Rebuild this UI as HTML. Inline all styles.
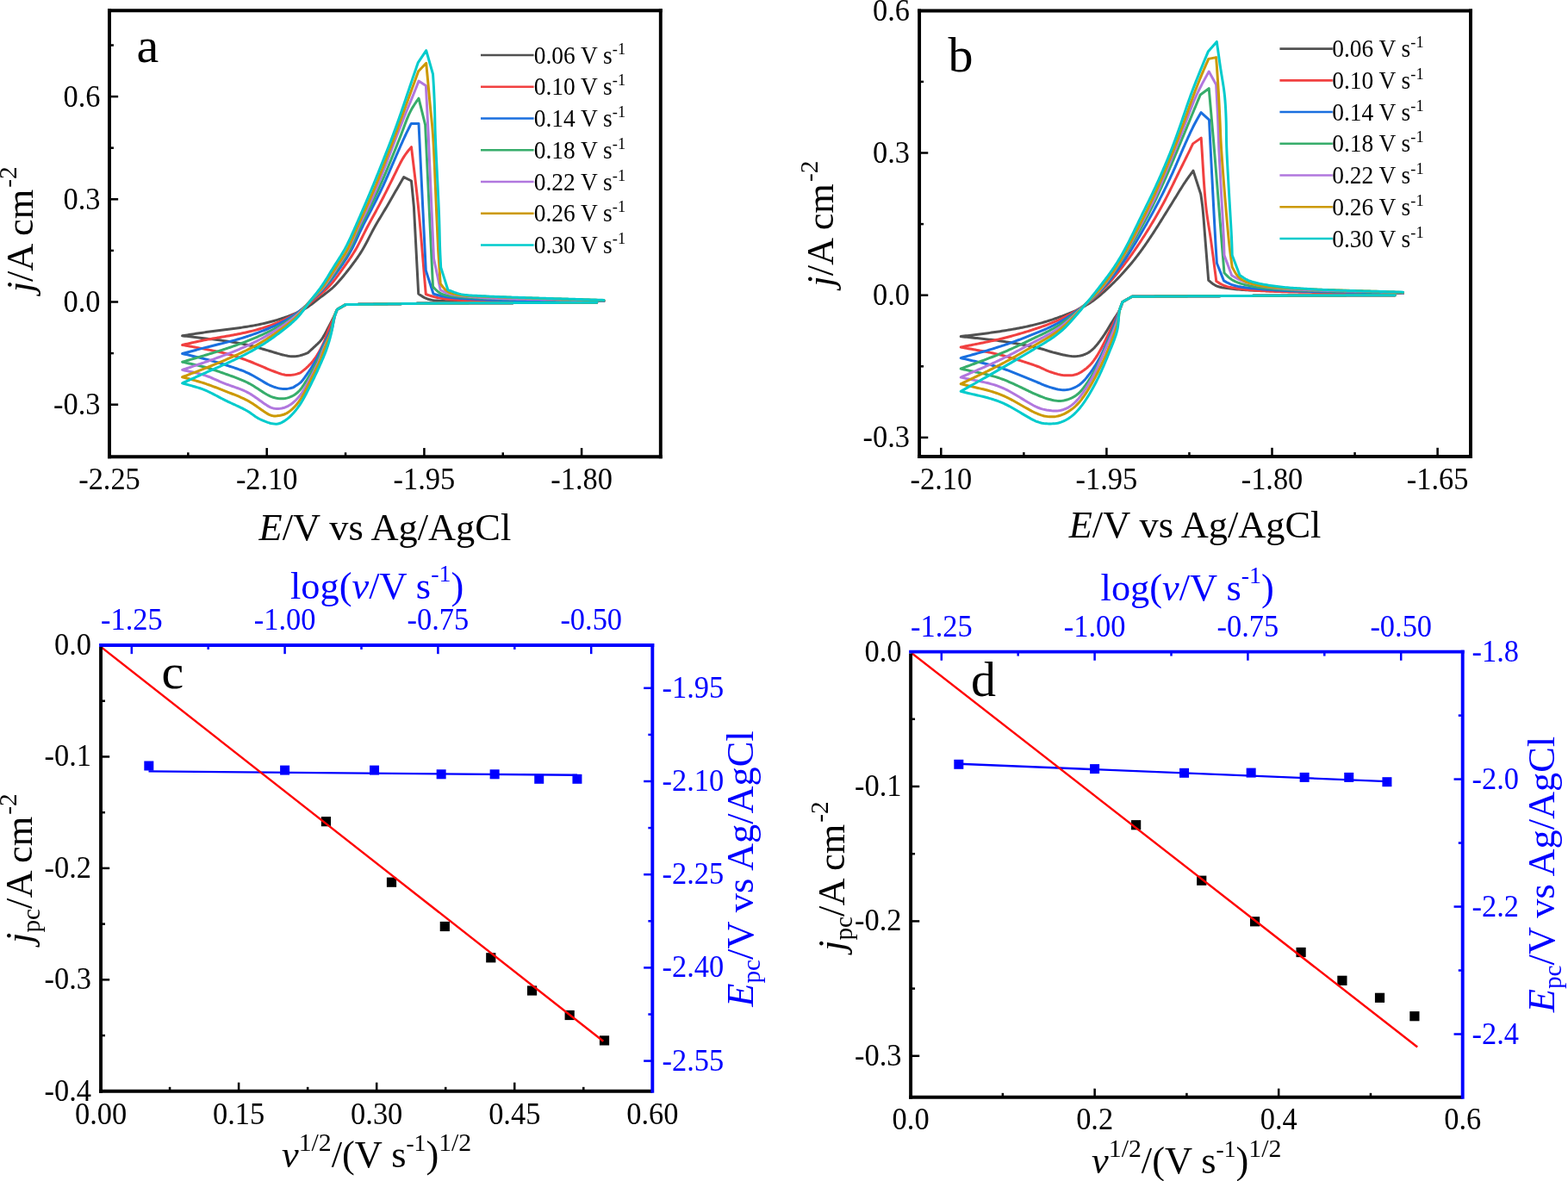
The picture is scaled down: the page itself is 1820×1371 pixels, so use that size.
<!DOCTYPE html>
<html><head><meta charset="utf-8"><title>CV figure</title><style>html,body{margin:0;padding:0;background:#fff;overflow:hidden;}svg{display:block;}</style></head><body>
<svg width="1820" height="1371" viewBox="0 0 1820 1371" font-family='"Liberation Serif", "Times New Roman", serif'>
<rect width="1820" height="1371" fill="#fff"/>
<path d="M692.7,351.2 L690.7,351.21 L688.7,351.22 L686.7,351.23 L684.7,351.23 L682.7,351.24 L680.7,351.25 L678.7,351.26 L676.7,351.27 L674.7,351.28 L672.7,351.28 L670.7,351.29 L668.7,351.3 L666.7,351.31 L664.7,351.32 L662.7,351.32 L660.7,351.33 L658.7,351.34 L656.7,351.35 L654.7,351.36 L652.7,351.36 L650.7,351.37 L648.7,351.38 L646.7,351.39 L644.7,351.4 L642.7,351.41 L640.7,351.41 L638.7,351.42 L636.7,351.43 L634.7,351.44 L632.7,351.45 L630.7,351.46 L628.7,351.46 L626.7,351.47 L624.7,351.48 L622.7,351.49 L620.7,351.5 L618.7,351.51 L616.7,351.52 L614.7,351.53 L612.7,351.54 L610.7,351.55 L608.7,351.56 L606.7,351.57 L604.7,351.58 L602.7,351.59 L600.7,351.6 L598.7,351.61 L596.7,351.62 L594.7,351.63 L592.7,351.64 L590.7,351.65 L588.7,351.66 L586.7,351.66 L584.7,351.67 L582.7,351.68 L580.7,351.69 L578.7,351.7 L576.7,351.71 L574.7,351.72 L572.7,351.73 L570.7,351.74 L568.7,351.75 L566.7,351.76 L564.7,351.77 L562.7,351.78 L560.7,351.79 L558.7,351.8 L556.7,351.81 L554.7,351.81 L552.7,351.83 L550.7,351.84 L548.7,351.85 L546.7,351.86 L544.7,351.87 L542.69,351.88 L540.69,351.89 L538.69,351.9 L536.69,351.91 L534.69,351.93 L532.69,351.94 L530.69,351.95 L528.69,351.96 L526.69,351.98 L524.69,351.99 L522.69,352.01 L520.69,352.02 L518.69,352.04 L516.69,352.05 L514.69,352.07 L512.69,352.08 L510.69,352.1 L508.69,352.12 L506.69,352.14 L504.69,352.16 L502.69,352.17 L500.69,352.19 L498.69,352.21 L496.69,352.24 L494.69,352.26 L492.69,352.28 L490.69,352.3 L488.69,352.33 L486.69,352.35 L484.69,352.37 L482.69,352.4 L480.69,352.42 L478.69,352.45 L476.69,352.48 L474.7,352.5 L472.7,352.53 L470.7,352.56 L468.7,352.58 L466.7,352.61 L464.7,352.64 L462.7,352.67 L460.7,352.7 L458.7,352.73 L456.7,352.76 L454.7,352.79 L452.7,352.82 L450.7,352.85 L448.7,352.88 L446.7,352.91 L444.7,352.94 L442.7,352.97 L440.7,353 L438.7,353.03 L436.7,353.06 L434.7,353.09 L432.7,353.13 L430.7,353.16 L428.7,353.19 L426.7,353.22 L424.7,353.25 L422.7,353.28 L420.7,353.31 L418.7,353.34 L416.7,353.37 L414.7,353.4 L412.7,353.43 L410.7,353.46 L408.7,353.49 L406.7,353.52 L404.7,353.55 L402.7,353.58 L401.2,353.6 L391.4,359.2 L390.58,361.03 L389.75,362.86 L388.91,364.67 L388.04,366.48 L387.17,368.28 L386.28,370.08 L385.39,371.88 L384.49,373.67 L383.59,375.46 L382.67,377.24 L381.74,379.02 L380.8,380.79 L379.86,382.56 L378.92,384.33 L377.98,386.1 L377.02,387.86 L376.04,389.61 L375.02,391.34 L373.94,393.02 L372.78,394.65 L371.52,396.2 L370.16,397.67 L368.73,399.07 L367.26,400.44 L365.79,401.8 L364.32,403.17 L362.85,404.53 L361.37,405.89 L359.89,407.24 L358.41,408.59 L357.3,409.6 L355.44,410.33 L353.57,411.04 L351.69,411.71 L349.79,412.32 L347.87,412.85 L345.93,413.27 L343.97,413.58 L342,413.76 L340.02,413.81 L338.04,413.72 L336.06,413.52 L334.09,413.21 L332.13,412.84 L330.18,412.41 L328.24,411.94 L326.3,411.45 L324.37,410.92 L322.45,410.37 L320.53,409.8 L318.62,409.22 L316.7,408.64 L314.79,408.06 L312.88,407.48 L310.96,406.91 L309.04,406.34 L307.12,405.77 L305.2,405.21 L303.28,404.65 L301.36,404.1 L299.44,403.55 L297.51,403.01 L295.58,402.49 L293.65,401.97 L291.71,401.47 L289.77,400.99 L287.82,400.53 L285.87,400.09 L283.92,399.67 L281.96,399.27 L280,398.88 L278.03,398.51 L276.06,398.15 L274.09,397.81 L272.12,397.48 L270.14,397.16 L268.17,396.84 L266.19,396.54 L264.21,396.24 L262.24,395.94 L260.26,395.65 L258.28,395.37 L256.29,395.1 L254.31,394.84 L252.33,394.59 L250.34,394.35 L248.35,394.11 L246.37,393.88 L244.38,393.65 L242.39,393.42 L240.41,393.19 L238.42,392.96 L236.43,392.73 L234.45,392.49 L232.46,392.26 L230.47,392.02 L228.49,391.79 L226.5,391.55 L224.51,391.32 L222.53,391.09 L220.54,390.85 L218.55,390.62 L216.57,390.38 L214.58,390.15 L212.59,389.92 L211.6,389.8 L213.58,389.49 L215.55,389.18 L217.53,388.87 L219.5,388.56 L221.48,388.25 L223.46,387.94 L225.43,387.63 L227.41,387.33 L229.39,387.03 L231.37,386.73 L233.35,386.44 L235.32,386.15 L237.3,385.86 L239.29,385.58 L241.27,385.31 L243.25,385.04 L245.23,384.78 L247.22,384.52 L249.2,384.27 L251.19,384.02 L253.17,383.78 L255.16,383.54 L257.14,383.29 L259.13,383.05 L261.11,382.81 L263.1,382.56 L265.08,382.31 L267.07,382.06 L269.05,381.8 L271.03,381.54 L273.02,381.27 L275,381 L276.98,380.72 L278.96,380.43 L280.94,380.14 L282.91,379.84 L284.89,379.53 L286.87,379.22 L288.84,378.89 L290.81,378.56 L292.78,378.21 L294.75,377.86 L296.71,377.48 L298.68,377.1 L300.64,376.7 L302.59,376.29 L304.54,375.86 L306.49,375.42 L308.44,374.96 L310.39,374.49 L312.32,374 L314.26,373.5 L316.19,372.99 L318.12,372.46 L320.04,371.91 L321.96,371.35 L323.87,370.76 L325.78,370.16 L327.68,369.53 L329.57,368.89 L331.45,368.22 L333.33,367.54 L335.2,366.83 L337.06,366.11 L338.92,365.38 L340.77,364.62 L342.62,363.86 L344.45,363.07 L346.28,362.26 L348.09,361.43 L349.88,360.56 L351.64,359.65 L353.38,358.7 L355.09,357.69 L356.76,356.64 L358.4,355.53 L360.02,354.38 L361.61,353.19 L363.19,351.97 L364.75,350.74 L366.32,349.5 L367.89,348.27 L369.46,347.05 L371.05,345.84 L372.65,344.64 L374.25,343.45 L375.86,342.26 L377.46,341.07 L379.05,339.87 L380.63,338.65 L382.19,337.41 L383.72,336.13 L385.22,334.83 L386.69,333.49 L388.13,332.11 L389.54,330.7 L390.93,329.27 L392.29,327.81 L393.62,326.33 L394.94,324.82 L396.24,323.3 L397.52,321.77 L398.79,320.23 L400.05,318.67 L401.3,317.11 L402.54,315.54 L403.77,313.97 L405,312.39 L406.22,310.81 L407.44,309.22 L408.64,307.62 L409.84,306.02 L411.03,304.42 L412.21,302.8 L413.38,301.18 L414.53,299.54 L415.66,297.9 L416.78,296.24 L417.87,294.57 L418.95,292.88 L420,291.19 L421.03,289.47 L422.04,287.75 L423.02,286.01 L423.99,284.26 L424.94,282.5 L425.87,280.73 L426.79,278.96 L427.7,277.18 L428.61,275.4 L429.52,273.62 L430.44,271.84 L431.36,270.07 L432.3,268.3 L433.24,266.54 L434.2,264.78 L435.17,263.04 L436.15,261.3 L437.15,259.56 L438.16,257.84 L439.18,256.11 L440.2,254.39 L441.23,252.68 L442.26,250.97 L443.3,249.25 L444.33,247.54 L445.36,245.83 L446.39,244.11 L447.41,242.39 L448.44,240.67 L449.45,238.95 L450.46,237.23 L451.47,235.5 L452.47,233.77 L453.47,232.03 L454.47,230.3 L455.46,228.56 L456.46,226.83 L457.45,225.09 L458.44,223.35 L459.43,221.62 L460.43,219.88 L461.42,218.15 L462.42,216.41 L463.42,214.68 L464.42,212.95 L465.43,211.22 L466.43,209.49 L467.44,207.76 L468.45,206.03 L468.7,205.6 L477.5,210 L480.4,240 L485.7,341 L487.33,342.16 L488.97,343.3 L490.64,344.38 L492.36,345.37 L494.14,346.23 L495.98,346.96 L497.87,347.54 L499.81,348 L501.77,348.36 L503.75,348.65 L505.73,348.88 L507.73,349.08 L509.72,349.24 L511.72,349.38 L513.72,349.49 L515.72,349.58 L517.72,349.65 L519.72,349.7 L521.72,349.73 L523.73,349.75 L525.73,349.76 L527.73,349.77 L529.74,349.76 L531.74,349.76 L533.74,349.75 L535.75,349.73 L537.75,349.71 L539.75,349.7 L541.75,349.68 L543.76,349.66 L545.76,349.65 L547.76,349.63 L549.77,349.62 L551.77,349.61 L553.77,349.6 L555.78,349.6 L557.78,349.6 L559.78,349.6 L561.79,349.61 L563.79,349.61 L565.79,349.62 L567.79,349.62 L569.8,349.63 L571.8,349.63 L573.8,349.64 L575.81,349.64 L577.81,349.64 L579.81,349.65 L581.82,349.65 L583.82,349.65 L585.82,349.65 L587.83,349.66 L589.83,349.66 L591.83,349.66 L593.83,349.66 L595.84,349.66 L597.84,349.66 L599.84,349.66 L601.85,349.66 L603.85,349.66 L605.85,349.66 L607.86,349.66 L609.86,349.66 L611.86,349.66 L613.87,349.66 L615.87,349.66 L617.87,349.66 L619.87,349.66 L621.88,349.65 L623.88,349.65 L625.88,349.65 L627.89,349.65 L629.89,349.65 L631.89,349.65 L633.9,349.65 L635.9,349.64 L637.9,349.64 L639.91,349.64 L641.91,349.64 L643.91,349.64 L645.91,349.64 L647.92,349.63 L649.92,349.63 L651.92,349.63 L653.93,349.63 L655.93,349.63 L657.93,349.62 L659.94,349.62 L661.94,349.62 L663.94,349.62 L665.95,349.62 L667.95,349.62 L669.95,349.61 L671.96,349.61 L673.96,349.61 L675.96,349.61 L677.96,349.61 L679.97,349.61 L681.97,349.61 L683.97,349.61 L685.98,349.6 L687.98,349.6 L689.98,349.6 L691.99,349.6 L693.99,349.6 L695.99,349.6 L698,349.6 L700,349.6 L701,349.6" fill="none" stroke="#515151" stroke-width="3" stroke-linejoin="round" stroke-linecap="round"/>
<path d="M692.7,351.2 L690.7,351.21 L688.7,351.22 L686.7,351.23 L684.7,351.23 L682.7,351.24 L680.7,351.25 L678.7,351.26 L676.7,351.27 L674.7,351.28 L672.7,351.28 L670.7,351.29 L668.7,351.3 L666.7,351.31 L664.7,351.32 L662.7,351.32 L660.7,351.33 L658.7,351.34 L656.7,351.35 L654.7,351.36 L652.7,351.36 L650.7,351.37 L648.7,351.38 L646.7,351.39 L644.7,351.4 L642.7,351.41 L640.7,351.41 L638.7,351.42 L636.7,351.43 L634.7,351.44 L632.7,351.45 L630.7,351.46 L628.7,351.46 L626.7,351.47 L624.7,351.48 L622.7,351.49 L620.7,351.5 L618.7,351.51 L616.7,351.52 L614.7,351.53 L612.7,351.54 L610.7,351.55 L608.7,351.56 L606.7,351.57 L604.7,351.58 L602.7,351.59 L600.7,351.6 L598.7,351.61 L596.7,351.62 L594.7,351.63 L592.7,351.64 L590.7,351.65 L588.7,351.66 L586.7,351.66 L584.7,351.67 L582.7,351.68 L580.7,351.69 L578.7,351.7 L576.7,351.71 L574.7,351.72 L572.7,351.73 L570.7,351.74 L568.7,351.75 L566.7,351.76 L564.7,351.77 L562.7,351.78 L560.7,351.79 L558.7,351.8 L556.7,351.81 L554.7,351.81 L552.7,351.83 L550.7,351.84 L548.7,351.85 L546.7,351.86 L544.7,351.87 L542.69,351.88 L540.69,351.89 L538.69,351.9 L536.69,351.91 L534.69,351.93 L532.69,351.94 L530.69,351.95 L528.69,351.96 L526.69,351.98 L524.69,351.99 L522.69,352.01 L520.69,352.02 L518.69,352.04 L516.69,352.05 L514.69,352.07 L512.69,352.08 L510.69,352.1 L508.69,352.12 L506.69,352.14 L504.69,352.16 L502.69,352.17 L500.69,352.19 L498.69,352.21 L496.69,352.24 L494.69,352.26 L492.69,352.28 L490.69,352.3 L488.69,352.33 L486.69,352.35 L484.69,352.37 L482.69,352.4 L480.69,352.42 L478.69,352.45 L476.69,352.48 L474.7,352.5 L472.7,352.53 L470.7,352.56 L468.7,352.58 L466.7,352.61 L464.7,352.64 L462.7,352.67 L460.7,352.7 L458.7,352.73 L456.7,352.76 L454.7,352.79 L452.7,352.82 L450.7,352.85 L448.7,352.88 L446.7,352.91 L444.7,352.94 L442.7,352.97 L440.7,353 L438.7,353.03 L436.7,353.06 L434.7,353.09 L432.7,353.13 L430.7,353.16 L428.7,353.19 L426.7,353.22 L424.7,353.25 L422.7,353.28 L420.7,353.31 L418.7,353.34 L416.7,353.37 L414.7,353.4 L412.7,353.43 L410.7,353.46 L408.7,353.49 L406.7,353.52 L404.7,353.55 L402.7,353.58 L401.2,353.6 L391.4,359.2 L390.61,361.04 L389.82,362.88 L389.03,364.73 L388.25,366.57 L387.46,368.41 L386.67,370.26 L385.89,372.1 L385.11,373.94 L384.33,375.79 L383.55,377.64 L382.78,379.49 L382.01,381.34 L381.26,383.19 L380.52,385.06 L379.8,386.93 L379.11,388.81 L378.43,390.7 L377.75,392.58 L377.05,394.46 L376.31,396.32 L375.53,398.16 L374.7,399.99 L373.83,401.79 L372.93,403.58 L372,405.36 L371.05,407.12 L370.07,408.87 L369.06,410.6 L368.01,412.31 L366.92,413.99 L365.79,415.64 L364.61,417.26 L363.39,418.84 L362.12,420.39 L360.8,421.9 L359.44,423.38 L358.05,424.81 L356.61,426.21 L355.12,427.55 L353.59,428.83 L352.03,430.09 L350.46,431.34 L348.89,432.59 L348.5,432.9 L346.59,433.51 L344.68,434.08 L342.75,434.6 L340.8,435.03 L338.84,435.35 L336.87,435.53 L334.88,435.56 L332.9,435.46 L330.93,435.21 L328.98,434.83 L327.05,434.34 L325.13,433.76 L323.24,433.12 L321.36,432.44 L319.48,431.73 L317.61,431.01 L315.74,430.28 L313.88,429.54 L312.02,428.79 L310.17,428.03 L308.31,427.26 L306.47,426.48 L304.62,425.69 L302.78,424.9 L300.94,424.11 L299.1,423.32 L297.25,422.54 L295.4,421.76 L293.55,421 L291.69,420.25 L289.83,419.51 L287.95,418.8 L286.08,418.1 L284.19,417.41 L282.3,416.74 L280.41,416.08 L278.51,415.43 L276.61,414.79 L274.71,414.17 L272.8,413.56 L270.89,412.95 L268.97,412.37 L267.05,411.79 L265.12,411.24 L263.19,410.7 L261.26,410.17 L259.32,409.67 L257.37,409.19 L255.42,408.74 L253.46,408.3 L251.5,407.88 L249.54,407.48 L247.57,407.1 L245.6,406.72 L243.63,406.35 L241.66,405.98 L239.69,405.61 L237.72,405.23 L235.75,404.86 L233.78,404.49 L231.81,404.12 L229.84,403.75 L227.87,403.38 L225.9,403.02 L223.93,402.65 L221.95,402.29 L219.98,401.93 L218.01,401.57 L216.04,401.21 L214.07,400.85 L212.09,400.49 L211.6,400.4 L213.55,399.97 L215.51,399.53 L217.46,399.1 L219.42,398.67 L221.37,398.24 L223.33,397.81 L225.28,397.38 L227.24,396.95 L229.2,396.53 L231.15,396.11 L233.11,395.7 L235.07,395.3 L237.04,394.9 L239,394.52 L240.96,394.14 L242.93,393.76 L244.9,393.4 L246.87,393.05 L248.84,392.7 L250.81,392.36 L252.79,392.02 L254.76,391.68 L256.73,391.35 L258.71,391.02 L260.68,390.68 L262.65,390.34 L264.63,390 L266.6,389.65 L268.57,389.3 L270.54,388.94 L272.5,388.57 L274.47,388.19 L276.43,387.8 L278.39,387.41 L280.35,387 L282.31,386.59 L284.27,386.16 L286.22,385.73 L288.17,385.28 L290.12,384.82 L292.06,384.35 L294,383.86 L295.94,383.36 L297.87,382.84 L299.8,382.3 L301.72,381.74 L303.64,381.17 L305.55,380.58 L307.46,379.98 L309.36,379.35 L311.25,378.71 L313.14,378.06 L315.03,377.38 L316.9,376.69 L318.77,375.98 L320.63,375.24 L322.48,374.49 L324.32,373.71 L326.15,372.91 L327.97,372.08 L329.78,371.23 L331.58,370.35 L333.36,369.45 L335.13,368.52 L336.89,367.57 L338.64,366.61 L340.38,365.62 L342.11,364.61 L343.82,363.58 L345.52,362.53 L347.2,361.45 L348.86,360.34 L350.49,359.21 L352.11,358.04 L353.69,356.83 L355.26,355.6 L356.8,354.33 L358.33,353.05 L359.85,351.76 L361.37,350.46 L362.88,349.15 L364.41,347.86 L365.94,346.58 L367.48,345.3 L369.02,344.03 L370.57,342.76 L372.11,341.5 L373.64,340.22 L375.16,338.92 L376.65,337.6 L378.12,336.25 L379.56,334.87 L380.96,333.46 L382.33,332.01 L383.67,330.54 L384.98,329.03 L386.26,327.5 L387.52,325.95 L388.75,324.38 L389.97,322.79 L391.18,321.19 L392.37,319.59 L393.55,317.98 L394.73,316.36 L395.91,314.74 L397.07,313.11 L398.24,311.48 L399.41,309.86 L400.57,308.23 L401.73,306.59 L402.88,304.96 L404.03,303.32 L405.16,301.67 L406.29,300.02 L407.4,298.36 L408.5,296.68 L409.58,295 L410.64,293.31 L411.68,291.6 L412.7,289.88 L413.7,288.15 L414.68,286.4 L415.63,284.64 L416.57,282.88 L417.49,281.1 L418.4,279.32 L419.3,277.53 L420.2,275.74 L421.09,273.95 L421.98,272.16 L422.88,270.37 L423.78,268.59 L424.69,266.8 L425.61,265.02 L426.53,263.25 L427.47,261.48 L428.41,259.72 L429.36,257.95 L430.32,256.2 L431.28,254.44 L432.24,252.68 L433.2,250.93 L434.17,249.17 L435.13,247.42 L436.09,245.66 L437.04,243.9 L437.99,242.14 L438.94,240.38 L439.88,238.61 L440.82,236.84 L441.75,235.07 L442.67,233.29 L443.59,231.52 L444.51,229.74 L445.43,227.96 L446.34,226.17 L447.25,224.39 L448.15,222.6 L449.05,220.82 L449.95,219.03 L450.85,217.24 L451.74,215.45 L452.64,213.66 L453.52,211.86 L454.41,210.07 L455.29,208.27 L456.17,206.47 L457.05,204.67 L457.93,202.87 L458.81,201.08 L459.68,199.28 L460.56,197.48 L461.45,195.68 L462.33,193.89 L463.23,192.1 L464.14,190.32 L465.06,188.55 L466.01,186.79 L466.99,185.06 L468,183.34 L469.05,181.65 L470.14,180 L471.28,178.37 L472.46,176.77 L473.69,175.2 L474.94,173.66 L476.21,172.12 L477.5,170.6 L477.73,172.59 L477.96,174.58 L478.2,176.57 L478.43,178.56 L478.67,180.55 L478.91,182.54 L479.14,184.53 L479.38,186.52 L479.62,188.51 L479.86,190.5 L480.1,192.49 L480.34,194.48 L480.58,196.47 L480.82,198.46 L481.06,200.45 L481.3,202.44 L481.53,204.43 L481.77,206.42 L482.01,208.41 L482.24,210.4 L482.47,212.39 L482.7,214.38 L482.93,216.37 L483.16,218.36 L483.39,220.35 L483.61,222.34 L483.83,224.34 L484.05,226.33 L484.27,228.32 L484.49,230.31 L484.7,232.3 L484.91,234.3 L485.12,236.29 L485.32,238.28 L485.52,240.28 L485.72,242.27 L485.92,244.27 L486.11,246.26 L486.31,248.26 L486.5,250.25 L486.69,252.25 L486.87,254.24 L487.06,256.24 L487.24,258.23 L487.42,260.23 L487.6,262.22 L487.78,264.22 L487.96,266.22 L488.13,268.21 L488.31,270.21 L488.48,272.2 L488.65,274.2 L488.83,276.2 L489,278.19 L489.17,280.19 L489.34,282.19 L489.51,284.19 L489.67,286.18 L489.84,288.18 L490.01,290.18 L490.17,292.17 L490.34,294.17 L490.51,296.17 L490.67,298.16 L490.84,300.16 L491,302.16 L491.17,304.16 L491.33,306.15 L491.5,308.15 L491.66,310.15 L491.83,312.14 L491.99,314.14 L492.16,316.14 L492.32,318.14 L492.49,320.13 L492.65,322.13 L492.82,324.13 L492.99,326.12 L493.15,328.12 L493.32,330.12 L493.49,332.12 L493.66,334.11 L493.83,336.11 L494,338.11 L494.17,340.1 L494.3,341.6 L496.2,342.24 L498.1,342.88 L500.01,343.48 L501.93,344.05 L503.86,344.57 L505.81,345.04 L507.76,345.47 L509.73,345.85 L511.7,346.19 L513.68,346.5 L515.67,346.77 L517.66,347.02 L519.65,347.25 L521.64,347.45 L523.64,347.64 L525.63,347.8 L527.63,347.95 L529.63,348.09 L531.63,348.21 L533.64,348.32 L535.64,348.42 L537.64,348.52 L539.64,348.61 L541.65,348.69 L543.65,348.76 L545.65,348.83 L547.66,348.9 L549.66,348.96 L551.66,349.02 L553.67,349.08 L555.67,349.13 L557.67,349.19 L559.68,349.23 L561.68,349.28 L563.69,349.32 L565.69,349.36 L567.69,349.39 L569.7,349.42 L571.7,349.45 L573.71,349.47 L575.71,349.49 L577.72,349.51 L579.72,349.53 L581.73,349.55 L583.73,349.56 L585.74,349.57 L587.74,349.58 L589.74,349.59 L591.75,349.6 L593.75,349.61 L595.76,349.61 L597.76,349.61 L599.77,349.62 L601.77,349.62 L603.78,349.62 L605.78,349.62 L607.79,349.62 L609.79,349.62 L611.8,349.62 L613.8,349.62 L615.8,349.61 L617.81,349.61 L619.81,349.61 L621.82,349.6 L623.82,349.6 L625.83,349.59 L627.83,349.59 L629.84,349.58 L631.84,349.57 L633.85,349.57 L635.85,349.56 L637.86,349.55 L639.86,349.55 L641.86,349.54 L643.87,349.53 L645.87,349.52 L647.88,349.52 L649.88,349.51 L651.89,349.5 L653.89,349.49 L655.9,349.49 L657.9,349.48 L659.91,349.47 L661.91,349.47 L663.91,349.46 L665.92,349.45 L667.92,349.45 L669.93,349.44 L671.93,349.43 L673.94,349.43 L675.94,349.42 L677.95,349.42 L679.95,349.41 L681.96,349.41 L683.96,349.41 L685.97,349.4 L687.97,349.4 L689.97,349.4 L691.98,349.4 L693.98,349.4 L695.99,349.4 L697.99,349.4 L700,349.4 L701,349.4" fill="none" stroke="#F14040" stroke-width="3" stroke-linejoin="round" stroke-linecap="round"/>
<path d="M692.7,351.2 L690.7,351.21 L688.7,351.22 L686.7,351.23 L684.7,351.23 L682.7,351.24 L680.7,351.25 L678.7,351.26 L676.7,351.27 L674.7,351.28 L672.7,351.28 L670.7,351.29 L668.7,351.3 L666.7,351.31 L664.7,351.32 L662.7,351.32 L660.7,351.33 L658.7,351.34 L656.7,351.35 L654.7,351.36 L652.7,351.36 L650.7,351.37 L648.7,351.38 L646.7,351.39 L644.7,351.4 L642.7,351.41 L640.7,351.41 L638.7,351.42 L636.7,351.43 L634.7,351.44 L632.7,351.45 L630.7,351.46 L628.7,351.46 L626.7,351.47 L624.7,351.48 L622.7,351.49 L620.7,351.5 L618.7,351.51 L616.7,351.52 L614.7,351.53 L612.7,351.54 L610.7,351.55 L608.7,351.56 L606.7,351.57 L604.7,351.58 L602.7,351.59 L600.7,351.6 L598.7,351.61 L596.7,351.62 L594.7,351.63 L592.7,351.64 L590.7,351.65 L588.7,351.66 L586.7,351.66 L584.7,351.67 L582.7,351.68 L580.7,351.69 L578.7,351.7 L576.7,351.71 L574.7,351.72 L572.7,351.73 L570.7,351.74 L568.7,351.75 L566.7,351.76 L564.7,351.77 L562.7,351.78 L560.7,351.79 L558.7,351.8 L556.7,351.81 L554.7,351.81 L552.7,351.83 L550.7,351.84 L548.7,351.85 L546.7,351.86 L544.7,351.87 L542.69,351.88 L540.69,351.89 L538.69,351.9 L536.69,351.91 L534.69,351.93 L532.69,351.94 L530.69,351.95 L528.69,351.96 L526.69,351.98 L524.69,351.99 L522.69,352.01 L520.69,352.02 L518.69,352.04 L516.69,352.05 L514.69,352.07 L512.69,352.08 L510.69,352.1 L508.69,352.12 L506.69,352.14 L504.69,352.16 L502.69,352.17 L500.69,352.19 L498.69,352.21 L496.69,352.24 L494.69,352.26 L492.69,352.28 L490.69,352.3 L488.69,352.33 L486.69,352.35 L484.69,352.37 L482.69,352.4 L480.69,352.42 L478.69,352.45 L476.69,352.48 L474.7,352.5 L472.7,352.53 L470.7,352.56 L468.7,352.58 L466.7,352.61 L464.7,352.64 L462.7,352.67 L460.7,352.7 L458.7,352.73 L456.7,352.76 L454.7,352.79 L452.7,352.82 L450.7,352.85 L448.7,352.88 L446.7,352.91 L444.7,352.94 L442.7,352.97 L440.7,353 L438.7,353.03 L436.7,353.06 L434.7,353.09 L432.7,353.13 L430.7,353.16 L428.7,353.19 L426.7,353.22 L424.7,353.25 L422.7,353.28 L420.7,353.31 L418.7,353.34 L416.7,353.37 L414.7,353.4 L412.7,353.43 L410.7,353.46 L408.7,353.49 L406.7,353.52 L404.7,353.55 L402.7,353.58 L401.2,353.6 L391.4,359.2 L390.61,361.04 L389.84,362.89 L389.13,364.77 L388.49,366.66 L387.91,368.58 L387.37,370.51 L386.84,372.45 L386.31,374.38 L385.77,376.31 L385.21,378.24 L384.62,380.15 L383.99,382.06 L383.3,383.94 L382.56,385.8 L381.77,387.64 L380.94,389.47 L380.08,391.28 L379.2,393.08 L378.29,394.87 L377.38,396.65 L376.46,398.43 L375.54,400.21 L374.62,401.99 L373.72,403.78 L372.83,405.58 L371.96,407.39 L371.11,409.2 L370.26,411.02 L369.4,412.83 L368.52,414.64 L367.62,416.42 L366.68,418.2 L365.7,419.95 L364.69,421.68 L363.65,423.39 L362.58,425.08 L361.5,426.77 L360.4,428.45 L359.29,430.12 L358.17,431.78 L357.04,433.44 L355.9,435.08 L354.74,436.73 L353.58,438.36 L352.4,439.98 L351.19,441.57 L349.87,443.06 L348.4,444.42 L346.81,445.62 L345.15,446.74 L343.46,447.82 L341.77,448.89 L340.5,449.7 L338.57,450.22 L336.64,450.71 L334.7,451.12 L332.74,451.4 L330.77,451.54 L328.8,451.51 L326.83,451.33 L324.87,451.02 L322.92,450.61 L320.99,450.12 L319.08,449.55 L317.2,448.89 L315.34,448.16 L313.52,447.35 L311.72,446.48 L309.96,445.55 L308.21,444.58 L306.47,443.59 L304.75,442.57 L303.03,441.55 L301.31,440.52 L299.59,439.5 L297.87,438.48 L296.14,437.47 L294.4,436.49 L292.65,435.53 L290.88,434.59 L289.09,433.69 L287.29,432.83 L285.47,432.01 L283.63,431.22 L281.78,430.47 L279.91,429.74 L278.04,429.04 L276.16,428.37 L274.27,427.71 L272.37,427.07 L270.47,426.44 L268.57,425.82 L266.67,425.21 L264.76,424.6 L262.85,424 L260.94,423.4 L259.03,422.8 L257.12,422.21 L255.21,421.63 L253.29,421.05 L251.38,420.48 L249.45,419.92 L247.53,419.37 L245.6,418.83 L243.68,418.3 L241.74,417.77 L239.81,417.26 L237.88,416.75 L235.94,416.25 L234,415.76 L232.06,415.27 L230.11,414.8 L228.17,414.34 L226.22,413.88 L224.27,413.42 L222.32,412.97 L220.37,412.52 L218.42,412.08 L216.47,411.63 L214.52,411.18 L212.57,410.73 L211.6,410.5 L213.53,409.99 L215.47,409.48 L217.4,408.97 L219.34,408.46 L221.27,407.95 L223.21,407.44 L225.14,406.93 L227.08,406.43 L229.01,405.92 L230.95,405.42 L232.88,404.91 L234.82,404.41 L236.76,403.91 L238.69,403.42 L240.63,402.93 L242.57,402.44 L244.51,401.96 L246.46,401.48 L248.4,401 L250.34,400.52 L252.28,400.05 L254.23,399.58 L256.17,399.1 L258.11,398.63 L260.05,398.15 L261.99,397.66 L263.93,397.17 L265.87,396.67 L267.81,396.16 L269.74,395.65 L271.67,395.12 L273.59,394.58 L275.52,394.04 L277.44,393.48 L279.35,392.9 L281.27,392.32 L283.17,391.73 L285.08,391.12 L286.98,390.51 L288.88,389.88 L290.78,389.24 L292.67,388.59 L294.56,387.93 L296.44,387.26 L298.32,386.57 L300.19,385.88 L302.07,385.18 L303.93,384.46 L305.8,383.74 L307.66,383 L309.51,382.26 L311.36,381.5 L313.21,380.73 L315.05,379.95 L316.88,379.15 L318.7,378.33 L320.52,377.5 L322.33,376.64 L324.12,375.77 L325.91,374.87 L327.68,373.94 L329.43,373 L331.18,372.02 L332.91,371.03 L334.63,370.01 L336.33,368.96 L338.01,367.89 L339.69,366.8 L341.34,365.69 L342.99,364.55 L344.61,363.39 L346.21,362.2 L347.79,360.98 L349.35,359.73 L350.88,358.46 L352.39,357.16 L353.88,355.83 L355.36,354.49 L356.82,353.13 L358.27,351.76 L359.72,350.38 L361.17,349.01 L362.63,347.64 L364.09,346.28 L365.55,344.92 L367.02,343.56 L368.49,342.21 L369.95,340.85 L371.41,339.48 L372.84,338.09 L374.26,336.69 L375.65,335.26 L377.02,333.81 L378.36,332.33 L379.67,330.83 L380.96,329.31 L382.23,327.76 L383.48,326.21 L384.71,324.63 L385.93,323.04 L387.13,321.45 L388.32,319.84 L389.5,318.23 L390.67,316.61 L391.84,314.98 L392.99,313.35 L394.14,311.71 L395.29,310.07 L396.42,308.43 L397.55,306.78 L398.67,305.12 L399.78,303.46 L400.88,301.78 L401.96,300.1 L403.02,298.41 L404.07,296.71 L405.09,294.99 L406.1,293.27 L407.08,291.53 L408.04,289.78 L408.97,288.01 L409.89,286.23 L410.78,284.45 L411.65,282.65 L412.5,280.84 L413.35,279.03 L414.18,277.21 L415.01,275.39 L415.84,273.57 L416.67,271.75 L417.51,269.94 L418.36,268.13 L419.22,266.32 L420.09,264.52 L420.97,262.73 L421.86,260.94 L422.76,259.15 L423.68,257.37 L424.6,255.6 L425.52,253.83 L426.45,252.05 L427.38,250.28 L428.31,248.51 L429.24,246.74 L430.17,244.97 L431.1,243.2 L432.02,241.42 L432.93,239.64 L433.85,237.86 L434.75,236.08 L435.66,234.3 L436.56,232.51 L437.45,230.72 L438.34,228.93 L439.23,227.14 L440.11,225.34 L440.98,223.54 L441.85,221.74 L442.71,219.93 L443.56,218.13 L444.41,216.31 L445.25,214.5 L446.08,212.68 L446.9,210.86 L447.72,209.03 L448.53,207.2 L449.33,205.37 L450.13,203.54 L450.93,201.7 L451.72,199.87 L452.51,198.03 L453.3,196.19 L454.09,194.35 L454.88,192.51 L455.67,190.68 L456.46,188.84 L457.25,187 L458.04,185.17 L458.84,183.33 L459.64,181.5 L460.43,179.66 L461.23,177.83 L462.03,175.99 L462.84,174.16 L463.64,172.33 L464.45,170.5 L465.25,168.67 L466.07,166.84 L466.88,165.02 L467.71,163.19 L468.54,161.37 L469.37,159.56 L470.22,157.75 L471.08,155.94 L471.94,154.14 L472.82,152.34 L473.7,150.54 L474.59,148.75 L475.49,146.97 L476.39,145.18 L477.3,143.4 L486,143.4 L494.3,314 L503,341 L504.91,341.61 L506.82,342.2 L508.74,342.76 L510.67,343.28 L512.61,343.74 L514.57,344.14 L516.53,344.49 L518.51,344.79 L520.49,345.06 L522.48,345.3 L524.47,345.52 L526.46,345.71 L528.45,345.9 L530.45,346.07 L532.44,346.23 L534.44,346.38 L536.43,346.52 L538.43,346.65 L540.43,346.78 L542.42,346.9 L544.42,347.01 L546.42,347.12 L548.42,347.23 L550.42,347.33 L552.42,347.43 L554.42,347.53 L556.42,347.62 L558.41,347.71 L560.41,347.79 L562.41,347.87 L564.41,347.95 L566.41,348.02 L568.41,348.08 L570.42,348.14 L572.42,348.2 L574.42,348.25 L576.42,348.3 L578.42,348.34 L580.42,348.38 L582.42,348.42 L584.42,348.46 L586.42,348.49 L588.42,348.52 L590.42,348.55 L592.43,348.58 L594.43,348.61 L596.43,348.63 L598.43,348.66 L600.43,348.68 L602.43,348.7 L604.43,348.72 L606.44,348.73 L608.44,348.75 L610.44,348.76 L612.44,348.78 L614.44,348.79 L616.44,348.8 L618.44,348.82 L620.44,348.83 L622.45,348.84 L624.45,348.85 L626.45,348.86 L628.45,348.86 L630.45,348.87 L632.45,348.88 L634.45,348.89 L636.46,348.89 L638.46,348.9 L640.46,348.91 L642.46,348.91 L644.46,348.92 L646.46,348.92 L648.46,348.93 L650.47,348.94 L652.47,348.94 L654.47,348.95 L656.47,348.95 L658.47,348.96 L660.47,348.97 L662.47,348.97 L664.48,348.98 L666.48,348.99 L668.48,348.99 L670.48,349 L672.48,349.01 L674.48,349.02 L676.48,349.03 L678.48,349.04 L680.49,349.05 L682.49,349.06 L684.49,349.07 L686.49,349.08 L688.49,349.09 L690.49,349.11 L692.49,349.12 L694.5,349.14 L696.5,349.16 L698.5,349.18 L700.5,349.2 L701,349.2" fill="none" stroke="#1A6FDF" stroke-width="3" stroke-linejoin="round" stroke-linecap="round"/>
<path d="M692.7,351.2 L690.7,351.21 L688.7,351.22 L686.7,351.23 L684.7,351.23 L682.7,351.24 L680.7,351.25 L678.7,351.26 L676.7,351.27 L674.7,351.28 L672.7,351.28 L670.7,351.29 L668.7,351.3 L666.7,351.31 L664.7,351.32 L662.7,351.32 L660.7,351.33 L658.7,351.34 L656.7,351.35 L654.7,351.36 L652.7,351.36 L650.7,351.37 L648.7,351.38 L646.7,351.39 L644.7,351.4 L642.7,351.41 L640.7,351.41 L638.7,351.42 L636.7,351.43 L634.7,351.44 L632.7,351.45 L630.7,351.46 L628.7,351.46 L626.7,351.47 L624.7,351.48 L622.7,351.49 L620.7,351.5 L618.7,351.51 L616.7,351.52 L614.7,351.53 L612.7,351.54 L610.7,351.55 L608.7,351.56 L606.7,351.57 L604.7,351.58 L602.7,351.59 L600.7,351.6 L598.7,351.61 L596.7,351.62 L594.7,351.63 L592.7,351.64 L590.7,351.65 L588.7,351.66 L586.7,351.66 L584.7,351.67 L582.7,351.68 L580.7,351.69 L578.7,351.7 L576.7,351.71 L574.7,351.72 L572.7,351.73 L570.7,351.74 L568.7,351.75 L566.7,351.76 L564.7,351.77 L562.7,351.78 L560.7,351.79 L558.7,351.8 L556.7,351.81 L554.7,351.81 L552.7,351.83 L550.7,351.84 L548.7,351.85 L546.7,351.86 L544.7,351.87 L542.69,351.88 L540.69,351.89 L538.69,351.9 L536.69,351.91 L534.69,351.93 L532.69,351.94 L530.69,351.95 L528.69,351.96 L526.69,351.98 L524.69,351.99 L522.69,352.01 L520.69,352.02 L518.69,352.04 L516.69,352.05 L514.69,352.07 L512.69,352.08 L510.69,352.1 L508.69,352.12 L506.69,352.14 L504.69,352.16 L502.69,352.17 L500.69,352.19 L498.69,352.21 L496.69,352.24 L494.69,352.26 L492.69,352.28 L490.69,352.3 L488.69,352.33 L486.69,352.35 L484.69,352.37 L482.69,352.4 L480.69,352.42 L478.69,352.45 L476.69,352.48 L474.7,352.5 L472.7,352.53 L470.7,352.56 L468.7,352.58 L466.7,352.61 L464.7,352.64 L462.7,352.67 L460.7,352.7 L458.7,352.73 L456.7,352.76 L454.7,352.79 L452.7,352.82 L450.7,352.85 L448.7,352.88 L446.7,352.91 L444.7,352.94 L442.7,352.97 L440.7,353 L438.7,353.03 L436.7,353.06 L434.7,353.09 L432.7,353.13 L430.7,353.16 L428.7,353.19 L426.7,353.22 L424.7,353.25 L422.7,353.28 L420.7,353.31 L418.7,353.34 L416.7,353.37 L414.7,353.4 L412.7,353.43 L410.7,353.46 L408.7,353.49 L406.7,353.52 L404.7,353.55 L402.7,353.58 L401.2,353.6 L391.4,359.2 L390.63,361.04 L389.88,362.9 L389.2,364.78 L388.62,366.69 L388.13,368.63 L387.69,370.58 L387.27,372.54 L386.86,374.49 L386.43,376.45 L385.98,378.4 L385.48,380.33 L384.93,382.25 L384.31,384.15 L383.61,386.03 L382.85,387.88 L382.05,389.71 L381.2,391.52 L380.32,393.32 L379.43,395.11 L378.52,396.89 L377.62,398.68 L376.71,400.46 L375.82,402.25 L374.96,404.06 L374.12,405.87 L373.31,407.7 L372.52,409.54 L371.74,411.39 L370.96,413.23 L370.17,415.06 L369.35,416.89 L368.51,418.7 L367.63,420.5 L366.73,422.29 L365.81,424.07 L364.88,425.83 L363.93,427.6 L362.97,429.35 L362,431.1 L361.01,432.84 L360.02,434.58 L359.01,436.3 L357.99,438.02 L356.96,439.74 L355.92,441.45 L354.87,443.15 L353.82,444.86 L352.75,446.55 L351.65,448.22 L350.5,449.85 L349.3,451.45 L348.01,452.97 L346.63,454.42 L345.17,455.78 L343.62,457.04 L341.99,458.19 L340.29,459.24 L338.52,460.15 L336.69,460.94 L334.8,461.59 L332.87,462.1 L330.91,462.47 L328.93,462.69 L326.94,462.76 L324.94,462.69 L322.95,462.51 L320.98,462.22 L319.03,461.8 L317.1,461.27 L315.22,460.61 L313.38,459.84 L311.58,458.96 L309.83,458 L308.1,456.99 L306.4,455.94 L304.71,454.87 L303.03,453.78 L301.36,452.68 L299.68,451.59 L298.01,450.49 L296.33,449.41 L294.63,448.34 L292.93,447.3 L291.21,446.28 L289.46,445.31 L287.69,444.38 L285.9,443.49 L284.08,442.65 L282.25,441.84 L280.41,441.05 L278.56,440.29 L276.7,439.55 L274.84,438.83 L272.97,438.13 L271.09,437.44 L269.21,436.76 L267.32,436.09 L265.44,435.42 L263.55,434.75 L261.66,434.09 L259.78,433.42 L257.89,432.75 L256,432.09 L254.12,431.43 L252.22,430.77 L250.33,430.13 L248.43,429.5 L246.53,428.87 L244.62,428.27 L242.71,427.67 L240.8,427.1 L238.88,426.54 L236.95,426 L235.02,425.48 L233.08,424.98 L231.14,424.51 L229.19,424.05 L227.24,423.6 L225.29,423.17 L223.33,422.75 L221.37,422.33 L219.42,421.91 L217.46,421.49 L215.51,421.06 L213.55,420.64 L211.6,420.2 L213.52,419.64 L215.44,419.09 L217.36,418.53 L219.28,417.97 L221.2,417.41 L223.12,416.85 L225.04,416.29 L226.96,415.73 L228.88,415.17 L230.8,414.6 L232.72,414.03 L234.63,413.46 L236.55,412.88 L238.46,412.3 L240.38,411.72 L242.29,411.13 L244.2,410.54 L246.11,409.95 L248.02,409.36 L249.93,408.76 L251.84,408.16 L253.75,407.56 L255.65,406.95 L257.56,406.34 L259.46,405.73 L261.36,405.11 L263.26,404.48 L265.16,403.85 L267.05,403.21 L268.94,402.56 L270.83,401.91 L272.72,401.24 L274.6,400.57 L276.49,399.89 L278.36,399.2 L280.24,398.51 L282.11,397.8 L283.98,397.08 L285.84,396.36 L287.7,395.62 L289.55,394.88 L291.41,394.12 L293.25,393.36 L295.1,392.59 L296.94,391.8 L298.77,391.01 L300.6,390.2 L302.43,389.39 L304.25,388.57 L306.07,387.74 L307.89,386.89 L309.7,386.04 L311.5,385.18 L313.3,384.31 L315.09,383.42 L316.88,382.52 L318.65,381.61 L320.42,380.68 L322.18,379.73 L323.93,378.76 L325.67,377.77 L327.39,376.77 L329.1,375.74 L330.8,374.68 L332.48,373.61 L334.15,372.51 L335.8,371.39 L337.44,370.25 L339.06,369.08 L340.66,367.89 L342.25,366.67 L343.8,365.43 L345.34,364.16 L346.85,362.85 L348.33,361.52 L349.78,360.16 L351.21,358.76 L352.61,357.35 L353.99,355.91 L355.37,354.47 L356.73,353.01 L358.1,351.56 L359.48,350.11 L360.87,348.68 L362.27,347.26 L363.69,345.86 L365.13,344.47 L366.57,343.1 L368.02,341.73 L369.46,340.35 L370.9,338.97 L372.31,337.56 L373.7,336.14 L375.06,334.68 L376.39,333.2 L377.69,331.69 L378.96,330.15 L380.19,328.59 L381.4,327 L382.59,325.4 L383.76,323.78 L384.91,322.14 L386.05,320.5 L387.18,318.85 L388.3,317.2 L389.42,315.54 L390.53,313.88 L391.64,312.21 L392.75,310.55 L393.86,308.88 L394.96,307.22 L396.06,305.55 L397.16,303.87 L398.24,302.19 L399.32,300.51 L400.38,298.82 L401.43,297.11 L402.46,295.4 L403.46,293.67 L404.44,291.94 L405.4,290.18 L406.34,288.42 L407.25,286.64 L408.13,284.85 L409,283.05 L409.85,281.24 L410.68,279.43 L411.51,277.61 L412.33,275.78 L413.14,273.96 L413.96,272.13 L414.79,270.31 L415.62,268.49 L416.46,266.68 L417.32,264.87 L418.18,263.07 L419.06,261.27 L419.95,259.48 L420.84,257.69 L421.75,255.91 L422.65,254.13 L423.57,252.35 L424.48,250.57 L425.39,248.79 L426.3,247.01 L427.21,245.22 L428.11,243.44 L429,241.65 L429.89,239.86 L430.77,238.06 L431.65,236.26 L432.51,234.46 L433.38,232.66 L434.23,230.85 L435.08,229.04 L435.92,227.23 L436.76,225.41 L437.6,223.59 L438.42,221.77 L439.25,219.95 L440.07,218.12 L440.88,216.3 L441.69,214.47 L442.49,212.64 L443.29,210.8 L444.08,208.97 L444.87,207.13 L445.66,205.29 L446.44,203.45 L447.21,201.6 L447.99,199.76 L448.76,197.91 L449.53,196.07 L450.29,194.22 L451.06,192.37 L451.82,190.52 L452.58,188.67 L453.34,186.82 L454.1,184.97 L454.85,183.12 L455.61,181.27 L456.36,179.41 L457.11,177.56 L457.86,175.7 L458.6,173.85 L459.35,171.99 L460.09,170.13 L460.83,168.28 L461.57,166.42 L462.3,164.56 L463.04,162.7 L463.77,160.84 L464.5,158.97 L465.22,157.11 L465.94,155.24 L466.65,153.37 L467.36,151.5 L468.06,149.63 L468.76,147.76 L469.46,145.88 L470.16,144.01 L470.86,142.14 L471.58,140.27 L472.31,138.42 L473.07,136.57 L473.85,134.73 L474.66,132.91 L475.5,131.11 L476.39,129.33 L477.32,127.57 L478.29,125.83 L479.31,124.12 L480.36,122.43 L481.44,120.76 L482.56,119.1 L483.69,117.46 L484.84,115.83 L486,114.2 L493.6,144.8 L502.5,332.9 L503.88,334.35 L505.28,335.77 L506.71,337.15 L508.21,338.44 L509.79,339.6 L511.48,340.59 L513.26,341.41 L515.12,342.04 L517.04,342.54 L518.99,342.91 L520.96,343.21 L522.95,343.46 L524.94,343.68 L526.93,343.89 L528.92,344.1 L530.91,344.31 L532.9,344.52 L534.89,344.72 L536.89,344.9 L538.88,345.07 L540.88,345.23 L542.87,345.37 L544.87,345.5 L546.87,345.62 L548.87,345.74 L550.87,345.85 L552.87,345.95 L554.87,346.05 L556.87,346.14 L558.87,346.23 L560.87,346.31 L562.87,346.39 L564.87,346.47 L566.87,346.54 L568.87,346.61 L570.87,346.67 L572.88,346.73 L574.88,346.79 L576.88,346.85 L578.88,346.9 L580.88,346.95 L582.88,347 L584.89,347.05 L586.89,347.09 L588.89,347.14 L590.89,347.18 L592.89,347.23 L594.89,347.27 L596.9,347.31 L598.9,347.35 L600.9,347.38 L602.9,347.42 L604.9,347.46 L606.91,347.49 L608.91,347.53 L610.91,347.56 L612.91,347.6 L614.91,347.63 L616.92,347.67 L618.92,347.7 L620.92,347.73 L622.92,347.76 L624.92,347.79 L626.93,347.83 L628.93,347.86 L630.93,347.89 L632.93,347.92 L634.93,347.95 L636.94,347.98 L638.94,348.01 L640.94,348.04 L642.94,348.07 L644.94,348.1 L646.95,348.13 L648.95,348.16 L650.95,348.19 L652.95,348.22 L654.95,348.24 L656.96,348.27 L658.96,348.3 L660.96,348.33 L662.96,348.36 L664.96,348.39 L666.97,348.42 L668.97,348.46 L670.97,348.49 L672.97,348.52 L674.97,348.55 L676.98,348.58 L678.98,348.61 L680.98,348.65 L682.98,348.68 L684.98,348.71 L686.99,348.75 L688.99,348.78 L690.99,348.82 L692.99,348.85 L694.99,348.89 L697,348.92 L699,348.96 L701,349" fill="none" stroke="#37AD6B" stroke-width="3" stroke-linejoin="round" stroke-linecap="round"/>
<path d="M692.7,351.2 L690.7,351.21 L688.7,351.22 L686.7,351.23 L684.7,351.23 L682.7,351.24 L680.7,351.25 L678.7,351.26 L676.7,351.27 L674.7,351.28 L672.7,351.28 L670.7,351.29 L668.7,351.3 L666.7,351.31 L664.7,351.32 L662.7,351.32 L660.7,351.33 L658.7,351.34 L656.7,351.35 L654.7,351.36 L652.7,351.36 L650.7,351.37 L648.7,351.38 L646.7,351.39 L644.7,351.4 L642.7,351.41 L640.7,351.41 L638.7,351.42 L636.7,351.43 L634.7,351.44 L632.7,351.45 L630.7,351.46 L628.7,351.46 L626.7,351.47 L624.7,351.48 L622.7,351.49 L620.7,351.5 L618.7,351.51 L616.7,351.52 L614.7,351.53 L612.7,351.54 L610.7,351.55 L608.7,351.56 L606.7,351.57 L604.7,351.58 L602.7,351.59 L600.7,351.6 L598.7,351.61 L596.7,351.62 L594.7,351.63 L592.7,351.64 L590.7,351.65 L588.7,351.66 L586.7,351.66 L584.7,351.67 L582.7,351.68 L580.7,351.69 L578.7,351.7 L576.7,351.71 L574.7,351.72 L572.7,351.73 L570.7,351.74 L568.7,351.75 L566.7,351.76 L564.7,351.77 L562.7,351.78 L560.7,351.79 L558.7,351.8 L556.7,351.81 L554.7,351.81 L552.7,351.83 L550.7,351.84 L548.7,351.85 L546.7,351.86 L544.7,351.87 L542.69,351.88 L540.69,351.89 L538.69,351.9 L536.69,351.91 L534.69,351.93 L532.69,351.94 L530.69,351.95 L528.69,351.96 L526.69,351.98 L524.69,351.99 L522.69,352.01 L520.69,352.02 L518.69,352.04 L516.69,352.05 L514.69,352.07 L512.69,352.08 L510.69,352.1 L508.69,352.12 L506.69,352.14 L504.69,352.16 L502.69,352.17 L500.69,352.19 L498.69,352.21 L496.69,352.24 L494.69,352.26 L492.69,352.28 L490.69,352.3 L488.69,352.33 L486.69,352.35 L484.69,352.37 L482.69,352.4 L480.69,352.42 L478.69,352.45 L476.69,352.48 L474.7,352.5 L472.7,352.53 L470.7,352.56 L468.7,352.58 L466.7,352.61 L464.7,352.64 L462.7,352.67 L460.7,352.7 L458.7,352.73 L456.7,352.76 L454.7,352.79 L452.7,352.82 L450.7,352.85 L448.7,352.88 L446.7,352.91 L444.7,352.94 L442.7,352.97 L440.7,353 L438.7,353.03 L436.7,353.06 L434.7,353.09 L432.7,353.13 L430.7,353.16 L428.7,353.19 L426.7,353.22 L424.7,353.25 L422.7,353.28 L420.7,353.31 L418.7,353.34 L416.7,353.37 L414.7,353.4 L412.7,353.43 L410.7,353.46 L408.7,353.49 L406.7,353.52 L404.7,353.55 L402.7,353.58 L401.2,353.6 L391.4,359.2 L390.64,361.05 L389.91,362.91 L389.25,364.8 L388.69,366.71 L388.21,368.66 L387.79,370.61 L387.41,372.57 L387.03,374.54 L386.64,376.5 L386.24,378.46 L385.81,380.41 L385.33,382.36 L384.8,384.28 L384.19,386.19 L383.51,388.06 L382.75,389.92 L381.95,391.75 L381.1,393.56 L380.23,395.36 L379.34,397.15 L378.45,398.94 L377.57,400.74 L376.72,402.55 L375.9,404.37 L375.12,406.22 L374.39,408.08 L373.69,409.95 L373,411.83 L372.31,413.71 L371.6,415.58 L370.87,417.44 L370.09,419.28 L369.28,421.11 L368.43,422.92 L367.56,424.72 L366.66,426.51 L365.76,428.29 L364.83,430.07 L363.9,431.84 L362.96,433.6 L362.02,435.37 L361.06,437.12 L360.11,438.88 L359.16,440.64 L358.21,442.4 L357.27,444.17 L356.32,445.93 L355.37,447.69 L354.41,449.44 L353.42,451.19 L352.41,452.91 L351.36,454.61 L350.26,456.28 L349.1,457.91 L347.89,459.5 L346.63,461.05 L345.31,462.55 L343.93,464 L342.5,465.4 L341,466.72 L339.45,467.98 L337.84,469.17 L336.18,470.28 L334.47,471.3 L332.69,472.2 L330.84,472.96 L328.94,473.56 L327,474 L325.03,474.28 L323.04,474.42 L321.04,474.44 L319.06,474.29 L317.1,473.94 L315.2,473.36 L313.37,472.58 L311.61,471.65 L309.9,470.62 L308.22,469.52 L306.57,468.4 L304.93,467.25 L303.3,466.09 L301.68,464.92 L300.05,463.75 L298.43,462.59 L296.79,461.43 L295.14,460.3 L293.48,459.18 L291.8,458.1 L290.1,457.06 L288.36,456.07 L286.59,455.13 L284.8,454.25 L282.98,453.43 L281.14,452.64 L279.28,451.89 L277.42,451.17 L275.54,450.47 L273.66,449.8 L271.77,449.13 L269.88,448.48 L267.99,447.82 L266.1,447.16 L264.22,446.48 L262.34,445.79 L260.48,445.07 L258.62,444.33 L256.78,443.56 L254.94,442.77 L253.11,441.96 L251.28,441.15 L249.45,440.34 L247.62,439.54 L245.78,438.75 L243.93,437.98 L242.07,437.24 L240.2,436.53 L238.32,435.86 L236.42,435.24 L234.5,434.66 L232.58,434.12 L230.64,433.62 L228.7,433.14 L226.75,432.69 L224.8,432.25 L222.84,431.83 L220.89,431.42 L218.93,431.01 L216.97,430.59 L215.02,430.17 L213.06,429.73 L211.6,429.4 L213.5,428.76 L215.4,428.13 L217.29,427.49 L219.19,426.86 L221.09,426.22 L222.98,425.58 L224.88,424.94 L226.78,424.3 L228.67,423.66 L230.57,423.01 L232.46,422.37 L234.35,421.71 L236.24,421.06 L238.13,420.4 L240.02,419.73 L241.91,419.07 L243.79,418.39 L245.68,417.72 L247.56,417.04 L249.44,416.36 L251.32,415.68 L253.2,414.99 L255.08,414.3 L256.96,413.61 L258.83,412.91 L260.7,412.2 L262.57,411.49 L264.44,410.77 L266.31,410.05 L268.17,409.31 L270.03,408.57 L271.88,407.82 L273.74,407.06 L275.58,406.3 L277.43,405.52 L279.27,404.73 L281.1,403.94 L282.94,403.13 L284.76,402.32 L286.58,401.49 L288.4,400.66 L290.21,399.81 L292.02,398.95 L293.82,398.08 L295.61,397.19 L297.4,396.29 L299.18,395.38 L300.96,394.46 L302.73,393.52 L304.49,392.57 L306.24,391.61 L307.99,390.64 L309.73,389.65 L311.46,388.65 L313.19,387.64 L314.91,386.62 L316.62,385.59 L318.33,384.54 L320.03,383.49 L321.72,382.42 L323.41,381.34 L325.08,380.25 L326.75,379.15 L328.41,378.03 L330.06,376.9 L331.7,375.75 L333.33,374.59 L334.95,373.42 L336.55,372.22 L338.14,371.01 L339.71,369.78 L341.27,368.53 L342.8,367.25 L344.31,365.95 L345.8,364.62 L347.26,363.26 L348.69,361.87 L350.09,360.45 L351.47,359.01 L352.83,357.54 L354.17,356.07 L355.5,354.58 L356.83,353.09 L358.17,351.6 L359.51,350.12 L360.87,348.66 L362.24,347.2 L363.62,345.77 L365.02,344.34 L366.43,342.92 L367.83,341.5 L369.23,340.07 L370.61,338.64 L371.97,337.18 L373.31,335.7 L374.61,334.19 L375.89,332.66 L377.13,331.1 L378.34,329.52 L379.53,327.91 L380.69,326.29 L381.83,324.65 L382.96,322.99 L384.07,321.33 L385.17,319.66 L386.27,317.99 L387.36,316.31 L388.45,314.63 L389.54,312.96 L390.63,311.28 L391.73,309.6 L392.83,307.93 L393.92,306.26 L395.02,304.58 L396.11,302.91 L397.2,301.23 L398.27,299.54 L399.33,297.84 L400.37,296.14 L401.39,294.42 L402.39,292.69 L403.36,290.94 L404.31,289.18 L405.23,287.41 L406.12,285.62 L406.99,283.82 L407.84,282.02 L408.67,280.2 L409.49,278.37 L410.3,276.54 L411.1,274.71 L411.91,272.88 L412.71,271.05 L413.53,269.22 L414.35,267.4 L415.18,265.58 L416.03,263.76 L416.88,261.96 L417.75,260.15 L418.62,258.35 L419.5,256.56 L420.39,254.76 L421.28,252.97 L422.17,251.18 L423.06,249.39 L423.95,247.59 L424.82,245.79 L425.7,243.99 L426.56,242.19 L427.42,240.38 L428.26,238.57 L429.1,236.75 L429.93,234.93 L430.75,233.1 L431.56,231.27 L432.37,229.44 L433.16,227.61 L433.95,225.77 L434.74,223.93 L435.52,222.08 L436.29,220.24 L437.06,218.39 L437.82,216.54 L438.58,214.69 L439.34,212.83 L440.09,210.98 L440.83,209.12 L441.57,207.26 L442.31,205.4 L443.04,203.54 L443.77,201.68 L444.49,199.81 L445.22,197.94 L445.94,196.08 L446.66,194.21 L447.38,192.34 L448.1,190.47 L448.81,188.61 L449.53,186.74 L450.24,184.87 L450.96,183 L451.67,181.13 L452.38,179.26 L453.09,177.39 L453.8,175.51 L454.51,173.64 L455.22,171.77 L455.93,169.9 L456.64,168.03 L457.35,166.16 L458.06,164.29 L458.77,162.42 L459.49,160.55 L460.2,158.68 L460.92,156.81 L461.64,154.94 L462.37,153.08 L463.09,151.21 L463.82,149.35 L464.55,147.48 L465.28,145.62 L466.01,143.76 L466.75,141.9 L467.48,140.04 L468.22,138.18 L468.96,136.32 L469.71,134.46 L470.45,132.6 L471.2,130.75 L471.96,128.89 L472.71,127.04 L473.47,125.19 L474.24,123.34 L475,121.49 L475.77,119.64 L476.54,117.8 L477.3,115.95 L478.07,114.1 L478.82,112.24 L479.58,110.39 L480.33,108.53 L481.07,106.68 L481.81,104.82 L482.54,102.96 L483.27,101.09 L484,99.23 L484.73,97.36 L485.46,95.5 L486,94.1 L494.4,99.6 L496.9,150 L503.5,300.2 L511.2,336.5 L512.94,337.48 L514.7,338.41 L516.5,339.27 L518.33,340.03 L520.21,340.68 L522.13,341.22 L524.07,341.68 L526.03,342.07 L528,342.42 L529.97,342.72 L531.96,343 L533.94,343.25 L535.93,343.48 L537.92,343.7 L539.91,343.9 L541.91,344.09 L543.9,344.27 L545.9,344.45 L547.89,344.61 L549.89,344.77 L551.88,344.93 L553.88,345.09 L555.88,345.23 L557.88,345.38 L559.87,345.52 L561.87,345.65 L563.87,345.77 L565.87,345.89 L567.87,346 L569.87,346.1 L571.87,346.2 L573.87,346.29 L575.87,346.38 L577.87,346.46 L579.87,346.53 L581.87,346.61 L583.87,346.68 L585.88,346.74 L587.88,346.8 L589.88,346.86 L591.88,346.92 L593.88,346.98 L595.88,347.03 L597.89,347.08 L599.89,347.13 L601.89,347.17 L603.89,347.22 L605.89,347.26 L607.9,347.3 L609.9,347.34 L611.9,347.38 L613.9,347.41 L615.9,347.45 L617.91,347.49 L619.91,347.52 L621.91,347.55 L623.91,347.58 L625.92,347.62 L627.92,347.65 L629.92,347.68 L631.92,347.71 L633.92,347.73 L635.93,347.76 L637.93,347.79 L639.93,347.82 L641.93,347.85 L643.94,347.87 L645.94,347.9 L647.94,347.93 L649.94,347.95 L651.95,347.98 L653.95,348.01 L655.95,348.03 L657.95,348.06 L659.95,348.09 L661.96,348.12 L663.96,348.14 L665.96,348.17 L667.96,348.2 L669.97,348.23 L671.97,348.26 L673.97,348.29 L675.97,348.32 L677.98,348.35 L679.98,348.39 L681.98,348.42 L683.98,348.46 L685.98,348.49 L687.99,348.53 L689.99,348.57 L691.99,348.61 L693.99,348.65 L695.99,348.69 L698,348.73 L700,348.78 L701,348.8" fill="none" stroke="#B177DE" stroke-width="3" stroke-linejoin="round" stroke-linecap="round"/>
<path d="M692.7,351.2 L690.7,351.21 L688.7,351.22 L686.7,351.23 L684.7,351.23 L682.7,351.24 L680.7,351.25 L678.7,351.26 L676.7,351.27 L674.7,351.28 L672.7,351.28 L670.7,351.29 L668.7,351.3 L666.7,351.31 L664.7,351.32 L662.7,351.32 L660.7,351.33 L658.7,351.34 L656.7,351.35 L654.7,351.36 L652.7,351.36 L650.7,351.37 L648.7,351.38 L646.7,351.39 L644.7,351.4 L642.7,351.41 L640.7,351.41 L638.7,351.42 L636.7,351.43 L634.7,351.44 L632.7,351.45 L630.7,351.46 L628.7,351.46 L626.7,351.47 L624.7,351.48 L622.7,351.49 L620.7,351.5 L618.7,351.51 L616.7,351.52 L614.7,351.53 L612.7,351.54 L610.7,351.55 L608.7,351.56 L606.7,351.57 L604.7,351.58 L602.7,351.59 L600.7,351.6 L598.7,351.61 L596.7,351.62 L594.7,351.63 L592.7,351.64 L590.7,351.65 L588.7,351.66 L586.7,351.66 L584.7,351.67 L582.7,351.68 L580.7,351.69 L578.7,351.7 L576.7,351.71 L574.7,351.72 L572.7,351.73 L570.7,351.74 L568.7,351.75 L566.7,351.76 L564.7,351.77 L562.7,351.78 L560.7,351.79 L558.7,351.8 L556.7,351.81 L554.7,351.81 L552.7,351.83 L550.7,351.84 L548.7,351.85 L546.7,351.86 L544.7,351.87 L542.69,351.88 L540.69,351.89 L538.69,351.9 L536.69,351.91 L534.69,351.93 L532.69,351.94 L530.69,351.95 L528.69,351.96 L526.69,351.98 L524.69,351.99 L522.69,352.01 L520.69,352.02 L518.69,352.04 L516.69,352.05 L514.69,352.07 L512.69,352.08 L510.69,352.1 L508.69,352.12 L506.69,352.14 L504.69,352.16 L502.69,352.17 L500.69,352.19 L498.69,352.21 L496.69,352.24 L494.69,352.26 L492.69,352.28 L490.69,352.3 L488.69,352.33 L486.69,352.35 L484.69,352.37 L482.69,352.4 L480.69,352.42 L478.69,352.45 L476.69,352.48 L474.7,352.5 L472.7,352.53 L470.7,352.56 L468.7,352.58 L466.7,352.61 L464.7,352.64 L462.7,352.67 L460.7,352.7 L458.7,352.73 L456.7,352.76 L454.7,352.79 L452.7,352.82 L450.7,352.85 L448.7,352.88 L446.7,352.91 L444.7,352.94 L442.7,352.97 L440.7,353 L438.7,353.03 L436.7,353.06 L434.7,353.09 L432.7,353.13 L430.7,353.16 L428.7,353.19 L426.7,353.22 L424.7,353.25 L422.7,353.28 L420.7,353.31 L418.7,353.34 L416.7,353.37 L414.7,353.4 L412.7,353.43 L410.7,353.46 L408.7,353.49 L406.7,353.52 L404.7,353.55 L402.7,353.58 L401.2,353.6 L391.4,359.2 L390.57,361.02 L389.76,362.85 L389.02,364.7 L388.38,366.59 L387.84,368.52 L387.37,370.46 L386.96,372.42 L386.56,374.38 L386.17,376.34 L385.79,378.3 L385.39,380.26 L384.97,382.22 L384.51,384.17 L384.01,386.1 L383.46,388.02 L382.84,389.92 L382.16,391.8 L381.44,393.67 L380.69,395.52 L379.92,397.37 L379.13,399.21 L378.35,401.05 L377.57,402.89 L376.82,404.74 L376.09,406.61 L375.38,408.48 L374.68,410.35 L373.98,412.22 L373.28,414.1 L372.55,415.96 L371.8,417.82 L371.03,419.66 L370.23,421.49 L369.4,423.31 L368.56,425.13 L367.7,426.93 L366.83,428.73 L365.95,430.53 L365.06,432.32 L364.16,434.11 L363.27,435.9 L362.37,437.68 L361.47,439.47 L360.58,441.26 L359.69,443.05 L358.81,444.85 L357.93,446.65 L357.05,448.44 L356.17,450.24 L355.27,452.03 L354.37,453.81 L353.44,455.58 L352.5,457.35 L351.52,459.09 L350.51,460.82 L349.45,462.51 L348.35,464.18 L347.2,465.82 L346.01,467.42 L344.77,468.99 L343.47,470.52 L342.13,471.99 L340.73,473.42 L339.29,474.81 L337.79,476.13 L336.24,477.39 L334.62,478.56 L332.93,479.6 L331.15,480.5 L329.3,481.23 L327.39,481.81 L325.44,482.27 L323.48,482.61 L321.49,482.85 L319.51,482.97 L317.53,482.88 L315.58,482.52 L313.7,481.89 L311.9,481.06 L310.15,480.1 L308.44,479.05 L306.77,477.96 L305.11,476.84 L303.47,475.69 L301.84,474.54 L300.21,473.38 L298.57,472.23 L296.94,471.08 L295.29,469.94 L293.63,468.83 L291.95,467.74 L290.26,466.68 L288.53,465.67 L286.77,464.71 L284.99,463.8 L283.19,462.93 L281.38,462.09 L279.56,461.27 L277.72,460.48 L275.87,459.71 L274.02,458.95 L272.16,458.21 L270.3,457.48 L268.44,456.76 L266.57,456.04 L264.7,455.32 L262.84,454.6 L260.97,453.88 L259.11,453.15 L257.25,452.41 L255.39,451.68 L253.53,450.95 L251.66,450.22 L249.8,449.5 L247.93,448.79 L246.06,448.09 L244.18,447.4 L242.3,446.72 L240.41,446.06 L238.52,445.41 L236.62,444.79 L234.71,444.18 L232.8,443.59 L230.88,443.02 L228.96,442.47 L227.03,441.92 L225.11,441.39 L223.18,440.86 L221.25,440.34 L219.32,439.82 L217.39,439.29 L215.46,438.77 L213.53,438.24 L211.6,437.7 L213.47,437 L215.34,436.29 L217.22,435.59 L219.09,434.88 L220.96,434.18 L222.83,433.47 L224.7,432.77 L226.57,432.06 L228.44,431.34 L230.31,430.63 L232.18,429.91 L234.04,429.19 L235.9,428.46 L237.77,427.72 L239.62,426.98 L241.48,426.24 L243.34,425.49 L245.19,424.74 L247.04,423.98 L248.89,423.22 L250.74,422.45 L252.58,421.68 L254.43,420.91 L256.27,420.13 L258.11,419.35 L259.95,418.56 L261.79,417.77 L263.62,416.97 L265.45,416.17 L267.28,415.36 L269.11,414.55 L270.94,413.73 L272.76,412.91 L274.58,412.08 L276.4,411.25 L278.21,410.41 L280.03,409.56 L281.83,408.71 L283.64,407.85 L285.44,406.98 L287.24,406.1 L289.03,405.21 L290.81,404.31 L292.59,403.4 L294.36,402.47 L296.13,401.53 L297.88,400.57 L299.63,399.6 L301.36,398.61 L303.09,397.6 L304.81,396.58 L306.52,395.54 L308.22,394.49 L309.91,393.42 L311.59,392.34 L313.26,391.24 L314.93,390.14 L316.59,389.02 L318.24,387.9 L319.89,386.76 L321.53,385.62 L323.16,384.47 L324.79,383.31 L326.41,382.14 L328.03,380.96 L329.64,379.78 L331.24,378.58 L332.84,377.37 L334.42,376.15 L335.99,374.92 L337.55,373.67 L339.08,372.39 L340.6,371.09 L342.09,369.77 L343.54,368.41 L344.97,367.03 L346.37,365.61 L347.73,364.16 L349.07,362.68 L350.38,361.18 L351.67,359.66 L352.94,358.12 L354.21,356.57 L355.47,355.03 L356.74,353.48 L358.01,351.94 L359.3,350.42 L360.61,348.9 L361.93,347.4 L363.26,345.92 L364.6,344.44 L365.96,342.97 L367.31,341.5 L368.65,340.02 L369.98,338.54 L371.29,337.03 L372.58,335.51 L373.84,333.97 L375.08,332.4 L376.28,330.81 L377.46,329.2 L378.62,327.58 L379.75,325.93 L380.87,324.28 L381.98,322.61 L383.08,320.94 L384.17,319.27 L385.26,317.59 L386.35,315.91 L387.44,314.23 L388.53,312.56 L389.63,310.89 L390.74,309.22 L391.85,307.56 L392.96,305.9 L394.07,304.24 L395.18,302.57 L396.29,300.91 L397.38,299.24 L398.46,297.55 L399.52,295.86 L400.55,294.15 L401.56,292.43 L402.54,290.69 L403.48,288.93 L404.4,287.16 L405.28,285.37 L406.14,283.57 L406.97,281.75 L407.78,279.93 L408.57,278.09 L409.35,276.25 L410.13,274.41 L410.9,272.57 L411.68,270.72 L412.45,268.88 L413.24,267.04 L414.03,265.2 L414.83,263.37 L415.64,261.54 L416.46,259.72 L417.28,257.9 L418.11,256.08 L418.94,254.26 L419.78,252.44 L420.62,250.62 L421.45,248.81 L422.28,246.99 L423.12,245.17 L423.94,243.35 L424.77,241.52 L425.58,239.7 L426.4,237.87 L427.21,236.04 L428.01,234.21 L428.81,232.38 L429.61,230.54 L430.4,228.71 L431.19,226.87 L431.97,225.03 L432.75,223.19 L433.53,221.34 L434.3,219.5 L435.07,217.65 L435.83,215.8 L436.59,213.95 L437.34,212.1 L438.09,210.24 L438.84,208.39 L439.58,206.53 L440.32,204.67 L441.06,202.81 L441.79,200.95 L442.52,199.09 L443.25,197.22 L443.98,195.36 L444.7,193.5 L445.43,191.63 L446.15,189.77 L446.87,187.9 L447.6,186.04 L448.32,184.17 L449.05,182.31 L449.77,180.44 L450.49,178.58 L451.21,176.71 L451.93,174.85 L452.66,172.98 L453.37,171.11 L454.09,169.25 L454.81,167.38 L455.52,165.51 L456.23,163.64 L456.94,161.77 L457.64,159.9 L458.34,158.02 L459.04,156.15 L459.73,154.27 L460.42,152.39 L461.1,150.51 L461.78,148.63 L462.46,146.75 L463.14,144.87 L463.81,142.99 L464.48,141.1 L465.15,139.22 L465.82,137.33 L466.49,135.45 L467.16,133.56 L467.83,131.68 L468.5,129.79 L469.18,127.91 L469.85,126.03 L470.53,124.15 L471.21,122.27 L471.89,120.38 L472.58,118.51 L473.26,116.63 L473.95,114.75 L474.64,112.87 L475.33,110.99 L476.02,109.11 L476.71,107.24 L477.4,105.36 L478.09,103.48 L478.77,101.6 L479.46,99.72 L480.15,97.84 L480.83,95.97 L481.52,94.09 L482.2,92.21 L482.88,90.33 L483.56,88.44 L484.24,86.56 L484.92,84.68 L485.6,82.8 L494.7,73.3 L494.89,75.29 L495.07,77.29 L495.26,79.28 L495.45,81.27 L495.63,83.27 L495.82,85.26 L496.01,87.25 L496.2,89.25 L496.38,91.24 L496.57,93.23 L496.75,95.23 L496.94,97.22 L497.13,99.21 L497.31,101.21 L497.49,103.2 L497.68,105.19 L497.86,107.19 L498.04,109.18 L498.22,111.17 L498.41,113.17 L498.59,115.16 L498.77,117.15 L498.96,119.15 L499.14,121.14 L499.33,123.13 L499.52,125.13 L499.72,127.12 L499.92,129.11 L500.13,131.1 L500.34,133.09 L500.55,135.08 L500.76,137.07 L500.97,139.06 L501.17,141.06 L501.37,143.05 L501.56,145.04 L501.74,147.03 L501.91,149.03 L502.08,151.02 L502.24,153.02 L502.39,155.02 L502.53,157.01 L502.66,159.01 L502.79,161.01 L502.91,163.01 L503.03,165 L503.14,167 L503.25,169 L503.36,171 L503.46,173 L503.56,175 L503.66,177 L503.76,179 L503.86,181 L503.95,183 L504.04,185 L504.14,187 L504.23,189 L504.32,191 L504.41,193 L504.49,195 L504.58,197 L504.67,199 L504.75,201 L504.84,203 L504.92,205 L505.01,207 L505.09,209 L505.17,211 L505.25,213 L505.34,215 L505.42,217 L505.5,219 L505.58,221 L505.66,223 L505.75,225 L505.83,227 L505.91,229 L505.99,231 L506.07,233 L506.16,235 L506.24,237 L506.32,239 L506.41,241 L506.49,243 L506.58,245 L506.67,247 L506.76,249 L506.85,251 L506.94,253 L507.03,255 L507.12,257 L507.21,259 L507.3,261 L507.39,263 L507.48,265 L507.57,267 L507.66,269 L507.75,271 L507.84,273 L507.93,275 L508.02,277 L508.11,279 L508.2,281 L508.29,283 L508.38,285 L508.47,287 L508.56,289 L508.6,290 L511.2,329.3 L512.38,330.92 L513.58,332.52 L514.82,334.08 L516.13,335.55 L517.56,336.89 L519.12,338.07 L520.79,339.07 L522.58,339.89 L524.44,340.55 L526.36,341.09 L528.3,341.53 L530.27,341.91 L532.24,342.25 L534.22,342.55 L536.21,342.81 L538.2,343.04 L540.19,343.24 L542.19,343.39 L544.19,343.52 L546.19,343.62 L548.2,343.71 L550.2,343.79 L552.2,343.87 L554.21,343.95 L556.21,344.03 L558.21,344.11 L560.22,344.2 L562.22,344.28 L564.22,344.37 L566.23,344.45 L568.23,344.53 L570.23,344.61 L572.24,344.68 L574.24,344.76 L576.24,344.83 L578.25,344.9 L580.25,344.97 L582.26,345.04 L584.26,345.11 L586.26,345.17 L588.27,345.24 L590.27,345.3 L592.27,345.37 L594.28,345.43 L596.28,345.5 L598.29,345.56 L600.29,345.62 L602.29,345.68 L604.3,345.75 L606.3,345.81 L608.31,345.87 L610.31,345.93 L612.32,345.99 L614.32,346.05 L616.32,346.11 L618.33,346.17 L620.33,346.23 L622.34,346.29 L624.34,346.35 L626.34,346.4 L628.35,346.46 L630.35,346.52 L632.36,346.58 L634.36,346.64 L636.37,346.7 L638.37,346.75 L640.37,346.81 L642.38,346.87 L644.38,346.93 L646.39,346.98 L648.39,347.04 L650.4,347.1 L652.4,347.16 L654.4,347.22 L656.41,347.27 L658.41,347.33 L660.42,347.39 L662.42,347.45 L664.42,347.51 L666.43,347.56 L668.43,347.62 L670.44,347.68 L672.44,347.74 L674.45,347.8 L676.45,347.86 L678.45,347.92 L680.46,347.98 L682.46,348.03 L684.47,348.09 L686.47,348.15 L688.47,348.22 L690.48,348.28 L692.48,348.34 L694.49,348.4 L696.49,348.46 L698.49,348.52 L700.5,348.58 L701,348.6" fill="none" stroke="#CC9900" stroke-width="3" stroke-linejoin="round" stroke-linecap="round"/>
<path d="M692.7,351.2 L690.7,351.21 L688.7,351.22 L686.7,351.23 L684.7,351.23 L682.7,351.24 L680.7,351.25 L678.7,351.26 L676.7,351.27 L674.7,351.28 L672.7,351.28 L670.7,351.29 L668.7,351.3 L666.7,351.31 L664.7,351.32 L662.7,351.32 L660.7,351.33 L658.7,351.34 L656.7,351.35 L654.7,351.36 L652.7,351.36 L650.7,351.37 L648.7,351.38 L646.7,351.39 L644.7,351.4 L642.7,351.41 L640.7,351.41 L638.7,351.42 L636.7,351.43 L634.7,351.44 L632.7,351.45 L630.7,351.46 L628.7,351.46 L626.7,351.47 L624.7,351.48 L622.7,351.49 L620.7,351.5 L618.7,351.51 L616.7,351.52 L614.7,351.53 L612.7,351.54 L610.7,351.55 L608.7,351.56 L606.7,351.57 L604.7,351.58 L602.7,351.59 L600.7,351.6 L598.7,351.61 L596.7,351.62 L594.7,351.63 L592.7,351.64 L590.7,351.65 L588.7,351.66 L586.7,351.66 L584.7,351.67 L582.7,351.68 L580.7,351.69 L578.7,351.7 L576.7,351.71 L574.7,351.72 L572.7,351.73 L570.7,351.74 L568.7,351.75 L566.7,351.76 L564.7,351.77 L562.7,351.78 L560.7,351.79 L558.7,351.8 L556.7,351.81 L554.7,351.81 L552.7,351.83 L550.7,351.84 L548.7,351.85 L546.7,351.86 L544.7,351.87 L542.69,351.88 L540.69,351.89 L538.69,351.9 L536.69,351.91 L534.69,351.93 L532.69,351.94 L530.69,351.95 L528.69,351.96 L526.69,351.98 L524.69,351.99 L522.69,352.01 L520.69,352.02 L518.69,352.04 L516.69,352.05 L514.69,352.07 L512.69,352.08 L510.69,352.1 L508.69,352.12 L506.69,352.14 L504.69,352.16 L502.69,352.17 L500.69,352.19 L498.69,352.21 L496.69,352.24 L494.69,352.26 L492.69,352.28 L490.69,352.3 L488.69,352.33 L486.69,352.35 L484.69,352.37 L482.69,352.4 L480.69,352.42 L478.69,352.45 L476.69,352.48 L474.7,352.5 L472.7,352.53 L470.7,352.56 L468.7,352.58 L466.7,352.61 L464.7,352.64 L462.7,352.67 L460.7,352.7 L458.7,352.73 L456.7,352.76 L454.7,352.79 L452.7,352.82 L450.7,352.85 L448.7,352.88 L446.7,352.91 L444.7,352.94 L442.7,352.97 L440.7,353 L438.7,353.03 L436.7,353.06 L434.7,353.09 L432.7,353.13 L430.7,353.16 L428.7,353.19 L426.7,353.22 L424.7,353.25 L422.7,353.28 L420.7,353.31 L418.7,353.34 L416.7,353.37 L414.7,353.4 L412.7,353.43 L410.7,353.46 L408.7,353.49 L406.7,353.52 L404.7,353.55 L402.7,353.58 L401.2,353.6 L391.4,359.2 L390.61,361.04 L389.84,362.89 L389.13,364.76 L388.52,366.66 L388,368.59 L387.56,370.54 L387.17,372.51 L386.81,374.48 L386.47,376.45 L386.13,378.42 L385.79,380.4 L385.43,382.36 L385.04,384.33 L384.63,386.29 L384.17,388.24 L383.69,390.18 L383.18,392.12 L382.64,394.05 L382.09,395.97 L381.52,397.89 L380.92,399.8 L380.31,401.71 L379.67,403.6 L379.01,405.49 L378.32,407.37 L377.61,409.24 L376.87,411.11 L376.11,412.96 L375.34,414.8 L374.55,416.65 L373.76,418.48 L372.96,420.32 L372.16,422.16 L371.35,423.99 L370.54,425.82 L369.72,427.64 L368.89,429.47 L368.05,431.29 L367.2,433.1 L366.35,434.91 L365.49,436.72 L364.62,438.52 L363.74,440.32 L362.86,442.12 L361.98,443.92 L361.09,445.71 L360.21,447.51 L359.32,449.3 L358.42,451.09 L357.52,452.88 L356.62,454.67 L355.7,456.45 L354.77,458.22 L353.83,459.99 L352.87,461.75 L351.9,463.5 L350.9,465.23 L349.87,466.95 L348.8,468.64 L347.71,470.32 L346.57,471.97 L345.4,473.59 L344.19,475.18 L342.94,476.74 L341.65,478.27 L340.32,479.77 L338.95,481.23 L337.55,482.66 L336.1,484.05 L334.61,485.37 L333.05,486.62 L331.43,487.8 L329.76,488.9 L328.03,489.9 L326.24,490.78 L324.38,491.49 L322.45,491.95 L320.48,492.15 L318.5,492.09 L316.52,491.84 L314.56,491.44 L312.62,490.94 L310.71,490.35 L308.82,489.69 L306.96,488.97 L305.11,488.2 L303.28,487.38 L301.48,486.52 L299.7,485.59 L297.98,484.58 L296.3,483.49 L294.67,482.33 L293.06,481.15 L291.44,479.96 L289.8,478.82 L288.13,477.73 L286.41,476.7 L284.66,475.73 L282.88,474.81 L281.09,473.91 L279.29,473.04 L277.48,472.18 L275.66,471.34 L273.84,470.5 L272.02,469.67 L270.2,468.84 L268.38,468 L266.56,467.16 L264.75,466.31 L262.95,465.45 L261.15,464.57 L259.36,463.66 L257.58,462.75 L255.81,461.81 L254.04,460.87 L252.27,459.93 L250.51,458.99 L248.73,458.06 L246.96,457.14 L245.17,456.23 L243.37,455.35 L241.56,454.49 L239.74,453.67 L237.9,452.89 L236.04,452.15 L234.16,451.45 L232.27,450.79 L230.37,450.17 L228.46,449.57 L226.54,449 L224.61,448.45 L222.68,447.91 L220.75,447.38 L218.82,446.85 L216.89,446.32 L214.97,445.78 L213.04,445.22 L211.6,444.8 L213.43,443.98 L215.25,443.17 L217.08,442.35 L218.9,441.53 L220.73,440.72 L222.56,439.9 L224.38,439.08 L226.21,438.27 L228.04,437.45 L229.86,436.63 L231.69,435.81 L233.51,435 L235.34,434.18 L237.17,433.37 L239,432.55 L240.82,431.74 L242.65,430.93 L244.48,430.12 L246.31,429.31 L248.14,428.5 L249.97,427.69 L251.8,426.88 L253.63,426.07 L255.46,425.26 L257.29,424.45 L259.11,423.63 L260.94,422.82 L262.76,421.99 L264.58,421.17 L266.4,420.33 L268.22,419.49 L270.03,418.64 L271.84,417.79 L273.64,416.93 L275.44,416.06 L277.24,415.18 L279.03,414.29 L280.82,413.4 L282.61,412.5 L284.39,411.59 L286.17,410.67 L287.94,409.74 L289.7,408.8 L291.46,407.85 L293.21,406.88 L294.96,405.9 L296.69,404.91 L298.42,403.9 L300.14,402.88 L301.85,401.84 L303.55,400.79 L305.24,399.73 L306.92,398.65 L308.6,397.55 L310.26,396.45 L311.92,395.33 L313.57,394.2 L315.22,393.06 L316.85,391.91 L318.48,390.75 L320.1,389.58 L321.71,388.4 L323.32,387.21 L324.92,386.01 L326.51,384.79 L328.1,383.57 L329.67,382.34 L331.24,381.1 L332.79,379.84 L334.34,378.57 L335.87,377.29 L337.39,375.99 L338.89,374.67 L340.37,373.33 L341.82,371.97 L343.25,370.58 L344.64,369.16 L346.01,367.71 L347.34,366.22 L348.63,364.71 L349.89,363.16 L351.11,361.6 L352.32,360 L353.5,358.4 L354.67,356.78 L355.84,355.16 L357.01,353.54 L358.19,351.93 L359.38,350.33 L360.59,348.74 L361.81,347.16 L363.05,345.59 L364.3,344.03 L365.56,342.48 L366.81,340.92 L368.05,339.36 L369.28,337.79 L370.49,336.2 L371.68,334.6 L372.84,332.97 L373.98,331.33 L375.09,329.68 L376.18,328 L377.26,326.32 L378.31,324.62 L379.36,322.92 L380.4,321.21 L381.43,319.5 L382.47,317.78 L383.5,316.07 L384.54,314.37 L385.59,312.66 L386.65,310.96 L387.71,309.27 L388.78,307.58 L389.86,305.9 L390.95,304.22 L392.03,302.54 L393.11,300.86 L394.19,299.17 L395.26,297.48 L396.31,295.78 L397.35,294.07 L398.37,292.35 L399.36,290.62 L400.34,288.88 L401.28,287.12 L402.21,285.35 L403.12,283.57 L404.01,281.78 L404.88,279.98 L405.73,278.17 L406.58,276.36 L407.41,274.54 L408.24,272.72 L409.06,270.9 L409.88,269.07 L410.7,267.25 L411.51,265.42 L412.32,263.59 L413.13,261.76 L413.94,259.93 L414.75,258.1 L415.55,256.27 L416.35,254.44 L417.15,252.6 L417.95,250.77 L418.75,248.93 L419.54,247.1 L420.33,245.26 L421.13,243.42 L421.92,241.58 L422.71,239.75 L423.5,237.91 L424.28,236.07 L425.07,234.23 L425.86,232.39 L426.64,230.55 L427.43,228.71 L428.21,226.87 L428.99,225.02 L429.76,223.18 L430.54,221.34 L431.31,219.49 L432.08,217.64 L432.84,215.79 L433.6,213.95 L434.36,212.09 L435.12,210.24 L435.87,208.39 L436.62,206.53 L437.37,204.68 L438.12,202.82 L438.86,200.97 L439.6,199.11 L440.34,197.25 L441.08,195.39 L441.82,193.53 L442.56,191.67 L443.3,189.81 L444.03,187.95 L444.77,186.09 L445.51,184.23 L446.24,182.37 L446.98,180.51 L447.71,178.65 L448.45,176.79 L449.18,174.93 L449.91,173.07 L450.65,171.2 L451.37,169.34 L452.1,167.48 L452.82,165.61 L453.54,163.75 L454.26,161.88 L454.97,160.01 L455.68,158.14 L456.38,156.26 L457.08,154.39 L457.77,152.51 L458.46,150.64 L459.15,148.76 L459.83,146.87 L460.5,144.99 L461.17,143.11 L461.84,141.22 L462.51,139.34 L463.17,137.45 L463.83,135.56 L464.49,133.67 L465.15,131.78 L465.8,129.89 L466.45,128 L467.1,126.11 L467.75,124.21 L468.4,122.32 L469.04,120.43 L469.69,118.53 L470.33,116.64 L470.97,114.74 L471.61,112.85 L472.25,110.95 L472.88,109.05 L473.52,107.16 L474.16,105.26 L474.79,103.36 L475.43,101.47 L476.07,99.57 L476.71,97.68 L477.35,95.78 L477.99,93.89 L478.64,91.99 L479.29,90.1 L479.93,88.21 L480.58,86.32 L481.23,84.42 L481.88,82.53 L482.53,80.64 L483.18,78.75 L483.83,76.86 L484.49,74.96 L485.14,73.07 L485.3,72.6 L494.7,58.7 L502.5,86 L502.63,88 L502.77,89.99 L502.9,91.99 L503.03,93.99 L503.15,95.98 L503.27,97.98 L503.39,99.98 L503.5,101.98 L503.6,103.97 L503.7,105.97 L503.8,107.97 L503.89,109.97 L503.98,111.97 L504.07,113.97 L504.15,115.97 L504.23,117.97 L504.31,119.97 L504.39,121.97 L504.45,123.97 L504.52,125.96 L504.58,127.97 L504.63,129.97 L504.67,131.97 L504.72,133.97 L504.75,135.97 L504.79,137.97 L504.83,139.97 L504.87,141.97 L504.91,143.97 L504.95,145.97 L505,147.97 L505.05,149.97 L505.11,151.97 L505.17,153.97 L505.24,155.97 L505.32,157.97 L505.39,159.97 L505.47,161.97 L505.56,163.97 L505.64,165.97 L505.73,167.97 L505.82,169.96 L505.91,171.96 L506,173.96 L506.1,175.96 L506.19,177.96 L506.28,179.96 L506.38,181.96 L506.48,183.96 L506.57,185.95 L506.67,187.95 L506.77,189.95 L506.87,191.95 L506.97,193.95 L507.07,195.95 L507.17,197.94 L507.27,199.94 L507.36,201.94 L507.46,203.94 L507.56,205.94 L507.66,207.94 L507.76,209.94 L507.86,211.93 L507.96,213.93 L508.06,215.93 L508.16,217.93 L508.25,219.93 L508.35,221.93 L508.45,223.93 L508.54,225.92 L508.64,227.92 L508.73,229.92 L508.83,231.92 L508.92,233.92 L509.01,235.92 L509.1,237.92 L509.19,239.92 L509.27,241.91 L509.35,243.91 L509.44,245.91 L509.51,247.91 L509.59,249.91 L509.66,251.91 L509.73,253.91 L509.79,255.91 L509.86,257.91 L509.91,259.91 L509.97,261.91 L510.02,263.91 L510.07,265.91 L510.12,267.91 L510.17,269.91 L510.21,271.91 L510.26,273.91 L510.31,275.91 L510.35,277.91 L510.4,279.91 L510.45,281.92 L510.51,283.92 L510.57,285.92 L510.64,287.92 L510.71,289.91 L510.79,291.91 L510.87,293.91 L510.96,295.91 L511.06,297.91 L511.16,299.91 L511.26,301.91 L511.36,303.91 L511.47,305.9 L511.57,307.9 L511.67,309.9 L511.7,310.4 L519.9,336.5 L521.76,337.23 L523.63,337.96 L525.5,338.68 L527.37,339.38 L529.26,340.03 L531.16,340.63 L533.09,341.16 L535.03,341.61 L536.99,341.98 L538.97,342.29 L540.95,342.53 L542.94,342.73 L544.94,342.89 L546.93,343.02 L548.93,343.13 L550.93,343.24 L552.93,343.34 L554.93,343.44 L556.93,343.55 L558.93,343.65 L560.93,343.76 L562.93,343.86 L564.93,343.96 L566.93,344.06 L568.93,344.15 L570.93,344.24 L572.93,344.32 L574.93,344.41 L576.93,344.49 L578.93,344.57 L580.93,344.64 L582.93,344.72 L584.93,344.79 L586.93,344.87 L588.93,344.94 L590.93,345.01 L592.93,345.08 L594.94,345.15 L596.94,345.21 L598.94,345.28 L600.94,345.35 L602.94,345.41 L604.94,345.48 L606.94,345.54 L608.94,345.61 L610.94,345.67 L612.95,345.73 L614.95,345.79 L616.95,345.85 L618.95,345.92 L620.95,345.98 L622.95,346.04 L624.95,346.1 L626.95,346.16 L628.96,346.22 L630.96,346.28 L632.96,346.34 L634.96,346.4 L636.96,346.45 L638.96,346.51 L640.96,346.57 L642.96,346.63 L644.97,346.69 L646.97,346.75 L648.97,346.81 L650.97,346.87 L652.97,346.93 L654.97,346.98 L656.97,347.04 L658.97,347.1 L660.98,347.16 L662.98,347.22 L664.98,347.28 L666.98,347.34 L668.98,347.4 L670.98,347.46 L672.98,347.52 L674.98,347.58 L676.99,347.64 L678.99,347.7 L680.99,347.76 L682.99,347.82 L684.99,347.89 L686.99,347.95 L688.99,348.01 L690.99,348.07 L693,348.14 L695,348.2 L697,348.27 L699,348.33 L701,348.4" fill="none" stroke="#00CBCC" stroke-width="3" stroke-linejoin="round" stroke-linecap="round"/>
<line x1="127" y1="10.35" x2="127" y2="532.15" stroke="#000" stroke-width="3.9"/>
<line x1="766.8" y1="10.35" x2="766.8" y2="532.15" stroke="#000" stroke-width="3.9"/>
<line x1="125.05" y1="12.3" x2="768.75" y2="12.3" stroke="#000" stroke-width="3.9"/>
<line x1="125.05" y1="530.2" x2="768.75" y2="530.2" stroke="#000" stroke-width="3.9"/>
<line x1="218.35" y1="530.2" x2="218.35" y2="525.25" stroke="#000" stroke-width="2.5"/>
<line x1="309.7" y1="530.2" x2="309.7" y2="520.05" stroke="#000" stroke-width="2.5"/>
<line x1="401.05" y1="530.2" x2="401.05" y2="525.25" stroke="#000" stroke-width="2.5"/>
<line x1="492.4" y1="530.2" x2="492.4" y2="520.05" stroke="#000" stroke-width="2.5"/>
<line x1="583.75" y1="530.2" x2="583.75" y2="525.25" stroke="#000" stroke-width="2.5"/>
<line x1="675.1" y1="530.2" x2="675.1" y2="520.05" stroke="#000" stroke-width="2.5"/>
<text transform="translate(127,568) scale(1,1.04)" font-size="34.4" text-anchor="middle" fill="#000">-2.25</text>
<text transform="translate(309.7,568) scale(1,1.04)" font-size="34.4" text-anchor="middle" fill="#000">-2.10</text>
<text transform="translate(492.4,568) scale(1,1.04)" font-size="34.4" text-anchor="middle" fill="#000">-1.95</text>
<text transform="translate(675.1,568) scale(1,1.04)" font-size="34.4" text-anchor="middle" fill="#000">-1.80</text>
<line x1="127" y1="469.7" x2="137.15" y2="469.7" stroke="#000" stroke-width="2.5"/>
<line x1="127" y1="410.1" x2="131.95" y2="410.1" stroke="#000" stroke-width="2.5"/>
<line x1="127" y1="350.5" x2="137.15" y2="350.5" stroke="#000" stroke-width="2.5"/>
<line x1="127" y1="290.9" x2="131.95" y2="290.9" stroke="#000" stroke-width="2.5"/>
<line x1="127" y1="231.3" x2="137.15" y2="231.3" stroke="#000" stroke-width="2.5"/>
<line x1="127" y1="171.7" x2="131.95" y2="171.7" stroke="#000" stroke-width="2.5"/>
<line x1="127" y1="112.1" x2="137.15" y2="112.1" stroke="#000" stroke-width="2.5"/>
<line x1="127" y1="52.5" x2="131.95" y2="52.5" stroke="#000" stroke-width="2.5"/>
<text transform="translate(116.5,123.6) scale(1,1.04)" font-size="34.4" text-anchor="end" fill="#000">0.6</text>
<text transform="translate(116.5,242.8) scale(1,1.04)" font-size="34.4" text-anchor="end" fill="#000">0.3</text>
<text transform="translate(116.5,362) scale(1,1.04)" font-size="34.4" text-anchor="end" fill="#000">0.0</text>
<text transform="translate(116.5,481.2) scale(1,1.04)" font-size="34.4" text-anchor="end" fill="#000">-0.3</text>
<text transform="translate(446.9,627.1) scale(1,1.0)" font-size="44.4" text-anchor="middle" fill="#000"><tspan font-style="italic">E</tspan>/V vs Ag/AgCl</text>
<text transform="translate(37.5,266.3) rotate(-90)" font-size="44.4" text-anchor="middle" fill="#000"><tspan font-style="italic">j</tspan>/A cm<tspan dx="2" dy="-18.65" font-size="29.3">-2</tspan></text>
<text transform="translate(158.5,72.2) scale(1,1.0)" font-size="58" text-anchor="start" fill="#000">a</text>
<line x1="558" y1="64" x2="619.6" y2="64" stroke="#515151" stroke-width="2.6"/>
<text transform="translate(619.7,73.7) scale(1,1.04)" font-size="27.4" text-anchor="start" fill="#000">0.06 V s<tspan dy="-10.69" font-size="18.36">-1</tspan></text>
<line x1="558" y1="100.75" x2="619.6" y2="100.75" stroke="#F14040" stroke-width="2.6"/>
<text transform="translate(619.7,110.45) scale(1,1.04)" font-size="27.4" text-anchor="start" fill="#000">0.10 V s<tspan dy="-10.69" font-size="18.36">-1</tspan></text>
<line x1="558" y1="137.5" x2="619.6" y2="137.5" stroke="#1A6FDF" stroke-width="2.6"/>
<text transform="translate(619.7,147.2) scale(1,1.04)" font-size="27.4" text-anchor="start" fill="#000">0.14 V s<tspan dy="-10.69" font-size="18.36">-1</tspan></text>
<line x1="558" y1="174.25" x2="619.6" y2="174.25" stroke="#37AD6B" stroke-width="2.6"/>
<text transform="translate(619.7,183.95) scale(1,1.04)" font-size="27.4" text-anchor="start" fill="#000">0.18 V s<tspan dy="-10.69" font-size="18.36">-1</tspan></text>
<line x1="558" y1="211" x2="619.6" y2="211" stroke="#B177DE" stroke-width="2.6"/>
<text transform="translate(619.7,220.7) scale(1,1.04)" font-size="27.4" text-anchor="start" fill="#000">0.22 V s<tspan dy="-10.69" font-size="18.36">-1</tspan></text>
<line x1="558" y1="247.75" x2="619.6" y2="247.75" stroke="#CC9900" stroke-width="2.6"/>
<text transform="translate(619.7,257.45) scale(1,1.04)" font-size="27.4" text-anchor="start" fill="#000">0.26 V s<tspan dy="-10.69" font-size="18.36">-1</tspan></text>
<line x1="558" y1="284.5" x2="619.6" y2="284.5" stroke="#00CBCC" stroke-width="2.6"/>
<text transform="translate(619.7,294.2) scale(1,1.04)" font-size="27.4" text-anchor="start" fill="#000">0.30 V s<tspan dy="-10.69" font-size="18.36">-1</tspan></text>
<path d="M1619.3,342.7 L1617.3,342.71 L1615.3,342.71 L1613.29,342.72 L1611.29,342.73 L1609.29,342.73 L1607.29,342.74 L1605.29,342.75 L1603.28,342.75 L1601.28,342.76 L1599.28,342.76 L1597.28,342.77 L1595.28,342.78 L1593.27,342.78 L1591.27,342.79 L1589.27,342.79 L1587.27,342.8 L1585.27,342.81 L1583.26,342.81 L1581.26,342.82 L1579.26,342.82 L1577.26,342.83 L1575.26,342.83 L1573.25,342.84 L1571.25,342.85 L1569.25,342.85 L1567.25,342.86 L1565.25,342.86 L1563.24,342.87 L1561.24,342.88 L1559.24,342.88 L1557.24,342.89 L1555.24,342.89 L1553.23,342.9 L1551.23,342.91 L1549.23,342.91 L1547.23,342.92 L1545.23,342.93 L1543.22,342.93 L1541.22,342.94 L1539.22,342.95 L1537.22,342.95 L1535.22,342.96 L1533.21,342.97 L1531.21,342.97 L1529.21,342.98 L1527.21,342.99 L1525.21,342.99 L1523.2,343 L1521.2,343.01 L1519.2,343.02 L1517.2,343.03 L1515.2,343.03 L1513.19,343.04 L1511.19,343.05 L1509.19,343.06 L1507.19,343.07 L1505.19,343.08 L1503.18,343.09 L1501.18,343.09 L1499.18,343.1 L1497.18,343.11 L1495.18,343.12 L1493.17,343.13 L1491.17,343.14 L1489.17,343.16 L1487.17,343.17 L1485.17,343.18 L1483.17,343.19 L1481.16,343.2 L1479.16,343.21 L1477.16,343.22 L1475.16,343.24 L1473.16,343.25 L1471.15,343.26 L1469.15,343.27 L1467.15,343.29 L1465.15,343.3 L1463.15,343.31 L1461.14,343.32 L1459.14,343.34 L1457.14,343.35 L1455.14,343.36 L1453.14,343.38 L1451.13,343.39 L1449.13,343.41 L1447.13,343.42 L1445.13,343.43 L1443.13,343.45 L1441.12,343.46 L1439.12,343.47 L1437.12,343.49 L1435.12,343.5 L1433.12,343.51 L1431.11,343.53 L1429.11,343.54 L1427.11,343.55 L1425.11,343.57 L1423.11,343.58 L1421.1,343.59 L1419.1,343.61 L1417.1,343.62 L1415.1,343.63 L1413.1,343.64 L1411.09,343.66 L1409.09,343.67 L1407.09,343.68 L1405.09,343.7 L1403.09,343.71 L1401.08,343.72 L1399.08,343.74 L1397.08,343.75 L1395.08,343.76 L1393.08,343.78 L1391.08,343.79 L1389.07,343.8 L1387.07,343.81 L1385.07,343.83 L1383.07,343.84 L1381.07,343.85 L1379.06,343.87 L1377.06,343.88 L1375.06,343.89 L1373.06,343.91 L1371.06,343.92 L1369.05,343.93 L1367.05,343.95 L1365.05,343.96 L1363.05,343.97 L1361.05,343.99 L1359.04,344 L1357.04,344.01 L1355.04,344.03 L1353.04,344.04 L1351.04,344.05 L1349.03,344.07 L1347.03,344.08 L1345.03,344.09 L1343.03,344.11 L1341.03,344.12 L1339.02,344.13 L1337.02,344.15 L1335.02,344.16 L1333.02,344.17 L1331.02,344.19 L1329.01,344.2 L1327.01,344.21 L1325.01,344.23 L1323.01,344.24 L1321.01,344.25 L1319,344.27 L1317,344.28 L1315,344.29 L1314,344.3 L1303,350.5 L1302.35,352.39 L1301.71,354.29 L1301.05,356.17 L1300.32,358.03 L1299.5,359.85 L1298.58,361.63 L1297.58,363.35 L1296.51,365.05 L1295.41,366.72 L1294.3,368.38 L1293.2,370.05 L1292.12,371.73 L1291.05,373.43 L1290.01,375.13 L1288.98,376.84 L1287.95,378.56 L1286.92,380.28 L1285.89,381.99 L1284.85,383.7 L1283.8,385.4 L1282.74,387.1 L1281.65,388.78 L1280.54,390.44 L1279.4,392.08 L1278.23,393.71 L1277.05,395.32 L1275.85,396.92 L1274.63,398.51 L1273.39,400.07 L1272.1,401.6 L1270.77,403.09 L1269.37,404.52 L1267.91,405.89 L1266.39,407.17 L1264.79,408.37 L1263.12,409.46 L1261.37,410.42 L1259.56,411.25 L1257.69,411.96 L1255.78,412.55 L1253.85,413.03 L1251.88,413.38 L1249.9,413.61 L1247.91,413.73 L1245.91,413.71 L1243.92,413.59 L1241.93,413.37 L1239.95,413.08 L1237.98,412.73 L1236.02,412.34 L1234.07,411.92 L1232.12,411.47 L1230.17,411.01 L1228.23,410.53 L1226.29,410.06 L1224.34,409.58 L1222.41,409.08 L1220.48,408.55 L1218.56,407.98 L1216.65,407.38 L1214.75,406.76 L1212.85,406.15 L1210.94,405.55 L1209.02,404.98 L1207.09,404.45 L1205.16,403.96 L1203.21,403.49 L1201.26,403.05 L1199.31,402.62 L1197.35,402.21 L1195.39,401.8 L1193.43,401.41 L1191.47,401.02 L1189.5,400.64 L1187.54,400.27 L1185.57,399.91 L1183.6,399.55 L1181.63,399.2 L1179.66,398.85 L1177.69,398.51 L1175.72,398.17 L1173.75,397.84 L1171.77,397.52 L1169.8,397.2 L1167.82,396.88 L1165.85,396.57 L1163.87,396.27 L1161.89,395.97 L1159.92,395.68 L1157.94,395.39 L1155.95,395.12 L1153.97,394.86 L1151.99,394.6 L1150,394.36 L1148.02,394.12 L1146.03,393.89 L1144.04,393.66 L1142.05,393.44 L1140.06,393.23 L1138.08,393.02 L1136.09,392.81 L1134.1,392.6 L1132.11,392.39 L1130.12,392.19 L1128.13,391.98 L1126.14,391.78 L1124.15,391.57 L1122.16,391.36 L1120.17,391.15 L1118.18,390.93 L1116.19,390.71 L1115.2,390.6 L1117.19,390.35 L1119.17,390.11 L1121.16,389.86 L1123.15,389.62 L1125.13,389.37 L1127.12,389.13 L1129.11,388.89 L1131.1,388.64 L1133.08,388.4 L1135.07,388.16 L1137.06,387.91 L1139.04,387.66 L1141.03,387.41 L1143.02,387.16 L1145,386.9 L1146.98,386.64 L1148.97,386.37 L1150.95,386.1 L1152.93,385.82 L1154.92,385.53 L1156.9,385.24 L1158.88,384.95 L1160.86,384.65 L1162.83,384.34 L1164.81,384.02 L1166.79,383.71 L1168.76,383.38 L1170.74,383.05 L1172.71,382.72 L1174.68,382.38 L1176.65,382.03 L1178.62,381.68 L1180.59,381.32 L1182.56,380.95 L1184.53,380.57 L1186.49,380.18 L1188.45,379.78 L1190.41,379.37 L1192.37,378.95 L1194.32,378.52 L1196.27,378.08 L1198.22,377.62 L1200.17,377.15 L1202.11,376.66 L1204.05,376.16 L1205.98,375.65 L1207.91,375.13 L1209.84,374.59 L1211.76,374.03 L1213.68,373.47 L1215.6,372.88 L1217.51,372.29 L1219.41,371.68 L1221.31,371.06 L1223.21,370.42 L1225.11,369.77 L1227,369.11 L1228.88,368.44 L1230.76,367.76 L1232.64,367.07 L1234.51,366.37 L1236.38,365.65 L1238.25,364.93 L1240.11,364.19 L1241.97,363.44 L1243.82,362.68 L1245.66,361.9 L1247.49,361.1 L1249.32,360.28 L1251.13,359.44 L1252.93,358.58 L1254.72,357.68 L1256.49,356.76 L1258.24,355.8 L1259.98,354.82 L1261.7,353.8 L1263.39,352.75 L1265.07,351.67 L1266.72,350.55 L1268.36,349.4 L1269.97,348.23 L1271.57,347.02 L1273.14,345.8 L1274.7,344.54 L1276.24,343.27 L1277.77,341.98 L1279.28,340.67 L1280.78,339.35 L1282.27,338.02 L1283.75,336.67 L1285.23,335.31 L1286.69,333.94 L1288.14,332.57 L1289.58,331.18 L1291.01,329.78 L1292.44,328.38 L1293.85,326.96 L1295.26,325.54 L1296.66,324.1 L1298.04,322.66 L1299.42,321.21 L1300.79,319.75 L1302.15,318.28 L1303.51,316.81 L1304.85,315.33 L1306.18,313.83 L1307.51,312.33 L1308.82,310.83 L1310.13,309.31 L1311.43,307.78 L1312.71,306.25 L1313.98,304.71 L1315.25,303.15 L1316.5,301.59 L1317.74,300.02 L1318.97,298.44 L1320.18,296.85 L1321.39,295.26 L1322.58,293.65 L1323.77,292.04 L1324.95,290.42 L1326.11,288.79 L1327.27,287.16 L1328.43,285.53 L1329.57,283.88 L1330.71,282.24 L1331.85,280.59 L1332.98,278.94 L1334.1,277.28 L1335.21,275.62 L1336.33,273.95 L1337.43,272.28 L1338.53,270.61 L1339.62,268.93 L1340.7,267.25 L1341.78,265.56 L1342.85,263.87 L1343.92,262.18 L1344.99,260.48 L1346.05,258.79 L1347.11,257.09 L1348.16,255.39 L1349.22,253.69 L1350.28,251.99 L1351.33,250.29 L1352.39,248.59 L1353.45,246.89 L1354.51,245.19 L1355.57,243.49 L1356.62,241.79 L1357.68,240.09 L1358.74,238.39 L1359.79,236.69 L1360.85,234.98 L1361.9,233.28 L1362.95,231.58 L1364,229.87 L1365.05,228.17 L1366.1,226.46 L1367.14,224.75 L1368.19,223.05 L1369.24,221.34 L1370.29,219.64 L1371.35,217.94 L1372.41,216.25 L1373.49,214.56 L1374.58,212.89 L1375.69,211.22 L1376.81,209.56 L1377.95,207.92 L1379.1,206.28 L1380.26,204.65 L1381.44,203.03 L1382.62,201.42 L1383.81,199.81 L1385,198.2 L1393.8,225.5 L1394.09,227.49 L1394.38,229.47 L1394.66,231.46 L1394.94,233.44 L1395.21,235.43 L1395.46,237.42 L1395.7,239.41 L1395.92,241.41 L1396.13,243.4 L1396.32,245.4 L1396.51,247.4 L1396.69,249.4 L1396.86,251.39 L1397.03,253.39 L1397.19,255.39 L1397.35,257.39 L1397.5,259.39 L1397.66,261.39 L1397.81,263.4 L1397.97,265.4 L1398.12,267.4 L1398.27,269.4 L1398.43,271.4 L1398.58,273.4 L1398.74,275.4 L1398.9,277.4 L1399.05,279.4 L1399.21,281.4 L1399.37,283.4 L1399.53,285.4 L1399.69,287.4 L1399.85,289.4 L1400.01,291.4 L1400.17,293.4 L1400.33,295.4 L1400.49,297.4 L1400.65,299.4 L1400.81,301.4 L1400.96,303.4 L1401.12,305.4 L1401.28,307.4 L1401.44,309.4 L1401.59,311.4 L1401.75,313.4 L1401.91,315.4 L1402.07,317.4 L1402.23,319.4 L1402.38,321.4 L1402.54,323.4 L1402.7,325.4 L1404.23,326.69 L1405.78,327.95 L1407.35,329.16 L1408.98,330.28 L1410.68,331.27 L1412.46,332.1 L1414.32,332.76 L1416.22,333.27 L1418.17,333.68 L1420.14,334.02 L1422.11,334.32 L1424.1,334.6 L1426.08,334.86 L1428.07,335.1 L1430.06,335.33 L1432.05,335.54 L1434.04,335.74 L1436.03,335.92 L1438.02,336.1 L1440.02,336.26 L1442.01,336.41 L1444.01,336.55 L1446.01,336.68 L1448,336.8 L1450,336.91 L1452,337.01 L1454,337.11 L1456,337.2 L1458,337.27 L1460,337.35 L1462,337.42 L1464,337.48 L1466,337.54 L1468,337.6 L1470,337.65 L1472,337.7 L1474.01,337.75 L1476.01,337.79 L1478.01,337.84 L1480.01,337.88 L1482.01,337.92 L1484.01,337.96 L1486.01,338 L1488.01,338.03 L1490.01,338.07 L1492.02,338.1 L1494.02,338.14 L1496.02,338.17 L1498.02,338.2 L1500.02,338.24 L1502.02,338.27 L1504.02,338.31 L1506.02,338.34 L1508.03,338.38 L1510.03,338.41 L1512.03,338.45 L1514.03,338.48 L1516.03,338.52 L1518.03,338.56 L1520.03,338.6 L1522.03,338.64 L1524.03,338.68 L1526.04,338.72 L1528.04,338.76 L1530.04,338.8 L1532.04,338.83 L1534.04,338.87 L1536.04,338.91 L1538.04,338.94 L1540.04,338.98 L1542.04,339.01 L1544.05,339.04 L1546.05,339.08 L1548.05,339.11 L1550.05,339.14 L1552.05,339.17 L1554.05,339.21 L1556.05,339.24 L1558.05,339.27 L1560.06,339.3 L1562.06,339.33 L1564.06,339.36 L1566.06,339.39 L1568.06,339.42 L1570.06,339.45 L1572.06,339.48 L1574.06,339.51 L1576.07,339.54 L1578.07,339.56 L1580.07,339.59 L1582.07,339.62 L1584.07,339.65 L1586.07,339.68 L1588.07,339.71 L1590.08,339.74 L1592.08,339.76 L1594.08,339.79 L1596.08,339.82 L1598.08,339.85 L1600.08,339.88 L1602.08,339.91 L1604.08,339.94 L1606.09,339.96 L1608.09,339.99 L1610.09,340.02 L1612.09,340.05 L1614.09,340.08 L1616.09,340.11 L1618.09,340.14 L1620.09,340.17 L1622.1,340.2 L1624.1,340.23 L1626.1,340.26 L1628.1,340.29 L1628.6,340.3" fill="none" stroke="#515151" stroke-width="3" stroke-linejoin="round" stroke-linecap="round"/>
<path d="M1619.3,342.7 L1617.3,342.71 L1615.3,342.71 L1613.29,342.72 L1611.29,342.73 L1609.29,342.73 L1607.29,342.74 L1605.29,342.75 L1603.28,342.75 L1601.28,342.76 L1599.28,342.76 L1597.28,342.77 L1595.28,342.78 L1593.27,342.78 L1591.27,342.79 L1589.27,342.79 L1587.27,342.8 L1585.27,342.81 L1583.26,342.81 L1581.26,342.82 L1579.26,342.82 L1577.26,342.83 L1575.26,342.83 L1573.25,342.84 L1571.25,342.85 L1569.25,342.85 L1567.25,342.86 L1565.25,342.86 L1563.24,342.87 L1561.24,342.88 L1559.24,342.88 L1557.24,342.89 L1555.24,342.89 L1553.23,342.9 L1551.23,342.91 L1549.23,342.91 L1547.23,342.92 L1545.23,342.93 L1543.22,342.93 L1541.22,342.94 L1539.22,342.95 L1537.22,342.95 L1535.22,342.96 L1533.21,342.97 L1531.21,342.97 L1529.21,342.98 L1527.21,342.99 L1525.21,342.99 L1523.2,343 L1521.2,343.01 L1519.2,343.02 L1517.2,343.03 L1515.2,343.03 L1513.19,343.04 L1511.19,343.05 L1509.19,343.06 L1507.19,343.07 L1505.19,343.08 L1503.18,343.09 L1501.18,343.09 L1499.18,343.1 L1497.18,343.11 L1495.18,343.12 L1493.17,343.13 L1491.17,343.14 L1489.17,343.16 L1487.17,343.17 L1485.17,343.18 L1483.17,343.19 L1481.16,343.2 L1479.16,343.21 L1477.16,343.22 L1475.16,343.24 L1473.16,343.25 L1471.15,343.26 L1469.15,343.27 L1467.15,343.29 L1465.15,343.3 L1463.15,343.31 L1461.14,343.32 L1459.14,343.34 L1457.14,343.35 L1455.14,343.36 L1453.14,343.38 L1451.13,343.39 L1449.13,343.41 L1447.13,343.42 L1445.13,343.43 L1443.13,343.45 L1441.12,343.46 L1439.12,343.47 L1437.12,343.49 L1435.12,343.5 L1433.12,343.51 L1431.11,343.53 L1429.11,343.54 L1427.11,343.55 L1425.11,343.57 L1423.11,343.58 L1421.1,343.59 L1419.1,343.61 L1417.1,343.62 L1415.1,343.63 L1413.1,343.64 L1411.09,343.66 L1409.09,343.67 L1407.09,343.68 L1405.09,343.7 L1403.09,343.71 L1401.08,343.72 L1399.08,343.74 L1397.08,343.75 L1395.08,343.76 L1393.08,343.78 L1391.08,343.79 L1389.07,343.8 L1387.07,343.81 L1385.07,343.83 L1383.07,343.84 L1381.07,343.85 L1379.06,343.87 L1377.06,343.88 L1375.06,343.89 L1373.06,343.91 L1371.06,343.92 L1369.05,343.93 L1367.05,343.95 L1365.05,343.96 L1363.05,343.97 L1361.05,343.99 L1359.04,344 L1357.04,344.01 L1355.04,344.03 L1353.04,344.04 L1351.04,344.05 L1349.03,344.07 L1347.03,344.08 L1345.03,344.09 L1343.03,344.11 L1341.03,344.12 L1339.02,344.13 L1337.02,344.15 L1335.02,344.16 L1333.02,344.17 L1331.02,344.19 L1329.01,344.2 L1327.01,344.21 L1325.01,344.23 L1323.01,344.24 L1321.01,344.25 L1319,344.27 L1317,344.28 L1315,344.29 L1314,344.3 L1303,350.5 L1302.32,352.38 L1301.65,354.27 L1300.96,356.15 L1300.26,358.02 L1299.53,359.88 L1298.76,361.73 L1297.96,363.57 L1297.14,365.39 L1296.3,367.21 L1295.46,369.02 L1294.61,370.84 L1293.76,372.65 L1292.91,374.46 L1292.05,376.27 L1291.19,378.08 L1290.32,379.88 L1289.45,381.68 L1288.58,383.49 L1287.71,385.29 L1286.83,387.09 L1285.95,388.88 L1285.08,390.68 L1284.21,392.49 L1283.35,394.29 L1282.49,396.1 L1281.62,397.91 L1280.74,399.7 L1279.85,401.5 L1278.93,403.27 L1277.98,405.04 L1277.01,406.78 L1276.01,408.52 L1274.99,410.24 L1273.95,411.95 L1272.89,413.65 L1271.8,415.33 L1270.68,416.98 L1269.51,418.61 L1268.29,420.19 L1267.01,421.73 L1265.66,423.21 L1264.26,424.63 L1262.8,426 L1261.28,427.31 L1259.72,428.56 L1258.12,429.75 L1256.47,430.89 L1254.79,431.96 L1253.05,432.95 L1251.25,433.81 L1249.39,434.51 L1247.47,435.04 L1245.5,435.4 L1243.52,435.64 L1241.53,435.77 L1239.53,435.81 L1237.53,435.77 L1235.53,435.65 L1233.54,435.46 L1231.56,435.17 L1229.6,434.8 L1227.65,434.34 L1225.72,433.82 L1223.8,433.25 L1221.89,432.64 L1220,432 L1218.11,431.33 L1216.24,430.62 L1214.4,429.84 L1212.58,429 L1210.78,428.14 L1208.97,427.29 L1207.13,426.49 L1205.28,425.73 L1203.41,425.02 L1201.53,424.34 L1199.64,423.67 L1197.75,423.01 L1195.86,422.37 L1193.96,421.73 L1192.06,421.1 L1190.16,420.48 L1188.25,419.86 L1186.35,419.26 L1184.44,418.66 L1182.53,418.06 L1180.61,417.47 L1178.7,416.89 L1176.78,416.32 L1174.86,415.76 L1172.94,415.2 L1171.01,414.65 L1169.08,414.11 L1167.15,413.58 L1165.22,413.05 L1163.29,412.54 L1161.35,412.05 L1159.41,411.56 L1157.46,411.1 L1155.51,410.64 L1153.56,410.21 L1151.6,409.78 L1149.64,409.37 L1147.68,408.97 L1145.72,408.58 L1143.75,408.2 L1141.79,407.83 L1139.82,407.47 L1137.85,407.11 L1135.88,406.75 L1133.91,406.4 L1131.94,406.05 L1129.97,405.7 L1128,405.35 L1126.02,405 L1124.05,404.65 L1122.09,404.29 L1120.12,403.93 L1118.15,403.56 L1116.18,403.19 L1115.2,403 L1117.16,402.61 L1119.13,402.22 L1121.09,401.83 L1123.05,401.44 L1125.01,401.05 L1126.98,400.67 L1128.94,400.28 L1130.9,399.89 L1132.87,399.51 L1134.83,399.12 L1136.79,398.73 L1138.76,398.34 L1140.72,397.94 L1142.68,397.54 L1144.64,397.14 L1146.6,396.73 L1148.55,396.31 L1150.51,395.89 L1152.46,395.46 L1154.42,395.02 L1156.37,394.58 L1158.32,394.12 L1160.26,393.66 L1162.21,393.18 L1164.15,392.7 L1166.09,392.21 L1168.03,391.72 L1169.96,391.21 L1171.9,390.7 L1173.83,390.18 L1175.76,389.65 L1177.69,389.12 L1179.61,388.58 L1181.54,388.03 L1183.46,387.47 L1185.38,386.91 L1187.3,386.34 L1189.21,385.76 L1191.13,385.17 L1193.04,384.58 L1194.95,383.98 L1196.85,383.37 L1198.76,382.75 L1200.66,382.13 L1202.56,381.5 L1204.45,380.87 L1206.35,380.22 L1208.24,379.57 L1210.13,378.91 L1212.01,378.24 L1213.89,377.55 L1215.77,376.85 L1217.63,376.14 L1219.5,375.41 L1221.35,374.67 L1223.2,373.9 L1225.04,373.12 L1226.87,372.32 L1228.69,371.49 L1230.51,370.65 L1232.31,369.79 L1234.1,368.91 L1235.89,368.01 L1237.67,367.09 L1239.43,366.16 L1241.19,365.2 L1242.94,364.23 L1244.68,363.25 L1246.41,362.25 L1248.13,361.23 L1249.84,360.19 L1251.54,359.13 L1253.23,358.06 L1254.9,356.97 L1256.56,355.86 L1258.21,354.72 L1259.84,353.57 L1261.46,352.4 L1263.06,351.2 L1264.64,349.98 L1266.21,348.74 L1267.76,347.48 L1269.29,346.2 L1270.8,344.89 L1272.3,343.57 L1273.78,342.23 L1275.24,340.86 L1276.69,339.49 L1278.12,338.09 L1279.54,336.68 L1280.94,335.26 L1282.33,333.82 L1283.71,332.37 L1285.07,330.91 L1286.43,329.43 L1287.76,327.95 L1289.09,326.45 L1290.41,324.94 L1291.71,323.43 L1293.01,321.9 L1294.3,320.37 L1295.57,318.83 L1296.84,317.28 L1298.1,315.73 L1299.36,314.17 L1300.6,312.61 L1301.84,311.04 L1303.08,309.46 L1304.3,307.88 L1305.52,306.29 L1306.73,304.7 L1307.93,303.1 L1309.13,301.5 L1310.32,299.89 L1311.49,298.27 L1312.67,296.65 L1313.83,295.02 L1314.98,293.38 L1316.13,291.75 L1317.27,290.1 L1318.4,288.45 L1319.53,286.8 L1320.65,285.14 L1321.77,283.48 L1322.88,281.82 L1323.98,280.15 L1325.08,278.47 L1326.17,276.8 L1327.26,275.12 L1328.34,273.44 L1329.42,271.75 L1330.49,270.06 L1331.55,268.36 L1332.61,266.67 L1333.66,264.96 L1334.71,263.26 L1335.75,261.55 L1336.78,259.83 L1337.8,258.11 L1338.82,256.39 L1339.84,254.67 L1340.85,252.94 L1341.85,251.21 L1342.84,249.47 L1343.83,247.73 L1344.82,245.99 L1345.8,244.25 L1346.77,242.5 L1347.74,240.74 L1348.7,238.99 L1349.65,237.23 L1350.6,235.47 L1351.54,233.7 L1352.47,231.93 L1353.4,230.16 L1354.32,228.38 L1355.23,226.6 L1356.14,224.82 L1357.04,223.03 L1357.94,221.24 L1358.83,219.45 L1359.72,217.66 L1360.6,215.86 L1361.48,214.06 L1362.35,212.26 L1363.23,210.47 L1364.1,208.67 L1364.98,206.87 L1365.85,205.07 L1366.73,203.27 L1367.61,201.47 L1368.49,199.67 L1369.37,197.88 L1370.26,196.08 L1371.15,194.29 L1372.04,192.5 L1372.93,190.71 L1373.82,188.91 L1374.71,187.12 L1375.6,185.33 L1376.49,183.54 L1377.38,181.75 L1378.27,179.95 L1379.16,178.16 L1380.04,176.36 L1380.91,174.56 L1381.79,172.76 L1382.65,170.96 L1383.52,169.16 L1384.38,167.35 L1384.6,166.9 L1394.2,160.1 L1394.34,162.1 L1394.47,164.1 L1394.6,166.1 L1394.73,168.1 L1394.86,170.1 L1394.99,172.11 L1395.12,174.11 L1395.24,176.11 L1395.36,178.11 L1395.49,180.11 L1395.61,182.11 L1395.73,184.11 L1395.85,186.12 L1395.97,188.12 L1396.09,190.12 L1396.21,192.12 L1396.33,194.12 L1396.46,196.12 L1396.58,198.13 L1396.7,200.13 L1396.83,202.13 L1396.95,204.13 L1397.08,206.13 L1397.21,208.13 L1397.34,210.13 L1397.48,212.13 L1397.62,214.13 L1397.76,216.13 L1397.9,218.13 L1398.05,220.13 L1398.2,222.13 L1398.36,224.13 L1398.52,226.13 L1398.68,228.13 L1398.86,230.13 L1399.03,232.12 L1399.22,234.12 L1399.42,236.12 L1399.62,238.11 L1399.83,240.1 L1400.06,242.1 L1400.29,244.09 L1400.54,246.08 L1400.8,248.07 L1401.07,250.05 L1401.35,252.04 L1401.64,254.02 L1401.94,256.01 L1402.25,257.99 L1402.56,259.97 L1402.88,261.95 L1403.2,263.93 L1403.52,265.91 L1403.84,267.89 L1404.16,269.87 L1404.47,271.85 L1404.78,273.83 L1405.08,275.81 L1405.37,277.79 L1405.66,279.78 L1405.94,281.76 L1406.21,283.75 L1406.48,285.74 L1406.75,287.72 L1407.02,289.71 L1407.28,291.7 L1407.55,293.69 L1407.81,295.68 L1408.07,297.66 L1408.33,299.65 L1408.59,301.64 L1408.84,303.63 L1409.1,305.62 L1409.36,307.61 L1409.61,309.6 L1409.87,311.59 L1410.12,313.57 L1410.38,315.56 L1410.64,317.55 L1410.9,319.54 L1411.15,321.53 L1411.41,323.52 L1411.67,325.51 L1411.8,326.5 L1413.49,327.57 L1415.2,328.61 L1416.93,329.59 L1418.7,330.5 L1420.52,331.31 L1422.38,332 L1424.28,332.6 L1426.21,333.11 L1428.16,333.54 L1430.12,333.93 L1432.09,334.28 L1434.07,334.6 L1436.05,334.9 L1438.03,335.18 L1440.01,335.45 L1442,335.71 L1443.99,335.95 L1445.97,336.19 L1447.97,336.4 L1449.96,336.6 L1451.95,336.79 L1453.95,336.96 L1455.94,337.11 L1457.94,337.26 L1459.94,337.39 L1461.94,337.52 L1463.93,337.63 L1465.93,337.75 L1467.93,337.85 L1469.93,337.95 L1471.93,338.05 L1473.93,338.14 L1475.93,338.23 L1477.93,338.32 L1479.94,338.4 L1481.94,338.47 L1483.94,338.54 L1485.94,338.61 L1487.94,338.67 L1489.94,338.73 L1491.94,338.78 L1493.95,338.83 L1495.95,338.88 L1497.95,338.93 L1499.95,338.98 L1501.95,339.02 L1503.96,339.06 L1505.96,339.1 L1507.96,339.14 L1509.96,339.18 L1511.96,339.21 L1513.97,339.25 L1515.97,339.28 L1517.97,339.31 L1519.97,339.34 L1521.98,339.37 L1523.98,339.4 L1525.98,339.43 L1527.98,339.46 L1529.98,339.48 L1531.99,339.51 L1533.99,339.54 L1535.99,339.56 L1537.99,339.58 L1540,339.61 L1542,339.63 L1544,339.65 L1546,339.68 L1548.01,339.7 L1550.01,339.72 L1552.01,339.74 L1554.01,339.76 L1556.01,339.78 L1558.02,339.8 L1560.02,339.82 L1562.02,339.84 L1564.02,339.87 L1566.03,339.89 L1568.03,339.9 L1570.03,339.92 L1572.03,339.94 L1574.04,339.96 L1576.04,339.98 L1578.04,340 L1580.04,340.02 L1582.05,340.04 L1584.05,340.06 L1586.05,340.08 L1588.05,340.1 L1590.06,340.12 L1592.06,340.15 L1594.06,340.17 L1596.06,340.19 L1598.06,340.21 L1600.07,340.23 L1602.07,340.25 L1604.07,340.28 L1606.07,340.3 L1608.08,340.32 L1610.08,340.35 L1612.08,340.37 L1614.08,340.4 L1616.09,340.42 L1618.09,340.45 L1620.09,340.48 L1622.09,340.5 L1624.09,340.53 L1626.1,340.56 L1628.1,340.59 L1628.6,340.6" fill="none" stroke="#F14040" stroke-width="3" stroke-linejoin="round" stroke-linecap="round"/>
<path d="M1619.3,342.7 L1617.3,342.71 L1615.3,342.71 L1613.29,342.72 L1611.29,342.73 L1609.29,342.73 L1607.29,342.74 L1605.29,342.75 L1603.28,342.75 L1601.28,342.76 L1599.28,342.76 L1597.28,342.77 L1595.28,342.78 L1593.27,342.78 L1591.27,342.79 L1589.27,342.79 L1587.27,342.8 L1585.27,342.81 L1583.26,342.81 L1581.26,342.82 L1579.26,342.82 L1577.26,342.83 L1575.26,342.83 L1573.25,342.84 L1571.25,342.85 L1569.25,342.85 L1567.25,342.86 L1565.25,342.86 L1563.24,342.87 L1561.24,342.88 L1559.24,342.88 L1557.24,342.89 L1555.24,342.89 L1553.23,342.9 L1551.23,342.91 L1549.23,342.91 L1547.23,342.92 L1545.23,342.93 L1543.22,342.93 L1541.22,342.94 L1539.22,342.95 L1537.22,342.95 L1535.22,342.96 L1533.21,342.97 L1531.21,342.97 L1529.21,342.98 L1527.21,342.99 L1525.21,342.99 L1523.2,343 L1521.2,343.01 L1519.2,343.02 L1517.2,343.03 L1515.2,343.03 L1513.19,343.04 L1511.19,343.05 L1509.19,343.06 L1507.19,343.07 L1505.19,343.08 L1503.18,343.09 L1501.18,343.09 L1499.18,343.1 L1497.18,343.11 L1495.18,343.12 L1493.17,343.13 L1491.17,343.14 L1489.17,343.16 L1487.17,343.17 L1485.17,343.18 L1483.17,343.19 L1481.16,343.2 L1479.16,343.21 L1477.16,343.22 L1475.16,343.24 L1473.16,343.25 L1471.15,343.26 L1469.15,343.27 L1467.15,343.29 L1465.15,343.3 L1463.15,343.31 L1461.14,343.32 L1459.14,343.34 L1457.14,343.35 L1455.14,343.36 L1453.14,343.38 L1451.13,343.39 L1449.13,343.41 L1447.13,343.42 L1445.13,343.43 L1443.13,343.45 L1441.12,343.46 L1439.12,343.47 L1437.12,343.49 L1435.12,343.5 L1433.12,343.51 L1431.11,343.53 L1429.11,343.54 L1427.11,343.55 L1425.11,343.57 L1423.11,343.58 L1421.1,343.59 L1419.1,343.61 L1417.1,343.62 L1415.1,343.63 L1413.1,343.64 L1411.09,343.66 L1409.09,343.67 L1407.09,343.68 L1405.09,343.7 L1403.09,343.71 L1401.08,343.72 L1399.08,343.74 L1397.08,343.75 L1395.08,343.76 L1393.08,343.78 L1391.08,343.79 L1389.07,343.8 L1387.07,343.81 L1385.07,343.83 L1383.07,343.84 L1381.07,343.85 L1379.06,343.87 L1377.06,343.88 L1375.06,343.89 L1373.06,343.91 L1371.06,343.92 L1369.05,343.93 L1367.05,343.95 L1365.05,343.96 L1363.05,343.97 L1361.05,343.99 L1359.04,344 L1357.04,344.01 L1355.04,344.03 L1353.04,344.04 L1351.04,344.05 L1349.03,344.07 L1347.03,344.08 L1345.03,344.09 L1343.03,344.11 L1341.03,344.12 L1339.02,344.13 L1337.02,344.15 L1335.02,344.16 L1333.02,344.17 L1331.02,344.19 L1329.01,344.2 L1327.01,344.21 L1325.01,344.23 L1323.01,344.24 L1321.01,344.25 L1319,344.27 L1317,344.28 L1315,344.29 L1314,344.3 L1303,350.5 L1302.3,352.38 L1301.61,354.25 L1300.91,356.13 L1300.23,358.01 L1299.55,359.89 L1298.89,361.78 L1298.24,363.68 L1297.59,365.57 L1296.94,367.46 L1296.28,369.35 L1295.59,371.23 L1294.88,373.1 L1294.16,374.97 L1293.44,376.84 L1292.7,378.7 L1291.96,380.56 L1291.21,382.41 L1290.46,384.27 L1289.7,386.12 L1288.93,387.97 L1288.16,389.82 L1287.38,391.66 L1286.59,393.5 L1285.8,395.34 L1285,397.17 L1284.2,399.01 L1283.4,400.84 L1282.59,402.67 L1281.77,404.5 L1280.95,406.32 L1280.11,408.14 L1279.25,409.95 L1278.38,411.75 L1277.47,413.53 L1276.55,415.31 L1275.59,417.06 L1274.61,418.81 L1273.6,420.54 L1272.57,422.25 L1271.52,423.96 L1270.45,425.65 L1269.35,427.32 L1268.23,428.98 L1267.09,430.63 L1265.93,432.25 L1264.74,433.86 L1263.53,435.46 L1262.31,437.04 L1261.06,438.61 L1259.78,440.14 L1258.45,441.64 L1257.07,443.08 L1255.61,444.45 L1254.08,445.74 L1252.48,446.93 L1250.8,448.02 L1249.07,449.01 L1247.28,449.89 L1245.44,450.66 L1243.55,451.32 L1241.63,451.86 L1239.67,452.28 L1237.7,452.57 L1235.71,452.72 L1233.71,452.73 L1231.72,452.6 L1229.74,452.34 L1227.77,451.97 L1225.82,451.52 L1223.89,451.02 L1221.96,450.48 L1220.04,449.91 L1218.13,449.31 L1216.23,448.69 L1214.35,448.02 L1212.48,447.29 L1210.63,446.53 L1208.78,445.76 L1206.94,444.99 L1205.08,444.24 L1203.23,443.48 L1201.37,442.73 L1199.52,441.97 L1197.67,441.2 L1195.83,440.42 L1193.98,439.65 L1192.14,438.88 L1190.29,438.1 L1188.44,437.33 L1186.59,436.56 L1184.74,435.8 L1182.89,435.04 L1181.04,434.29 L1179.18,433.54 L1177.32,432.8 L1175.46,432.07 L1173.59,431.35 L1171.72,430.64 L1169.84,429.94 L1167.96,429.25 L1166.08,428.58 L1164.19,427.93 L1162.29,427.29 L1160.38,426.68 L1158.47,426.09 L1156.55,425.52 L1154.63,424.96 L1152.7,424.43 L1150.77,423.91 L1148.83,423.4 L1146.89,422.91 L1144.95,422.43 L1143,421.96 L1141.05,421.5 L1139.1,421.05 L1137.15,420.61 L1135.2,420.17 L1133.25,419.73 L1131.29,419.29 L1129.34,418.86 L1127.39,418.42 L1125.43,417.99 L1123.48,417.54 L1121.53,417.1 L1119.58,416.64 L1117.63,416.18 L1115.69,415.72 L1115.2,415.6 L1117.13,415.05 L1119.05,414.5 L1120.98,413.96 L1122.9,413.41 L1124.83,412.86 L1126.76,412.32 L1128.68,411.77 L1130.61,411.23 L1132.54,410.69 L1134.46,410.14 L1136.39,409.59 L1138.31,409.05 L1140.24,408.49 L1142.16,407.94 L1144.09,407.38 L1146.01,406.82 L1147.93,406.25 L1149.84,405.67 L1151.76,405.09 L1153.67,404.5 L1155.58,403.9 L1157.49,403.3 L1159.4,402.68 L1161.3,402.06 L1163.2,401.44 L1165.1,400.8 L1166.99,400.16 L1168.89,399.5 L1170.78,398.85 L1172.67,398.18 L1174.55,397.51 L1176.44,396.83 L1178.32,396.15 L1180.2,395.46 L1182.08,394.76 L1183.95,394.06 L1185.82,393.35 L1187.69,392.64 L1189.56,391.92 L1191.43,391.19 L1193.29,390.46 L1195.15,389.72 L1197.01,388.98 L1198.87,388.23 L1200.72,387.48 L1202.58,386.72 L1204.43,385.96 L1206.28,385.2 L1208.12,384.42 L1209.97,383.64 L1211.81,382.86 L1213.64,382.06 L1215.47,381.25 L1217.3,380.42 L1219.11,379.58 L1220.92,378.72 L1222.71,377.84 L1224.5,376.94 L1226.27,376.02 L1228.04,375.08 L1229.79,374.11 L1231.52,373.12 L1233.25,372.11 L1234.96,371.07 L1236.66,370.02 L1238.35,368.94 L1240.02,367.85 L1241.69,366.74 L1243.34,365.62 L1244.99,364.48 L1246.62,363.32 L1248.25,362.16 L1249.86,360.98 L1251.47,359.78 L1253.07,358.58 L1254.66,357.37 L1256.25,356.14 L1257.82,354.91 L1259.39,353.67 L1260.95,352.41 L1262.49,351.14 L1264.03,349.86 L1265.56,348.57 L1267.07,347.26 L1268.57,345.94 L1270.06,344.6 L1271.53,343.24 L1272.98,341.87 L1274.42,340.47 L1275.84,339.06 L1277.24,337.64 L1278.62,336.19 L1279.98,334.73 L1281.33,333.25 L1282.66,331.76 L1283.97,330.25 L1285.27,328.72 L1286.55,327.19 L1287.82,325.64 L1289.07,324.08 L1290.31,322.51 L1291.55,320.93 L1292.77,319.35 L1293.98,317.75 L1295.18,316.15 L1296.37,314.55 L1297.56,312.93 L1298.73,311.31 L1299.9,309.69 L1301.06,308.05 L1302.21,306.42 L1303.35,304.77 L1304.48,303.12 L1305.6,301.46 L1306.71,299.8 L1307.82,298.13 L1308.91,296.45 L1309.99,294.77 L1311.07,293.08 L1312.14,291.38 L1313.2,289.69 L1314.25,287.98 L1315.3,286.28 L1316.34,284.57 L1317.37,282.86 L1318.41,281.14 L1319.44,279.42 L1320.46,277.7 L1321.49,275.98 L1322.5,274.26 L1323.52,272.53 L1324.53,270.81 L1325.54,269.08 L1326.54,267.34 L1327.54,265.61 L1328.53,263.87 L1329.52,262.13 L1330.51,260.39 L1331.49,258.64 L1332.46,256.89 L1333.44,255.14 L1334.4,253.39 L1335.37,251.64 L1336.33,249.88 L1337.29,248.12 L1338.24,246.36 L1339.19,244.6 L1340.13,242.83 L1341.08,241.06 L1342.01,239.3 L1342.94,237.52 L1343.87,235.75 L1344.79,233.97 L1345.71,232.19 L1346.62,230.41 L1347.53,228.63 L1348.44,226.84 L1349.34,225.05 L1350.23,223.26 L1351.12,221.47 L1352.01,219.67 L1352.89,217.88 L1353.77,216.08 L1354.64,214.27 L1355.51,212.47 L1356.37,210.66 L1357.23,208.86 L1358.08,207.04 L1358.93,205.23 L1359.77,203.41 L1360.6,201.59 L1361.43,199.77 L1362.25,197.94 L1363.06,196.11 L1363.87,194.28 L1364.67,192.44 L1365.46,190.61 L1366.25,188.77 L1367.04,186.93 L1367.83,185.09 L1368.61,183.24 L1369.4,181.4 L1370.19,179.56 L1370.98,177.72 L1371.77,175.88 L1372.57,174.05 L1373.37,172.21 L1374.18,170.38 L1374.99,168.55 L1375.81,166.72 L1376.63,164.9 L1377.45,163.07 L1378.28,161.25 L1379.11,159.43 L1379.95,157.61 L1380.79,155.79 L1381.64,153.98 L1382.49,152.17 L1383.36,150.37 L1384.23,148.57 L1385.12,146.77 L1386.02,144.99 L1386.94,143.21 L1387.88,141.44 L1388.84,139.69 L1389.81,137.94 L1390.8,136.2 L1391.81,134.47 L1392.82,132.75 L1393.84,131.03 L1394.1,130.6 L1403.5,139.1 L1403.6,141.1 L1403.69,143.1 L1403.79,145.1 L1403.88,147.1 L1403.98,149.1 L1404.07,151.1 L1404.17,153.1 L1404.27,155.1 L1404.36,157.09 L1404.46,159.09 L1404.56,161.09 L1404.66,163.09 L1404.75,165.09 L1404.85,167.09 L1404.96,169.09 L1405.06,171.09 L1405.16,173.09 L1405.26,175.09 L1405.36,177.09 L1405.46,179.09 L1405.56,181.08 L1405.67,183.08 L1405.77,185.08 L1405.87,187.08 L1405.97,189.08 L1406.08,191.08 L1406.18,193.08 L1406.28,195.08 L1406.39,197.08 L1406.49,199.08 L1406.59,201.07 L1406.7,203.07 L1406.8,205.07 L1406.9,207.07 L1407.01,209.07 L1407.11,211.07 L1407.21,213.07 L1407.32,215.07 L1407.42,217.07 L1407.53,219.07 L1407.63,221.06 L1407.73,223.06 L1407.84,225.06 L1407.94,227.06 L1408.05,229.06 L1408.15,231.06 L1408.26,233.06 L1408.36,235.06 L1408.47,237.06 L1408.57,239.05 L1408.68,241.05 L1408.79,243.05 L1408.89,245.05 L1409,247.05 L1409.1,249.05 L1409.21,251.05 L1409.32,253.05 L1409.43,255.05 L1409.53,257.04 L1409.64,259.04 L1409.75,261.04 L1409.86,263.04 L1409.97,265.04 L1410.08,267.04 L1410.19,269.04 L1410.3,271.04 L1410.41,273.03 L1410.52,275.03 L1410.63,277.03 L1410.75,279.03 L1410.86,281.03 L1410.98,283.03 L1411.1,285.02 L1411.22,287.02 L1411.34,289.02 L1411.47,291.02 L1411.6,293.02 L1411.72,295.01 L1411.85,297.01 L1411.98,299.01 L1412.11,301.01 L1412.24,303 L1412.37,305 L1412.4,305.5 L1420.5,325.9 L1422.25,326.87 L1424.01,327.82 L1425.79,328.73 L1427.59,329.57 L1429.44,330.32 L1431.32,330.97 L1433.23,331.54 L1435.17,332.02 L1437.12,332.45 L1439.09,332.82 L1441.06,333.16 L1443.04,333.46 L1445.02,333.74 L1447.01,334 L1449,334.24 L1450.99,334.46 L1452.98,334.67 L1454.97,334.86 L1456.97,335.05 L1458.96,335.23 L1460.96,335.4 L1462.95,335.57 L1464.95,335.73 L1466.95,335.89 L1468.94,336.04 L1470.94,336.19 L1472.94,336.34 L1474.94,336.49 L1476.93,336.62 L1478.93,336.76 L1480.93,336.88 L1482.93,337 L1484.93,337.11 L1486.93,337.22 L1488.93,337.32 L1490.93,337.41 L1492.93,337.5 L1494.93,337.59 L1496.93,337.67 L1498.94,337.74 L1500.94,337.82 L1502.94,337.89 L1504.94,337.95 L1506.94,338.02 L1508.95,338.08 L1510.95,338.14 L1512.95,338.19 L1514.95,338.25 L1516.95,338.3 L1518.96,338.35 L1520.96,338.39 L1522.96,338.44 L1524.96,338.49 L1526.97,338.53 L1528.97,338.57 L1530.97,338.61 L1532.97,338.65 L1534.98,338.69 L1536.98,338.72 L1538.98,338.76 L1540.98,338.79 L1542.99,338.83 L1544.99,338.86 L1546.99,338.89 L1548.99,338.92 L1551,338.95 L1553,338.99 L1555,339.01 L1557.01,339.04 L1559.01,339.07 L1561.01,339.1 L1563.01,339.13 L1565.02,339.16 L1567.02,339.18 L1569.02,339.21 L1571.02,339.24 L1573.03,339.27 L1575.03,339.29 L1577.03,339.32 L1579.04,339.35 L1581.04,339.38 L1583.04,339.4 L1585.04,339.43 L1587.05,339.46 L1589.05,339.49 L1591.05,339.52 L1593.05,339.55 L1595.06,339.58 L1597.06,339.61 L1599.06,339.64 L1601.07,339.67 L1603.07,339.7 L1605.07,339.73 L1607.07,339.77 L1609.08,339.8 L1611.08,339.84 L1613.08,339.87 L1615.08,339.91 L1617.09,339.95 L1619.09,339.99 L1621.09,340.03 L1623.09,340.08 L1625.1,340.12 L1627.1,340.17 L1628.6,340.2" fill="none" stroke="#1A6FDF" stroke-width="3" stroke-linejoin="round" stroke-linecap="round"/>
<path d="M1619.3,342.7 L1617.3,342.71 L1615.3,342.71 L1613.29,342.72 L1611.29,342.73 L1609.29,342.73 L1607.29,342.74 L1605.29,342.75 L1603.28,342.75 L1601.28,342.76 L1599.28,342.76 L1597.28,342.77 L1595.28,342.78 L1593.27,342.78 L1591.27,342.79 L1589.27,342.79 L1587.27,342.8 L1585.27,342.81 L1583.26,342.81 L1581.26,342.82 L1579.26,342.82 L1577.26,342.83 L1575.26,342.83 L1573.25,342.84 L1571.25,342.85 L1569.25,342.85 L1567.25,342.86 L1565.25,342.86 L1563.24,342.87 L1561.24,342.88 L1559.24,342.88 L1557.24,342.89 L1555.24,342.89 L1553.23,342.9 L1551.23,342.91 L1549.23,342.91 L1547.23,342.92 L1545.23,342.93 L1543.22,342.93 L1541.22,342.94 L1539.22,342.95 L1537.22,342.95 L1535.22,342.96 L1533.21,342.97 L1531.21,342.97 L1529.21,342.98 L1527.21,342.99 L1525.21,342.99 L1523.2,343 L1521.2,343.01 L1519.2,343.02 L1517.2,343.03 L1515.2,343.03 L1513.19,343.04 L1511.19,343.05 L1509.19,343.06 L1507.19,343.07 L1505.19,343.08 L1503.18,343.09 L1501.18,343.09 L1499.18,343.1 L1497.18,343.11 L1495.18,343.12 L1493.17,343.13 L1491.17,343.14 L1489.17,343.16 L1487.17,343.17 L1485.17,343.18 L1483.17,343.19 L1481.16,343.2 L1479.16,343.21 L1477.16,343.22 L1475.16,343.24 L1473.16,343.25 L1471.15,343.26 L1469.15,343.27 L1467.15,343.29 L1465.15,343.3 L1463.15,343.31 L1461.14,343.32 L1459.14,343.34 L1457.14,343.35 L1455.14,343.36 L1453.14,343.38 L1451.13,343.39 L1449.13,343.41 L1447.13,343.42 L1445.13,343.43 L1443.13,343.45 L1441.12,343.46 L1439.12,343.47 L1437.12,343.49 L1435.12,343.5 L1433.12,343.51 L1431.11,343.53 L1429.11,343.54 L1427.11,343.55 L1425.11,343.57 L1423.11,343.58 L1421.1,343.59 L1419.1,343.61 L1417.1,343.62 L1415.1,343.63 L1413.1,343.64 L1411.09,343.66 L1409.09,343.67 L1407.09,343.68 L1405.09,343.7 L1403.09,343.71 L1401.08,343.72 L1399.08,343.74 L1397.08,343.75 L1395.08,343.76 L1393.08,343.78 L1391.08,343.79 L1389.07,343.8 L1387.07,343.81 L1385.07,343.83 L1383.07,343.84 L1381.07,343.85 L1379.06,343.87 L1377.06,343.88 L1375.06,343.89 L1373.06,343.91 L1371.06,343.92 L1369.05,343.93 L1367.05,343.95 L1365.05,343.96 L1363.05,343.97 L1361.05,343.99 L1359.04,344 L1357.04,344.01 L1355.04,344.03 L1353.04,344.04 L1351.04,344.05 L1349.03,344.07 L1347.03,344.08 L1345.03,344.09 L1343.03,344.11 L1341.03,344.12 L1339.02,344.13 L1337.02,344.15 L1335.02,344.16 L1333.02,344.17 L1331.02,344.19 L1329.01,344.2 L1327.01,344.21 L1325.01,344.23 L1323.01,344.24 L1321.01,344.25 L1319,344.27 L1317,344.28 L1315,344.29 L1314,344.3 L1303,350.5 L1302.29,352.37 L1301.57,354.24 L1300.86,356.11 L1300.19,358 L1299.58,359.9 L1299.04,361.83 L1298.57,363.78 L1298.13,365.73 L1297.68,367.68 L1297.18,369.62 L1296.61,371.54 L1295.98,373.43 L1295.3,375.32 L1294.58,377.19 L1293.84,379.05 L1293.08,380.9 L1292.31,382.75 L1291.52,384.59 L1290.73,386.43 L1289.93,388.26 L1289.12,390.1 L1288.32,391.93 L1287.51,393.76 L1286.69,395.59 L1285.89,397.42 L1285.08,399.26 L1284.28,401.09 L1283.48,402.93 L1282.69,404.77 L1281.9,406.61 L1281.11,408.45 L1280.32,410.29 L1279.52,412.12 L1278.72,413.96 L1277.9,415.79 L1277.08,417.61 L1276.23,419.43 L1275.37,421.23 L1274.49,423.03 L1273.59,424.82 L1272.66,426.59 L1271.71,428.36 L1270.75,430.11 L1269.76,431.85 L1268.75,433.58 L1267.73,435.31 L1266.69,437.01 L1265.63,438.71 L1264.54,440.4 L1263.44,442.07 L1262.32,443.72 L1261.18,445.37 L1260.03,447.01 L1258.87,448.64 L1257.68,450.25 L1256.45,451.83 L1255.17,453.37 L1253.82,454.85 L1252.39,456.25 L1250.89,457.56 L1249.31,458.78 L1247.66,459.91 L1245.94,460.94 L1244.17,461.86 L1242.35,462.68 L1240.48,463.39 L1238.58,464.01 L1236.64,464.52 L1234.69,464.93 L1232.71,465.22 L1230.72,465.39 L1228.72,465.42 L1226.73,465.29 L1224.75,465.04 L1222.78,464.68 L1220.83,464.25 L1218.88,463.77 L1216.95,463.26 L1215.02,462.7 L1213.12,462.09 L1211.23,461.42 L1209.36,460.72 L1207.49,459.99 L1205.63,459.25 L1203.78,458.48 L1201.94,457.69 L1200.12,456.87 L1198.3,456.03 L1196.49,455.18 L1194.68,454.32 L1192.87,453.45 L1191.07,452.58 L1189.27,451.71 L1187.47,450.83 L1185.66,449.96 L1183.86,449.1 L1182.05,448.24 L1180.24,447.38 L1178.43,446.53 L1176.61,445.7 L1174.78,444.87 L1172.95,444.06 L1171.12,443.26 L1169.27,442.47 L1167.42,441.71 L1165.56,440.97 L1163.69,440.26 L1161.81,439.57 L1159.92,438.92 L1158.02,438.29 L1156.11,437.69 L1154.19,437.12 L1152.26,436.57 L1150.33,436.04 L1148.4,435.53 L1146.45,435.04 L1144.51,434.56 L1142.56,434.1 L1140.61,433.65 L1138.66,433.21 L1136.7,432.77 L1134.75,432.35 L1132.79,431.92 L1130.83,431.5 L1128.87,431.08 L1126.92,430.66 L1124.96,430.24 L1123,429.81 L1121.05,429.37 L1119.1,428.92 L1117.15,428.46 L1115.2,428 L1117.08,427.31 L1118.95,426.61 L1120.83,425.92 L1122.71,425.23 L1124.59,424.54 L1126.47,423.85 L1128.35,423.16 L1130.22,422.47 L1132.1,421.78 L1133.98,421.09 L1135.86,420.4 L1137.74,419.7 L1139.61,419.01 L1141.49,418.31 L1143.36,417.61 L1145.24,416.9 L1147.1,416.19 L1148.97,415.47 L1150.84,414.74 L1152.7,414.01 L1154.56,413.27 L1156.41,412.52 L1158.27,411.77 L1160.12,411 L1161.96,410.23 L1163.8,409.44 L1165.64,408.65 L1167.48,407.85 L1169.31,407.05 L1171.13,406.23 L1172.96,405.41 L1174.78,404.58 L1176.6,403.75 L1178.42,402.91 L1180.23,402.07 L1182.04,401.22 L1183.85,400.36 L1185.66,399.51 L1187.47,398.65 L1189.27,397.78 L1191.08,396.92 L1192.88,396.05 L1194.69,395.18 L1196.49,394.32 L1198.3,393.45 L1200.1,392.59 L1201.91,391.72 L1203.71,390.86 L1205.52,390 L1207.33,389.14 L1209.13,388.28 L1210.93,387.41 L1212.74,386.54 L1214.53,385.66 L1216.32,384.77 L1218.1,383.86 L1219.88,382.94 L1221.64,381.99 L1223.39,381.03 L1225.12,380.04 L1226.84,379.02 L1228.55,377.98 L1230.24,376.91 L1231.91,375.82 L1233.56,374.7 L1235.2,373.55 L1236.82,372.39 L1238.43,371.2 L1240.02,369.99 L1241.6,368.76 L1243.17,367.52 L1244.72,366.27 L1246.27,365 L1247.81,363.72 L1249.34,362.43 L1250.86,361.13 L1252.38,359.83 L1253.9,358.52 L1255.41,357.21 L1256.91,355.89 L1258.42,354.57 L1259.92,353.25 L1261.42,351.92 L1262.91,350.59 L1264.4,349.25 L1265.88,347.91 L1267.36,346.56 L1268.82,345.2 L1270.27,343.82 L1271.71,342.43 L1273.13,341.02 L1274.52,339.59 L1275.9,338.15 L1277.25,336.68 L1278.58,335.18 L1279.88,333.67 L1281.16,332.14 L1282.42,330.58 L1283.65,329.01 L1284.87,327.43 L1286.07,325.83 L1287.25,324.22 L1288.42,322.59 L1289.57,320.96 L1290.72,319.32 L1291.85,317.67 L1292.97,316.01 L1294.09,314.35 L1295.2,312.69 L1296.31,311.02 L1297.41,309.35 L1298.51,307.68 L1299.61,306 L1300.7,304.33 L1301.78,302.65 L1302.87,300.96 L1303.94,299.28 L1305.01,297.59 L1306.08,295.89 L1307.14,294.2 L1308.2,292.49 L1309.25,290.79 L1310.29,289.08 L1311.33,287.37 L1312.36,285.66 L1313.39,283.94 L1314.42,282.22 L1315.44,280.5 L1316.45,278.78 L1317.46,277.05 L1318.46,275.32 L1319.46,273.58 L1320.46,271.85 L1321.45,270.11 L1322.43,268.36 L1323.41,266.62 L1324.38,264.87 L1325.35,263.12 L1326.31,261.36 L1327.26,259.6 L1328.21,257.84 L1329.15,256.08 L1330.09,254.31 L1331.02,252.54 L1331.95,250.76 L1332.87,248.98 L1333.78,247.2 L1334.69,245.42 L1335.59,243.63 L1336.49,241.85 L1337.38,240.05 L1338.26,238.26 L1339.14,236.46 L1340.01,234.66 L1340.88,232.86 L1341.74,231.05 L1342.6,229.24 L1343.45,227.43 L1344.3,225.62 L1345.14,223.8 L1345.98,221.99 L1346.82,220.17 L1347.65,218.35 L1348.47,216.52 L1349.3,214.7 L1350.11,212.87 L1350.93,211.05 L1351.74,209.22 L1352.55,207.39 L1353.35,205.55 L1354.16,203.72 L1354.95,201.88 L1355.75,200.05 L1356.54,198.21 L1357.33,196.37 L1358.12,194.53 L1358.9,192.69 L1359.69,190.85 L1360.46,189 L1361.24,187.16 L1362.02,185.32 L1362.79,183.47 L1363.56,181.62 L1364.33,179.78 L1365.1,177.93 L1365.87,176.08 L1366.64,174.23 L1367.41,172.38 L1368.17,170.54 L1368.94,168.69 L1369.71,166.84 L1370.47,164.99 L1371.24,163.14 L1372.01,161.29 L1372.77,159.44 L1373.53,157.59 L1374.3,155.74 L1375.06,153.89 L1375.83,152.04 L1376.59,150.19 L1377.35,148.34 L1378.12,146.49 L1378.88,144.64 L1379.65,142.8 L1380.41,140.95 L1381.18,139.1 L1381.95,137.25 L1382.72,135.4 L1383.48,133.55 L1384.25,131.71 L1385.02,129.86 L1385.79,128.01 L1386.56,126.16 L1387.33,124.32 L1388.1,122.47 L1388.87,120.62 L1389.64,118.77 L1390.41,116.93 L1391.18,115.08 L1391.95,113.23 L1392.72,111.39 L1393.3,110 L1403.2,102.7 L1403.38,104.7 L1403.55,106.69 L1403.73,108.69 L1403.91,110.68 L1404.08,112.68 L1404.26,114.67 L1404.44,116.67 L1404.62,118.66 L1404.79,120.66 L1404.97,122.65 L1405.15,124.65 L1405.32,126.64 L1405.5,128.64 L1405.68,130.63 L1405.85,132.63 L1406.03,134.63 L1406.2,136.62 L1406.38,138.62 L1406.55,140.61 L1406.73,142.61 L1406.9,144.6 L1407.08,146.6 L1407.26,148.59 L1407.43,150.59 L1407.61,152.59 L1407.78,154.58 L1407.95,156.58 L1408.13,158.57 L1408.3,160.57 L1408.47,162.56 L1408.64,164.56 L1408.81,166.56 L1408.98,168.55 L1409.14,170.55 L1409.31,172.54 L1409.48,174.54 L1409.64,176.54 L1409.81,178.53 L1409.97,180.53 L1410.14,182.53 L1410.3,184.52 L1410.46,186.52 L1410.62,188.52 L1410.79,190.51 L1410.95,192.51 L1411.11,194.51 L1411.27,196.5 L1411.44,198.5 L1411.6,200.49 L1411.76,202.49 L1411.92,204.49 L1412.08,206.48 L1412.24,208.48 L1412.4,210.48 L1412.57,212.47 L1412.73,214.47 L1412.89,216.47 L1413.05,218.47 L1413.21,220.46 L1413.37,222.46 L1413.53,224.46 L1413.69,226.45 L1413.85,228.45 L1414.01,230.45 L1414.17,232.44 L1414.33,234.44 L1414.49,236.44 L1414.65,238.43 L1414.81,240.43 L1414.97,242.43 L1415.13,244.42 L1415.29,246.42 L1415.46,248.42 L1415.62,250.41 L1415.78,252.41 L1415.94,254.41 L1416.1,256.4 L1416.26,258.4 L1416.42,260.4 L1416.58,262.39 L1416.74,264.39 L1416.9,266.39 L1417.06,268.38 L1417.22,270.38 L1417.38,272.38 L1417.54,274.37 L1417.71,276.37 L1417.87,278.37 L1418.03,280.36 L1418.19,282.36 L1418.35,284.36 L1418.52,286.35 L1418.68,288.35 L1418.84,290.35 L1419,292.34 L1419.17,294.34 L1419.33,296.34 L1419.49,298.33 L1419.66,300.33 L1419.82,302.33 L1419.98,304.32 L1420.14,306.32 L1420.31,308.31 L1420.47,310.31 L1420.63,312.31 L1420.8,314.3 L1420.96,316.3 L1421,316.8 L1422.38,318.25 L1423.78,319.68 L1425.22,321.06 L1426.72,322.37 L1428.29,323.58 L1429.93,324.68 L1431.65,325.68 L1433.43,326.57 L1435.26,327.38 L1437.12,328.11 L1439,328.77 L1440.91,329.38 L1442.83,329.93 L1444.77,330.45 L1446.71,330.92 L1448.66,331.36 L1450.63,331.77 L1452.59,332.14 L1454.56,332.49 L1456.54,332.82 L1458.52,333.12 L1460.5,333.41 L1462.49,333.68 L1464.48,333.93 L1466.46,334.17 L1468.45,334.4 L1470.45,334.62 L1472.44,334.83 L1474.43,335.02 L1476.43,335.21 L1478.42,335.39 L1480.42,335.55 L1482.42,335.71 L1484.41,335.85 L1486.41,335.99 L1488.41,336.11 L1490.41,336.23 L1492.41,336.35 L1494.41,336.45 L1496.41,336.56 L1498.42,336.65 L1500.42,336.74 L1502.42,336.83 L1504.42,336.92 L1506.42,337 L1508.42,337.07 L1510.43,337.15 L1512.43,337.22 L1514.43,337.29 L1516.43,337.35 L1518.44,337.42 L1520.44,337.48 L1522.44,337.54 L1524.44,337.59 L1526.45,337.65 L1528.45,337.7 L1530.45,337.76 L1532.46,337.81 L1534.46,337.86 L1536.46,337.9 L1538.46,337.95 L1540.47,338 L1542.47,338.04 L1544.47,338.09 L1546.48,338.13 L1548.48,338.17 L1550.48,338.21 L1552.49,338.25 L1554.49,338.29 L1556.49,338.33 L1558.49,338.37 L1560.5,338.41 L1562.5,338.45 L1564.5,338.49 L1566.51,338.53 L1568.51,338.56 L1570.51,338.6 L1572.52,338.64 L1574.52,338.68 L1576.52,338.71 L1578.53,338.75 L1580.53,338.79 L1582.53,338.83 L1584.54,338.87 L1586.54,338.9 L1588.54,338.94 L1590.54,338.98 L1592.55,339.02 L1594.55,339.06 L1596.55,339.1 L1598.56,339.14 L1600.56,339.19 L1602.56,339.23 L1604.57,339.27 L1606.57,339.32 L1608.57,339.37 L1610.58,339.41 L1612.58,339.46 L1614.58,339.51 L1616.58,339.56 L1618.59,339.61 L1620.59,339.67 L1622.59,339.72 L1624.59,339.78 L1626.6,339.84 L1628.6,339.9" fill="none" stroke="#37AD6B" stroke-width="3" stroke-linejoin="round" stroke-linecap="round"/>
<path d="M1619.3,342.7 L1617.3,342.71 L1615.3,342.71 L1613.29,342.72 L1611.29,342.73 L1609.29,342.73 L1607.29,342.74 L1605.29,342.75 L1603.28,342.75 L1601.28,342.76 L1599.28,342.76 L1597.28,342.77 L1595.28,342.78 L1593.27,342.78 L1591.27,342.79 L1589.27,342.79 L1587.27,342.8 L1585.27,342.81 L1583.26,342.81 L1581.26,342.82 L1579.26,342.82 L1577.26,342.83 L1575.26,342.83 L1573.25,342.84 L1571.25,342.85 L1569.25,342.85 L1567.25,342.86 L1565.25,342.86 L1563.24,342.87 L1561.24,342.88 L1559.24,342.88 L1557.24,342.89 L1555.24,342.89 L1553.23,342.9 L1551.23,342.91 L1549.23,342.91 L1547.23,342.92 L1545.23,342.93 L1543.22,342.93 L1541.22,342.94 L1539.22,342.95 L1537.22,342.95 L1535.22,342.96 L1533.21,342.97 L1531.21,342.97 L1529.21,342.98 L1527.21,342.99 L1525.21,342.99 L1523.2,343 L1521.2,343.01 L1519.2,343.02 L1517.2,343.03 L1515.2,343.03 L1513.19,343.04 L1511.19,343.05 L1509.19,343.06 L1507.19,343.07 L1505.19,343.08 L1503.18,343.09 L1501.18,343.09 L1499.18,343.1 L1497.18,343.11 L1495.18,343.12 L1493.17,343.13 L1491.17,343.14 L1489.17,343.16 L1487.17,343.17 L1485.17,343.18 L1483.17,343.19 L1481.16,343.2 L1479.16,343.21 L1477.16,343.22 L1475.16,343.24 L1473.16,343.25 L1471.15,343.26 L1469.15,343.27 L1467.15,343.29 L1465.15,343.3 L1463.15,343.31 L1461.14,343.32 L1459.14,343.34 L1457.14,343.35 L1455.14,343.36 L1453.14,343.38 L1451.13,343.39 L1449.13,343.41 L1447.13,343.42 L1445.13,343.43 L1443.13,343.45 L1441.12,343.46 L1439.12,343.47 L1437.12,343.49 L1435.12,343.5 L1433.12,343.51 L1431.11,343.53 L1429.11,343.54 L1427.11,343.55 L1425.11,343.57 L1423.11,343.58 L1421.1,343.59 L1419.1,343.61 L1417.1,343.62 L1415.1,343.63 L1413.1,343.64 L1411.09,343.66 L1409.09,343.67 L1407.09,343.68 L1405.09,343.7 L1403.09,343.71 L1401.08,343.72 L1399.08,343.74 L1397.08,343.75 L1395.08,343.76 L1393.08,343.78 L1391.08,343.79 L1389.07,343.8 L1387.07,343.81 L1385.07,343.83 L1383.07,343.84 L1381.07,343.85 L1379.06,343.87 L1377.06,343.88 L1375.06,343.89 L1373.06,343.91 L1371.06,343.92 L1369.05,343.93 L1367.05,343.95 L1365.05,343.96 L1363.05,343.97 L1361.05,343.99 L1359.04,344 L1357.04,344.01 L1355.04,344.03 L1353.04,344.04 L1351.04,344.05 L1349.03,344.07 L1347.03,344.08 L1345.03,344.09 L1343.03,344.11 L1341.03,344.12 L1339.02,344.13 L1337.02,344.15 L1335.02,344.16 L1333.02,344.17 L1331.02,344.19 L1329.01,344.2 L1327.01,344.21 L1325.01,344.23 L1323.01,344.24 L1321.01,344.25 L1319,344.27 L1317,344.28 L1315,344.29 L1314,344.3 L1303,350.5 L1302.28,352.37 L1301.56,354.23 L1300.85,356.1 L1300.18,357.99 L1299.59,359.89 L1299.1,361.83 L1298.69,363.79 L1298.33,365.75 L1297.96,367.72 L1297.53,369.67 L1297.02,371.6 L1296.44,373.51 L1295.8,375.41 L1295.11,377.29 L1294.4,379.16 L1293.67,381.02 L1292.92,382.87 L1292.15,384.72 L1291.38,386.56 L1290.6,388.4 L1289.81,390.24 L1289.01,392.08 L1288.21,393.91 L1287.4,395.74 L1286.59,397.57 L1285.78,399.4 L1284.97,401.23 L1284.16,403.06 L1283.36,404.89 L1282.55,406.72 L1281.75,408.55 L1280.95,410.38 L1280.16,412.22 L1279.37,414.06 L1278.57,415.89 L1277.78,417.73 L1276.98,419.56 L1276.18,421.39 L1275.37,423.22 L1274.54,425.05 L1273.71,426.86 L1272.87,428.68 L1272.01,430.48 L1271.13,432.28 L1270.23,434.07 L1269.31,435.84 L1268.37,437.61 L1267.41,439.36 L1266.43,441.1 L1265.43,442.84 L1264.42,444.56 L1263.38,446.27 L1262.33,447.97 L1261.26,449.66 L1260.16,451.34 L1259.05,453 L1257.91,454.64 L1256.76,456.28 L1255.59,457.9 L1254.4,459.51 L1253.17,461.09 L1251.91,462.64 L1250.6,464.15 L1249.23,465.61 L1247.81,467.01 L1246.34,468.37 L1244.82,469.66 L1243.25,470.89 L1241.61,472.03 L1239.91,473.07 L1238.14,473.99 L1236.31,474.78 L1234.43,475.45 L1232.51,476.01 L1230.56,476.45 L1228.59,476.78 L1226.61,476.99 L1224.61,477.06 L1222.62,476.99 L1220.63,476.82 L1218.64,476.57 L1216.67,476.28 L1214.69,475.95 L1212.73,475.57 L1210.78,475.13 L1208.86,474.59 L1206.96,473.98 L1205.08,473.28 L1203.24,472.5 L1201.43,471.65 L1199.66,470.74 L1197.9,469.78 L1196.16,468.8 L1194.43,467.79 L1192.71,466.77 L1191,465.73 L1189.29,464.69 L1187.59,463.65 L1185.88,462.6 L1184.17,461.56 L1182.47,460.52 L1180.75,459.49 L1179.04,458.46 L1177.31,457.45 L1175.58,456.45 L1173.84,455.46 L1172.09,454.49 L1170.32,453.55 L1168.55,452.63 L1166.76,451.74 L1164.95,450.89 L1163.12,450.08 L1161.27,449.31 L1159.41,448.6 L1157.52,447.92 L1155.63,447.28 L1153.72,446.68 L1151.81,446.11 L1149.88,445.57 L1147.95,445.06 L1146.01,444.57 L1144.06,444.1 L1142.11,443.65 L1140.16,443.22 L1138.2,442.81 L1136.24,442.4 L1134.28,442.01 L1132.32,441.61 L1130.36,441.23 L1128.4,440.84 L1126.44,440.44 L1124.48,440.05 L1122.52,439.64 L1120.56,439.22 L1118.61,438.79 L1116.66,438.34 L1115.2,438 L1117.03,437.2 L1118.87,436.4 L1120.7,435.6 L1122.54,434.8 L1124.37,434.01 L1126.21,433.21 L1128.04,432.42 L1129.88,431.62 L1131.72,430.83 L1133.55,430.03 L1135.39,429.23 L1137.22,428.44 L1139.06,427.64 L1140.89,426.83 L1142.72,426.03 L1144.55,425.22 L1146.38,424.4 L1148.2,423.58 L1150.03,422.76 L1151.85,421.93 L1153.66,421.09 L1155.48,420.25 L1157.29,419.4 L1159.1,418.54 L1160.9,417.67 L1162.7,416.8 L1164.49,415.92 L1166.29,415.03 L1168.08,414.13 L1169.86,413.23 L1171.64,412.32 L1173.42,411.41 L1175.2,410.49 L1176.97,409.56 L1178.74,408.63 L1180.51,407.7 L1182.28,406.76 L1184.05,405.82 L1185.81,404.87 L1187.57,403.93 L1189.34,402.98 L1191.1,402.03 L1192.86,401.08 L1194.62,400.13 L1196.38,399.19 L1198.15,398.24 L1199.91,397.3 L1201.68,396.37 L1203.45,395.43 L1205.22,394.5 L1206.99,393.57 L1208.77,392.65 L1210.54,391.72 L1212.31,390.78 L1214.07,389.84 L1215.83,388.89 L1217.58,387.92 L1219.32,386.94 L1221.05,385.94 L1222.76,384.91 L1224.46,383.86 L1226.14,382.78 L1227.8,381.68 L1229.45,380.54 L1231.07,379.38 L1232.67,378.19 L1234.25,376.97 L1235.81,375.73 L1237.35,374.46 L1238.88,373.17 L1240.39,371.86 L1241.88,370.53 L1243.37,369.19 L1244.84,367.84 L1246.3,366.47 L1247.75,365.09 L1249.2,363.71 L1250.64,362.32 L1252.07,360.93 L1253.51,359.54 L1254.94,358.14 L1256.38,356.75 L1257.81,355.36 L1259.25,353.96 L1260.69,352.58 L1262.13,351.19 L1263.58,349.8 L1265.02,348.42 L1266.46,347.03 L1267.89,345.63 L1269.31,344.23 L1270.73,342.81 L1272.13,341.39 L1273.51,339.94 L1274.87,338.48 L1276.21,337 L1277.53,335.5 L1278.83,333.99 L1280.11,332.45 L1281.37,330.9 L1282.61,329.33 L1283.83,327.75 L1285.03,326.15 L1286.22,324.54 L1287.39,322.93 L1288.55,321.3 L1289.7,319.66 L1290.84,318.02 L1291.97,316.36 L1293.09,314.71 L1294.2,313.04 L1295.3,311.37 L1296.4,309.7 L1297.48,308.02 L1298.56,306.33 L1299.62,304.64 L1300.68,302.94 L1301.73,301.24 L1302.77,299.53 L1303.8,297.81 L1304.82,296.09 L1305.83,294.37 L1306.83,292.64 L1307.83,290.9 L1308.82,289.16 L1309.8,287.42 L1310.78,285.67 L1311.76,283.93 L1312.73,282.18 L1313.7,280.43 L1314.67,278.68 L1315.63,276.92 L1316.59,275.17 L1317.56,273.42 L1318.52,271.66 L1319.47,269.9 L1320.43,268.15 L1321.38,266.39 L1322.33,264.62 L1323.28,262.86 L1324.22,261.1 L1325.16,259.33 L1326.1,257.57 L1327.04,255.8 L1327.97,254.03 L1328.91,252.26 L1329.84,250.49 L1330.77,248.72 L1331.7,246.94 L1332.62,245.17 L1333.54,243.39 L1334.46,241.62 L1335.38,239.84 L1336.29,238.06 L1337.19,236.27 L1338.08,234.48 L1338.96,232.68 L1339.83,230.88 L1340.69,229.08 L1341.54,227.27 L1342.38,225.45 L1343.2,223.63 L1344.01,221.8 L1344.81,219.96 L1345.6,218.13 L1346.38,216.29 L1347.16,214.44 L1347.93,212.59 L1348.69,210.75 L1349.46,208.9 L1350.22,207.05 L1350.98,205.2 L1351.74,203.35 L1352.51,201.5 L1353.28,199.65 L1354.04,197.8 L1354.81,195.96 L1355.59,194.11 L1356.36,192.26 L1357.13,190.42 L1357.91,188.57 L1358.68,186.73 L1359.45,184.88 L1360.22,183.04 L1360.99,181.19 L1361.75,179.34 L1362.52,177.49 L1363.27,175.64 L1364.03,173.78 L1364.78,171.93 L1365.52,170.07 L1366.26,168.21 L1367,166.35 L1367.73,164.49 L1368.45,162.63 L1369.18,160.76 L1369.9,158.89 L1370.61,157.03 L1371.33,155.16 L1372.04,153.29 L1372.75,151.42 L1373.46,149.55 L1374.17,147.68 L1374.88,145.81 L1375.59,143.93 L1376.3,142.06 L1377.01,140.19 L1377.72,138.32 L1378.42,136.45 L1379.13,134.58 L1379.83,132.7 L1380.54,130.83 L1381.24,128.96 L1381.95,127.09 L1382.67,125.22 L1383.39,123.35 L1384.12,121.49 L1384.86,119.63 L1385.62,117.78 L1386.39,115.94 L1387.17,114.1 L1387.98,112.27 L1388.8,110.45 L1389.64,108.63 L1390.5,106.83 L1391.38,105.03 L1392.28,103.25 L1393.19,101.47 L1394.11,99.69 L1395.05,97.92 L1395.99,96.16 L1396.95,94.4 L1397.9,92.65 L1398.86,90.89 L1399.83,89.14 L1400.79,87.38 L1401.75,85.63 L1402.72,83.88 L1403.2,83 L1411.6,98.3 L1411.7,100.3 L1411.81,102.3 L1411.91,104.3 L1412.01,106.3 L1412.12,108.3 L1412.22,110.3 L1412.33,112.3 L1412.43,114.3 L1412.54,116.3 L1412.64,118.3 L1412.75,120.3 L1412.85,122.3 L1412.95,124.3 L1413.06,126.29 L1413.15,128.29 L1413.25,130.29 L1413.35,132.29 L1413.44,134.29 L1413.53,136.3 L1413.62,138.3 L1413.7,140.3 L1413.78,142.3 L1413.85,144.3 L1413.92,146.3 L1413.99,148.3 L1414.05,150.3 L1414.11,152.3 L1414.16,154.3 L1414.22,156.31 L1414.28,158.31 L1414.35,160.31 L1414.41,162.31 L1414.48,164.31 L1414.56,166.31 L1414.64,168.31 L1414.72,170.31 L1414.81,172.31 L1414.9,174.31 L1414.99,176.31 L1415.09,178.31 L1415.19,180.31 L1415.29,182.31 L1415.39,184.31 L1415.49,186.31 L1415.6,188.31 L1415.7,190.31 L1415.81,192.31 L1415.91,194.31 L1416.02,196.31 L1416.13,198.31 L1416.23,200.31 L1416.34,202.31 L1416.45,204.31 L1416.56,206.31 L1416.67,208.31 L1416.78,210.31 L1416.89,212.31 L1417,214.31 L1417.11,216.31 L1417.22,218.3 L1417.33,220.3 L1417.44,222.3 L1417.55,224.3 L1417.66,226.3 L1417.77,228.3 L1417.88,230.3 L1417.99,232.3 L1418.1,234.3 L1418.21,236.3 L1418.32,238.3 L1418.43,240.3 L1418.54,242.3 L1418.65,244.3 L1418.76,246.29 L1418.87,248.29 L1418.98,250.29 L1419.09,252.29 L1419.2,254.29 L1419.31,256.29 L1419.42,258.29 L1419.52,260.29 L1419.63,262.29 L1419.73,264.29 L1419.84,266.29 L1419.94,268.29 L1420.04,270.29 L1420.14,272.29 L1420.23,274.29 L1420.33,276.29 L1420.42,278.29 L1420.5,280.29 L1420.58,282.29 L1420.65,284.29 L1420.72,286.29 L1420.78,288.29 L1420.84,290.3 L1420.89,292.3 L1420.95,294.3 L1421,296.3 L1429.7,319.8 L1431.43,320.81 L1433.15,321.82 L1434.9,322.8 L1436.66,323.74 L1438.45,324.62 L1440.27,325.43 L1442.12,326.18 L1443.99,326.87 L1445.88,327.5 L1447.79,328.1 L1449.71,328.66 L1451.64,329.18 L1453.58,329.67 L1455.53,330.14 L1457.48,330.58 L1459.43,330.99 L1461.39,331.39 L1463.36,331.76 L1465.33,332.11 L1467.3,332.44 L1469.28,332.75 L1471.26,333.05 L1473.24,333.33 L1475.22,333.59 L1477.2,333.84 L1479.19,334.07 L1481.18,334.29 L1483.17,334.49 L1485.16,334.68 L1487.15,334.85 L1489.15,335.02 L1491.14,335.17 L1493.14,335.32 L1495.13,335.46 L1497.13,335.59 L1499.13,335.71 L1501.12,335.83 L1503.12,335.94 L1505.12,336.05 L1507.12,336.15 L1509.11,336.25 L1511.11,336.35 L1513.11,336.44 L1515.11,336.52 L1517.11,336.6 L1519.11,336.68 L1521.11,336.76 L1523.11,336.83 L1525.11,336.91 L1527.11,336.97 L1529.11,337.04 L1531.1,337.1 L1533.1,337.17 L1535.1,337.23 L1537.1,337.29 L1539.1,337.34 L1541.1,337.4 L1543.1,337.45 L1545.1,337.51 L1547.1,337.56 L1549.1,337.61 L1551.1,337.66 L1553.1,337.71 L1555.1,337.76 L1557.1,337.8 L1559.1,337.85 L1561.1,337.9 L1563.1,337.94 L1565.1,337.99 L1567.1,338.03 L1569.1,338.08 L1571.1,338.12 L1573.1,338.17 L1575.1,338.21 L1577.1,338.26 L1579.1,338.3 L1581.1,338.35 L1583.11,338.39 L1585.11,338.44 L1587.11,338.48 L1589.11,338.53 L1591.11,338.58 L1593.11,338.63 L1595.11,338.68 L1597.11,338.73 L1599.11,338.78 L1601.11,338.83 L1603.11,338.88 L1605.11,338.93 L1607.11,338.99 L1609.1,339.05 L1611.1,339.11 L1613.1,339.17 L1615.1,339.23 L1617.1,339.29 L1619.1,339.36 L1621.1,339.43 L1623.1,339.5 L1625.1,339.57 L1627.1,339.64 L1628.6,339.7" fill="none" stroke="#B177DE" stroke-width="3" stroke-linejoin="round" stroke-linecap="round"/>
<path d="M1619.3,342.7 L1617.3,342.71 L1615.3,342.71 L1613.29,342.72 L1611.29,342.73 L1609.29,342.73 L1607.29,342.74 L1605.29,342.75 L1603.28,342.75 L1601.28,342.76 L1599.28,342.76 L1597.28,342.77 L1595.28,342.78 L1593.27,342.78 L1591.27,342.79 L1589.27,342.79 L1587.27,342.8 L1585.27,342.81 L1583.26,342.81 L1581.26,342.82 L1579.26,342.82 L1577.26,342.83 L1575.26,342.83 L1573.25,342.84 L1571.25,342.85 L1569.25,342.85 L1567.25,342.86 L1565.25,342.86 L1563.24,342.87 L1561.24,342.88 L1559.24,342.88 L1557.24,342.89 L1555.24,342.89 L1553.23,342.9 L1551.23,342.91 L1549.23,342.91 L1547.23,342.92 L1545.23,342.93 L1543.22,342.93 L1541.22,342.94 L1539.22,342.95 L1537.22,342.95 L1535.22,342.96 L1533.21,342.97 L1531.21,342.97 L1529.21,342.98 L1527.21,342.99 L1525.21,342.99 L1523.2,343 L1521.2,343.01 L1519.2,343.02 L1517.2,343.03 L1515.2,343.03 L1513.19,343.04 L1511.19,343.05 L1509.19,343.06 L1507.19,343.07 L1505.19,343.08 L1503.18,343.09 L1501.18,343.09 L1499.18,343.1 L1497.18,343.11 L1495.18,343.12 L1493.17,343.13 L1491.17,343.14 L1489.17,343.16 L1487.17,343.17 L1485.17,343.18 L1483.17,343.19 L1481.16,343.2 L1479.16,343.21 L1477.16,343.22 L1475.16,343.24 L1473.16,343.25 L1471.15,343.26 L1469.15,343.27 L1467.15,343.29 L1465.15,343.3 L1463.15,343.31 L1461.14,343.32 L1459.14,343.34 L1457.14,343.35 L1455.14,343.36 L1453.14,343.38 L1451.13,343.39 L1449.13,343.41 L1447.13,343.42 L1445.13,343.43 L1443.13,343.45 L1441.12,343.46 L1439.12,343.47 L1437.12,343.49 L1435.12,343.5 L1433.12,343.51 L1431.11,343.53 L1429.11,343.54 L1427.11,343.55 L1425.11,343.57 L1423.11,343.58 L1421.1,343.59 L1419.1,343.61 L1417.1,343.62 L1415.1,343.63 L1413.1,343.64 L1411.09,343.66 L1409.09,343.67 L1407.09,343.68 L1405.09,343.7 L1403.09,343.71 L1401.08,343.72 L1399.08,343.74 L1397.08,343.75 L1395.08,343.76 L1393.08,343.78 L1391.08,343.79 L1389.07,343.8 L1387.07,343.81 L1385.07,343.83 L1383.07,343.84 L1381.07,343.85 L1379.06,343.87 L1377.06,343.88 L1375.06,343.89 L1373.06,343.91 L1371.06,343.92 L1369.05,343.93 L1367.05,343.95 L1365.05,343.96 L1363.05,343.97 L1361.05,343.99 L1359.04,344 L1357.04,344.01 L1355.04,344.03 L1353.04,344.04 L1351.04,344.05 L1349.03,344.07 L1347.03,344.08 L1345.03,344.09 L1343.03,344.11 L1341.03,344.12 L1339.02,344.13 L1337.02,344.15 L1335.02,344.16 L1333.02,344.17 L1331.02,344.19 L1329.01,344.2 L1327.01,344.21 L1325.01,344.23 L1323.01,344.24 L1321.01,344.25 L1319,344.27 L1317,344.28 L1315,344.29 L1314,344.3 L1303,350.5 L1302.26,352.36 L1301.52,354.22 L1300.8,356.08 L1300.15,357.97 L1299.61,359.89 L1299.2,361.84 L1298.92,363.82 L1298.71,365.81 L1298.52,367.8 L1298.31,369.79 L1298.03,371.77 L1297.67,373.73 L1297.22,375.68 L1296.7,377.61 L1296.13,379.53 L1295.53,381.44 L1294.9,383.34 L1294.25,385.23 L1293.58,387.11 L1292.9,388.99 L1292.2,390.87 L1291.48,392.73 L1290.76,394.6 L1290.03,396.46 L1289.29,398.32 L1288.55,400.18 L1287.8,402.03 L1287.05,403.89 L1286.29,405.74 L1285.52,407.58 L1284.74,409.43 L1283.95,411.27 L1283.15,413.1 L1282.35,414.93 L1281.53,416.76 L1280.71,418.58 L1279.87,420.4 L1279.03,422.21 L1278.18,424.02 L1277.32,425.83 L1276.45,427.63 L1275.58,429.43 L1274.69,431.22 L1273.8,433.01 L1272.89,434.8 L1271.97,436.57 L1271.05,438.35 L1270.11,440.12 L1269.16,441.88 L1268.2,443.63 L1267.22,445.38 L1266.23,447.11 L1265.22,448.84 L1264.2,450.56 L1263.15,452.26 L1262.08,453.95 L1261,455.64 L1259.9,457.31 L1258.79,458.97 L1257.65,460.61 L1256.48,462.24 L1255.28,463.84 L1254.04,465.4 L1252.74,466.93 L1251.4,468.41 L1250.01,469.85 L1248.58,471.24 L1247.1,472.58 L1245.57,473.87 L1243.98,475.09 L1242.36,476.25 L1240.69,477.35 L1238.98,478.4 L1237.25,479.38 L1235.47,480.3 L1233.66,481.14 L1231.8,481.87 L1229.9,482.5 L1227.97,483 L1226.01,483.38 L1224.03,483.65 L1222.04,483.81 L1220.05,483.85 L1218.05,483.79 L1216.06,483.62 L1214.08,483.34 L1212.13,482.94 L1210.19,482.44 L1208.28,481.85 L1206.4,481.19 L1204.53,480.48 L1202.69,479.7 L1200.87,478.86 L1199.08,477.98 L1197.3,477.06 L1195.54,476.11 L1193.79,475.15 L1192.04,474.17 L1190.3,473.18 L1188.56,472.19 L1186.83,471.2 L1185.09,470.2 L1183.36,469.21 L1181.62,468.22 L1179.87,467.24 L1178.13,466.27 L1176.37,465.3 L1174.61,464.35 L1172.85,463.41 L1171.07,462.5 L1169.28,461.6 L1167.48,460.73 L1165.67,459.88 L1163.84,459.07 L1161.99,458.3 L1160.13,457.57 L1158.26,456.87 L1156.37,456.21 L1154.47,455.58 L1152.57,454.97 L1150.65,454.39 L1148.73,453.84 L1146.8,453.3 L1144.87,452.79 L1142.93,452.29 L1140.99,451.81 L1139.05,451.34 L1137.1,450.88 L1135.15,450.42 L1133.2,449.98 L1131.25,449.53 L1129.3,449.09 L1127.35,448.65 L1125.4,448.2 L1123.45,447.74 L1121.51,447.28 L1119.56,446.81 L1117.62,446.32 L1115.68,445.82 L1115.2,445.7 L1117,444.83 L1118.81,443.97 L1120.61,443.1 L1122.42,442.24 L1124.22,441.37 L1126.03,440.51 L1127.83,439.65 L1129.64,438.79 L1131.44,437.93 L1133.25,437.06 L1135.06,436.2 L1136.86,435.34 L1138.67,434.47 L1140.47,433.6 L1142.27,432.73 L1144.07,431.86 L1145.87,430.98 L1147.66,430.1 L1149.46,429.21 L1151.25,428.32 L1153.04,427.42 L1154.82,426.52 L1156.6,425.61 L1158.38,424.69 L1160.16,423.77 L1161.93,422.83 L1163.69,421.9 L1165.46,420.95 L1167.22,420 L1168.98,419.05 L1170.73,418.08 L1172.48,417.12 L1174.23,416.14 L1175.98,415.17 L1177.72,414.19 L1179.46,413.2 L1181.2,412.21 L1182.94,411.22 L1184.67,410.22 L1186.41,409.22 L1188.14,408.22 L1189.87,407.22 L1191.6,406.21 L1193.33,405.21 L1195.06,404.2 L1196.79,403.2 L1198.53,402.2 L1200.26,401.2 L1202,400.21 L1203.74,399.22 L1205.47,398.23 L1207.21,397.24 L1208.95,396.25 L1210.69,395.26 L1212.43,394.26 L1214.16,393.26 L1215.88,392.25 L1217.6,391.22 L1219.3,390.17 L1220.99,389.11 L1222.66,388.02 L1224.32,386.91 L1225.96,385.77 L1227.58,384.6 L1229.18,383.4 L1230.75,382.18 L1232.31,380.92 L1233.84,379.64 L1235.35,378.33 L1236.83,377 L1238.3,375.65 L1239.76,374.28 L1241.19,372.89 L1242.61,371.48 L1244.02,370.06 L1245.42,368.63 L1246.81,367.19 L1248.19,365.74 L1249.57,364.29 L1250.94,362.84 L1252.31,361.38 L1253.68,359.92 L1255.05,358.46 L1256.42,357.01 L1257.8,355.56 L1259.18,354.11 L1260.57,352.67 L1261.96,351.23 L1263.35,349.79 L1264.75,348.36 L1266.15,346.93 L1267.54,345.49 L1268.93,344.05 L1270.3,342.6 L1271.67,341.14 L1273.03,339.67 L1274.36,338.19 L1275.69,336.69 L1276.99,335.17 L1278.28,333.65 L1279.55,332.1 L1280.81,330.55 L1282.05,328.98 L1283.27,327.4 L1284.49,325.81 L1285.69,324.21 L1286.87,322.6 L1288.05,320.98 L1289.22,319.36 L1290.37,317.72 L1291.52,316.08 L1292.65,314.44 L1293.78,312.78 L1294.89,311.12 L1295.99,309.45 L1297.08,307.77 L1298.16,306.09 L1299.23,304.4 L1300.28,302.7 L1301.33,300.99 L1302.35,299.27 L1303.37,297.55 L1304.37,295.82 L1305.37,294.08 L1306.35,292.34 L1307.32,290.59 L1308.29,288.84 L1309.24,287.08 L1310.2,285.32 L1311.14,283.56 L1312.09,281.8 L1313.02,280.03 L1313.96,278.26 L1314.89,276.49 L1315.82,274.72 L1316.75,272.95 L1317.68,271.17 L1318.6,269.4 L1319.52,267.62 L1320.43,265.84 L1321.34,264.06 L1322.25,262.27 L1323.15,260.49 L1324.05,258.7 L1324.95,256.91 L1325.84,255.12 L1326.73,253.33 L1327.62,251.54 L1328.51,249.74 L1329.4,247.95 L1330.28,246.15 L1331.16,244.36 L1332.04,242.56 L1332.91,240.76 L1333.79,238.96 L1334.66,237.16 L1335.52,235.35 L1336.38,233.55 L1337.24,231.74 L1338.09,229.93 L1338.94,228.12 L1339.78,226.3 L1340.62,224.48 L1341.45,222.67 L1342.28,220.84 L1343.11,219.02 L1343.93,217.2 L1344.75,215.37 L1345.57,213.54 L1346.38,211.72 L1347.18,209.88 L1347.99,208.05 L1348.79,206.22 L1349.59,204.38 L1350.38,202.55 L1351.17,200.71 L1351.95,198.87 L1352.74,197.03 L1353.52,195.18 L1354.3,193.34 L1355.07,191.49 L1355.84,189.65 L1356.61,187.8 L1357.37,185.95 L1358.13,184.1 L1358.89,182.25 L1359.64,180.39 L1360.38,178.53 L1361.13,176.68 L1361.86,174.82 L1362.6,172.95 L1363.33,171.09 L1364.05,169.23 L1364.77,167.36 L1365.48,165.49 L1366.18,163.62 L1366.89,161.74 L1367.58,159.87 L1368.28,157.99 L1368.97,156.11 L1369.66,154.23 L1370.34,152.35 L1371.02,150.47 L1371.7,148.59 L1372.38,146.71 L1373.06,144.82 L1373.73,142.94 L1374.41,141.06 L1375.08,139.17 L1375.75,137.29 L1376.42,135.4 L1377.09,133.51 L1377.76,131.63 L1378.42,129.74 L1379.09,127.85 L1379.76,125.97 L1380.43,124.08 L1381.1,122.2 L1381.77,120.31 L1382.45,118.43 L1383.13,116.55 L1383.82,114.67 L1384.52,112.79 L1385.22,110.92 L1385.92,109.05 L1386.64,107.18 L1387.35,105.31 L1388.08,103.45 L1388.81,101.58 L1389.54,99.72 L1390.28,97.86 L1391.03,96.01 L1391.78,94.15 L1392.53,92.3 L1393.29,90.44 L1394.05,88.59 L1394.82,86.75 L1395.59,84.9 L1396.37,83.06 L1397.15,81.22 L1397.94,79.38 L1398.74,77.54 L1399.55,75.71 L1400.35,73.88 L1401.17,72.05 L1401.98,70.23 L1402.8,68.4 L1411.6,66.6 L1411.75,68.6 L1411.9,70.59 L1412.05,72.59 L1412.2,74.59 L1412.35,76.58 L1412.49,78.58 L1412.63,80.58 L1412.77,82.58 L1412.91,84.57 L1413.04,86.57 L1413.17,88.57 L1413.3,90.57 L1413.43,92.56 L1413.56,94.56 L1413.69,96.56 L1413.81,98.56 L1413.94,100.56 L1414.06,102.56 L1414.18,104.56 L1414.3,106.55 L1414.41,108.55 L1414.53,110.55 L1414.64,112.55 L1414.75,114.55 L1414.85,116.55 L1414.96,118.55 L1415.06,120.55 L1415.16,122.55 L1415.26,124.55 L1415.35,126.55 L1415.45,128.55 L1415.55,130.55 L1415.64,132.55 L1415.74,134.55 L1415.83,136.55 L1415.93,138.55 L1416.02,140.55 L1416.11,142.55 L1416.2,144.55 L1416.28,146.55 L1416.36,148.55 L1416.44,150.55 L1416.52,152.55 L1416.6,154.55 L1416.69,156.55 L1416.78,158.55 L1416.87,160.55 L1416.98,162.55 L1417.09,164.55 L1417.2,166.55 L1417.32,168.55 L1417.44,170.55 L1417.57,172.55 L1417.71,174.55 L1417.84,176.54 L1417.98,178.54 L1418.12,180.54 L1418.26,182.54 L1418.4,184.53 L1418.55,186.53 L1418.7,188.53 L1418.84,190.52 L1418.99,192.52 L1419.14,194.52 L1419.29,196.51 L1419.44,198.51 L1419.59,200.51 L1419.75,202.5 L1419.9,204.5 L1420.06,206.5 L1420.21,208.49 L1420.37,210.49 L1420.53,212.48 L1420.68,214.48 L1420.84,216.48 L1421,218.47 L1421.16,220.47 L1421.32,222.46 L1421.48,224.46 L1421.64,226.46 L1421.81,228.45 L1421.97,230.45 L1422.14,232.44 L1422.3,234.44 L1422.47,236.43 L1422.63,238.43 L1422.8,240.42 L1422.97,242.42 L1423.14,244.41 L1423.31,246.41 L1423.48,248.4 L1423.65,250.4 L1423.83,252.39 L1424,254.39 L1424.18,256.38 L1424.35,258.38 L1424.53,260.37 L1424.71,262.37 L1424.89,264.36 L1425.08,266.35 L1425.26,268.35 L1425.45,270.34 L1425.64,272.33 L1425.84,274.33 L1426.03,276.32 L1426.24,278.31 L1426.44,280.3 L1426.66,282.29 L1426.88,284.28 L1427.1,286.27 L1427.34,288.26 L1427.58,290.25 L1427.83,292.24 L1428.08,294.22 L1428.34,296.21 L1428.61,298.19 L1428.88,300.18 L1429.14,302.16 L1429.41,304.15 L1429.68,306.13 L1429.94,308.11 L1430.2,310.1 L1431.17,311.85 L1432.14,313.61 L1433.13,315.35 L1434.16,317.05 L1435.26,318.71 L1436.47,320.27 L1437.81,321.72 L1439.27,323.04 L1440.85,324.21 L1442.53,325.26 L1444.29,326.19 L1446.1,327.02 L1447.95,327.76 L1449.83,328.44 L1451.74,329.06 L1453.66,329.63 L1455.59,330.14 L1457.54,330.59 L1459.5,331 L1461.47,331.35 L1463.45,331.67 L1465.43,331.96 L1467.42,332.22 L1469.41,332.46 L1471.4,332.69 L1473.39,332.91 L1475.39,333.12 L1477.38,333.31 L1479.38,333.5 L1481.38,333.67 L1483.37,333.83 L1485.37,333.98 L1487.37,334.13 L1489.37,334.26 L1491.37,334.39 L1493.37,334.52 L1495.38,334.63 L1497.38,334.75 L1499.38,334.86 L1501.38,334.96 L1503.38,335.06 L1505.39,335.16 L1507.39,335.26 L1509.39,335.35 L1511.39,335.44 L1513.4,335.53 L1515.4,335.61 L1517.4,335.69 L1519.41,335.78 L1521.41,335.86 L1523.41,335.94 L1525.42,336.01 L1527.42,336.09 L1529.42,336.16 L1531.43,336.23 L1533.43,336.31 L1535.43,336.38 L1537.44,336.45 L1539.44,336.52 L1541.44,336.58 L1543.45,336.65 L1545.45,336.72 L1547.45,336.79 L1549.46,336.85 L1551.46,336.92 L1553.46,336.98 L1555.47,337.04 L1557.47,337.11 L1559.48,337.17 L1561.48,337.23 L1563.48,337.3 L1565.49,337.36 L1567.49,337.42 L1569.49,337.48 L1571.5,337.55 L1573.5,337.61 L1575.51,337.67 L1577.51,337.73 L1579.51,337.8 L1581.52,337.86 L1583.52,337.92 L1585.52,337.98 L1587.53,338.05 L1589.53,338.11 L1591.54,338.18 L1593.54,338.24 L1595.54,338.31 L1597.55,338.37 L1599.55,338.44 L1601.55,338.5 L1603.56,338.57 L1605.56,338.64 L1607.57,338.71 L1609.57,338.78 L1611.57,338.85 L1613.58,338.92 L1615.58,338.99 L1617.58,339.07 L1619.59,339.14 L1621.59,339.22 L1623.59,339.3 L1625.6,339.38 L1627.6,339.46 L1628.6,339.5" fill="none" stroke="#CC9900" stroke-width="3" stroke-linejoin="round" stroke-linecap="round"/>
<path d="M1619.3,342.7 L1617.3,342.71 L1615.3,342.71 L1613.29,342.72 L1611.29,342.73 L1609.29,342.73 L1607.29,342.74 L1605.29,342.75 L1603.28,342.75 L1601.28,342.76 L1599.28,342.76 L1597.28,342.77 L1595.28,342.78 L1593.27,342.78 L1591.27,342.79 L1589.27,342.79 L1587.27,342.8 L1585.27,342.81 L1583.26,342.81 L1581.26,342.82 L1579.26,342.82 L1577.26,342.83 L1575.26,342.83 L1573.25,342.84 L1571.25,342.85 L1569.25,342.85 L1567.25,342.86 L1565.25,342.86 L1563.24,342.87 L1561.24,342.88 L1559.24,342.88 L1557.24,342.89 L1555.24,342.89 L1553.23,342.9 L1551.23,342.91 L1549.23,342.91 L1547.23,342.92 L1545.23,342.93 L1543.22,342.93 L1541.22,342.94 L1539.22,342.95 L1537.22,342.95 L1535.22,342.96 L1533.21,342.97 L1531.21,342.97 L1529.21,342.98 L1527.21,342.99 L1525.21,342.99 L1523.2,343 L1521.2,343.01 L1519.2,343.02 L1517.2,343.03 L1515.2,343.03 L1513.19,343.04 L1511.19,343.05 L1509.19,343.06 L1507.19,343.07 L1505.19,343.08 L1503.18,343.09 L1501.18,343.09 L1499.18,343.1 L1497.18,343.11 L1495.18,343.12 L1493.17,343.13 L1491.17,343.14 L1489.17,343.16 L1487.17,343.17 L1485.17,343.18 L1483.17,343.19 L1481.16,343.2 L1479.16,343.21 L1477.16,343.22 L1475.16,343.24 L1473.16,343.25 L1471.15,343.26 L1469.15,343.27 L1467.15,343.29 L1465.15,343.3 L1463.15,343.31 L1461.14,343.32 L1459.14,343.34 L1457.14,343.35 L1455.14,343.36 L1453.14,343.38 L1451.13,343.39 L1449.13,343.41 L1447.13,343.42 L1445.13,343.43 L1443.13,343.45 L1441.12,343.46 L1439.12,343.47 L1437.12,343.49 L1435.12,343.5 L1433.12,343.51 L1431.11,343.53 L1429.11,343.54 L1427.11,343.55 L1425.11,343.57 L1423.11,343.58 L1421.1,343.59 L1419.1,343.61 L1417.1,343.62 L1415.1,343.63 L1413.1,343.64 L1411.09,343.66 L1409.09,343.67 L1407.09,343.68 L1405.09,343.7 L1403.09,343.71 L1401.08,343.72 L1399.08,343.74 L1397.08,343.75 L1395.08,343.76 L1393.08,343.78 L1391.08,343.79 L1389.07,343.8 L1387.07,343.81 L1385.07,343.83 L1383.07,343.84 L1381.07,343.85 L1379.06,343.87 L1377.06,343.88 L1375.06,343.89 L1373.06,343.91 L1371.06,343.92 L1369.05,343.93 L1367.05,343.95 L1365.05,343.96 L1363.05,343.97 L1361.05,343.99 L1359.04,344 L1357.04,344.01 L1355.04,344.03 L1353.04,344.04 L1351.04,344.05 L1349.03,344.07 L1347.03,344.08 L1345.03,344.09 L1343.03,344.11 L1341.03,344.12 L1339.02,344.13 L1337.02,344.15 L1335.02,344.16 L1333.02,344.17 L1331.02,344.19 L1329.01,344.2 L1327.01,344.21 L1325.01,344.23 L1323.01,344.24 L1321.01,344.25 L1319,344.27 L1317,344.28 L1315,344.29 L1314,344.3 L1303,350.5 L1302.25,352.36 L1301.49,354.21 L1300.77,356.08 L1300.13,357.97 L1299.6,359.9 L1299.2,361.85 L1298.91,363.83 L1298.7,365.82 L1298.54,367.82 L1298.4,369.82 L1298.26,371.81 L1298.12,373.81 L1297.94,375.81 L1297.72,377.8 L1297.45,379.78 L1297.11,381.75 L1296.69,383.71 L1296.2,385.65 L1295.65,387.57 L1295.05,389.48 L1294.42,391.38 L1293.75,393.27 L1293.06,395.15 L1292.34,397.02 L1291.61,398.89 L1290.87,400.74 L1290.11,402.6 L1289.35,404.45 L1288.59,406.3 L1287.83,408.16 L1287.08,410.01 L1286.33,411.87 L1285.58,413.73 L1284.83,415.58 L1284.07,417.44 L1283.3,419.29 L1282.53,421.14 L1281.75,422.98 L1280.97,424.82 L1280.17,426.66 L1279.37,428.5 L1278.56,430.32 L1277.73,432.15 L1276.89,433.97 L1276.04,435.78 L1275.18,437.59 L1274.3,439.39 L1273.4,441.18 L1272.5,442.96 L1271.58,444.74 L1270.64,446.52 L1269.7,448.28 L1268.74,450.04 L1267.77,451.79 L1266.78,453.53 L1265.78,455.27 L1264.76,456.99 L1263.73,458.71 L1262.67,460.41 L1261.6,462.1 L1260.52,463.78 L1259.41,465.46 L1258.29,467.11 L1257.14,468.75 L1255.96,470.37 L1254.74,471.96 L1253.49,473.52 L1252.2,475.05 L1250.87,476.55 L1249.51,478.01 L1248.11,479.44 L1246.66,480.83 L1245.16,482.15 L1243.6,483.41 L1241.99,484.59 L1240.33,485.7 L1238.62,486.74 L1236.87,487.72 L1235.08,488.61 L1233.25,489.42 L1231.38,490.13 L1229.47,490.72 L1227.53,491.18 L1225.56,491.51 L1223.57,491.73 L1221.58,491.86 L1219.57,491.9 L1217.57,491.89 L1215.57,491.82 L1213.57,491.7 L1211.59,491.49 L1209.61,491.17 L1207.66,490.73 L1205.74,490.18 L1203.85,489.53 L1202,488.78 L1200.18,487.94 L1198.39,487.05 L1196.61,486.12 L1194.86,485.15 L1193.12,484.17 L1191.38,483.17 L1189.66,482.15 L1187.93,481.13 L1186.21,480.11 L1184.49,479.08 L1182.77,478.05 L1181.05,477.03 L1179.32,476.01 L1177.59,475.01 L1175.86,474.01 L1174.11,473.03 L1172.36,472.06 L1170.59,471.12 L1168.82,470.19 L1167.03,469.3 L1165.22,468.43 L1163.39,467.61 L1161.55,466.83 L1159.69,466.09 L1157.81,465.39 L1155.92,464.73 L1154.02,464.09 L1152.12,463.49 L1150.2,462.91 L1148.28,462.35 L1146.35,461.82 L1144.41,461.3 L1142.47,460.8 L1140.53,460.32 L1138.58,459.85 L1136.63,459.39 L1134.68,458.94 L1132.73,458.49 L1130.78,458.04 L1128.82,457.6 L1126.87,457.15 L1124.92,456.7 L1122.97,456.24 L1121.02,455.77 L1119.08,455.29 L1117.14,454.8 L1115.2,454.3 L1116.94,453.32 L1118.69,452.33 L1120.43,451.35 L1122.17,450.37 L1123.92,449.39 L1125.66,448.4 L1127.41,447.42 L1129.15,446.44 L1130.89,445.46 L1132.64,444.48 L1134.38,443.5 L1136.13,442.51 L1137.87,441.53 L1139.61,440.55 L1141.36,439.56 L1143.1,438.58 L1144.84,437.59 L1146.58,436.61 L1148.32,435.62 L1150.06,434.63 L1151.8,433.64 L1153.54,432.65 L1155.28,431.66 L1157.02,430.66 L1158.75,429.66 L1160.49,428.67 L1162.22,427.67 L1163.96,426.67 L1165.69,425.67 L1167.42,424.66 L1169.15,423.66 L1170.88,422.66 L1172.61,421.65 L1174.34,420.64 L1176.07,419.64 L1177.8,418.63 L1179.53,417.62 L1181.25,416.6 L1182.98,415.59 L1184.7,414.57 L1186.42,413.55 L1188.15,412.53 L1189.87,411.5 L1191.58,410.48 L1193.3,409.45 L1195.02,408.42 L1196.73,407.39 L1198.45,406.36 L1200.17,405.34 L1201.89,404.31 L1203.61,403.29 L1205.33,402.27 L1207.05,401.25 L1208.77,400.23 L1210.49,399.2 L1212.21,398.17 L1213.92,397.14 L1215.62,396.09 L1217.31,395.02 L1219,393.94 L1220.66,392.84 L1222.31,391.71 L1223.94,390.56 L1225.55,389.38 L1227.14,388.17 L1228.7,386.93 L1230.24,385.66 L1231.76,384.36 L1233.25,383.03 L1234.71,381.68 L1236.16,380.3 L1237.58,378.89 L1238.98,377.47 L1240.36,376.03 L1241.73,374.57 L1243.08,373.09 L1244.41,371.6 L1245.74,370.1 L1247.05,368.6 L1248.36,367.08 L1249.66,365.56 L1250.95,364.03 L1252.24,362.5 L1253.53,360.97 L1254.81,359.43 L1256.09,357.9 L1257.37,356.36 L1258.66,354.82 L1259.94,353.28 L1261.22,351.75 L1262.5,350.21 L1263.78,348.67 L1265.05,347.12 L1266.32,345.58 L1267.58,344.02 L1268.84,342.47 L1270.1,340.91 L1271.34,339.34 L1272.58,337.77 L1273.82,336.2 L1275.05,334.62 L1276.28,333.04 L1277.5,331.46 L1278.72,329.87 L1279.94,328.28 L1281.15,326.69 L1282.36,325.1 L1283.56,323.5 L1284.76,321.89 L1285.95,320.28 L1287.14,318.67 L1288.31,317.05 L1289.47,315.42 L1290.63,313.79 L1291.77,312.15 L1292.9,310.5 L1294.01,308.83 L1295.11,307.16 L1296.2,305.48 L1297.27,303.79 L1298.32,302.09 L1299.36,300.38 L1300.38,298.66 L1301.38,296.93 L1302.38,295.2 L1303.36,293.45 L1304.32,291.7 L1305.28,289.94 L1306.23,288.18 L1307.17,286.41 L1308.1,284.64 L1309.03,282.87 L1309.95,281.09 L1310.86,279.31 L1311.77,277.53 L1312.67,275.74 L1313.57,273.95 L1314.46,272.16 L1315.35,270.37 L1316.23,268.57 L1317.1,266.77 L1317.97,264.97 L1318.84,263.16 L1319.7,261.36 L1320.57,259.55 L1321.43,257.75 L1322.29,255.94 L1323.16,254.14 L1324.03,252.33 L1324.9,250.53 L1325.77,248.73 L1326.65,246.93 L1327.54,245.14 L1328.42,243.34 L1329.31,241.55 L1330.2,239.76 L1331.09,237.96 L1331.98,236.17 L1332.86,234.38 L1333.74,232.58 L1334.62,230.78 L1335.49,228.98 L1336.36,227.17 L1337.22,225.37 L1338.08,223.56 L1338.93,221.75 L1339.78,219.94 L1340.63,218.12 L1341.46,216.31 L1342.3,214.49 L1343.13,212.66 L1343.95,210.84 L1344.78,209.02 L1345.59,207.19 L1346.41,205.36 L1347.22,203.53 L1348.02,201.7 L1348.82,199.86 L1349.62,198.03 L1350.41,196.19 L1351.2,194.35 L1351.99,192.51 L1352.77,190.67 L1353.55,188.82 L1354.32,186.98 L1355.09,185.13 L1355.85,183.28 L1356.61,181.43 L1357.36,179.57 L1358.11,177.72 L1358.85,175.86 L1359.58,174 L1360.31,172.13 L1361.03,170.26 L1361.74,168.39 L1362.45,166.52 L1363.15,164.65 L1363.84,162.77 L1364.53,160.89 L1365.21,159.01 L1365.89,157.13 L1366.56,155.24 L1367.23,153.35 L1367.9,151.47 L1368.56,149.58 L1369.22,147.69 L1369.88,145.8 L1370.53,143.91 L1371.19,142.01 L1371.84,140.12 L1372.49,138.23 L1373.14,136.34 L1373.79,134.44 L1374.43,132.55 L1375.08,130.65 L1375.72,128.76 L1376.36,126.86 L1377.01,124.97 L1377.66,123.08 L1378.31,121.18 L1378.96,119.29 L1379.62,117.4 L1380.29,115.51 L1380.96,113.63 L1381.64,111.75 L1382.32,109.87 L1383.01,107.99 L1383.71,106.11 L1384.42,104.24 L1385.13,102.37 L1385.85,100.5 L1386.58,98.64 L1387.3,96.77 L1388.04,94.91 L1388.77,93.05 L1389.51,91.19 L1390.25,89.33 L1391,87.47 L1391.75,85.62 L1392.49,83.76 L1393.25,81.9 L1394,80.05 L1394.75,78.2 L1395.51,76.34 L1396.27,74.49 L1397.03,72.64 L1397.8,70.79 L1398.56,68.94 L1399.33,67.09 L1400.09,65.24 L1400.86,63.4 L1401.63,61.55 L1402.4,59.7 L1412.3,48.4 L1412.58,50.38 L1412.86,52.37 L1413.14,54.35 L1413.42,56.33 L1413.7,58.31 L1413.98,60.3 L1414.26,62.28 L1414.54,64.26 L1414.82,66.25 L1415.1,68.23 L1415.38,70.21 L1415.67,72.19 L1415.95,74.17 L1416.24,76.16 L1416.53,78.14 L1416.83,80.12 L1417.14,82.1 L1417.45,84.08 L1417.76,86.05 L1418.09,88.03 L1418.42,90 L1418.74,91.98 L1419.07,93.95 L1419.4,95.93 L1419.71,97.91 L1420.02,99.89 L1420.32,101.87 L1420.6,103.85 L1420.86,105.83 L1421.11,107.82 L1421.34,109.81 L1421.55,111.8 L1421.74,113.79 L1421.91,115.79 L1422.07,117.78 L1422.21,119.78 L1422.35,121.78 L1422.47,123.78 L1422.58,125.78 L1422.68,127.78 L1422.78,129.78 L1422.87,131.78 L1422.95,133.78 L1423.03,135.78 L1423.11,137.78 L1423.18,139.78 L1423.24,141.78 L1423.29,143.79 L1423.33,145.79 L1423.36,147.79 L1423.39,149.79 L1423.4,151.79 L1423.42,153.8 L1423.43,155.8 L1423.45,157.8 L1423.48,159.8 L1423.51,161.81 L1423.54,163.81 L1423.59,165.81 L1423.65,167.81 L1423.71,169.81 L1423.78,171.81 L1423.86,173.82 L1423.94,175.82 L1424.03,177.82 L1424.12,179.82 L1424.22,181.82 L1424.32,183.82 L1424.42,185.82 L1424.52,187.82 L1424.62,189.82 L1424.73,191.82 L1424.84,193.82 L1424.94,195.82 L1425.05,197.82 L1425.16,199.82 L1425.27,201.81 L1425.39,203.81 L1425.5,205.81 L1425.61,207.81 L1425.73,209.81 L1425.84,211.81 L1425.95,213.81 L1426.07,215.81 L1426.19,217.81 L1426.3,219.81 L1426.42,221.81 L1426.54,223.81 L1426.65,225.81 L1426.77,227.8 L1426.89,229.8 L1427,231.8 L1427.12,233.8 L1427.24,235.8 L1427.36,237.8 L1427.48,239.8 L1427.59,241.8 L1427.71,243.8 L1427.83,245.8 L1427.94,247.8 L1428.06,249.79 L1428.18,251.79 L1428.29,253.79 L1428.41,255.79 L1428.52,257.79 L1428.64,259.79 L1428.75,261.79 L1428.86,263.79 L1428.97,265.79 L1429.08,267.79 L1429.19,269.79 L1429.29,271.79 L1429.4,273.79 L1429.5,275.79 L1429.59,277.79 L1429.68,279.79 L1429.76,281.79 L1429.84,283.79 L1429.9,285.79 L1429.97,287.79 L1430.03,289.79 L1430.08,291.8 L1430.13,293.8 L1430.19,295.8 L1430.2,296.3 L1438.9,319.3 L1440.52,320.47 L1442.15,321.62 L1443.81,322.73 L1445.51,323.76 L1447.26,324.7 L1449.06,325.54 L1450.91,326.28 L1452.79,326.93 L1454.7,327.51 L1456.63,328.03 L1458.57,328.51 L1460.52,328.95 L1462.48,329.37 L1464.44,329.76 L1466.41,330.13 L1468.38,330.48 L1470.35,330.82 L1472.32,331.15 L1474.3,331.46 L1476.27,331.77 L1478.25,332.06 L1480.24,332.33 L1482.22,332.58 L1484.21,332.83 L1486.19,333.05 L1488.18,333.26 L1490.17,333.46 L1492.17,333.65 L1494.16,333.83 L1496.15,333.99 L1498.15,334.15 L1500.14,334.3 L1502.14,334.45 L1504.14,334.59 L1506.13,334.73 L1508.13,334.86 L1510.12,334.99 L1512.12,335.11 L1514.12,335.24 L1516.12,335.36 L1518.11,335.48 L1520.11,335.6 L1522.11,335.72 L1524.11,335.83 L1526.1,335.93 L1528.1,336.04 L1530.1,336.14 L1532.1,336.23 L1534.1,336.32 L1536.1,336.41 L1538.1,336.49 L1540.1,336.57 L1542.1,336.65 L1544.1,336.73 L1546.1,336.8 L1548.09,336.87 L1550.09,336.94 L1552.09,337.01 L1554.09,337.08 L1556.09,337.14 L1558.09,337.21 L1560.09,337.27 L1562.09,337.33 L1564.09,337.39 L1566.09,337.45 L1568.09,337.5 L1570.09,337.56 L1572.09,337.62 L1574.1,337.67 L1576.1,337.73 L1578.1,337.78 L1580.1,337.84 L1582.1,337.89 L1584.1,337.94 L1586.1,338 L1588.1,338.05 L1590.1,338.1 L1592.1,338.16 L1594.1,338.21 L1596.1,338.26 L1598.1,338.31 L1600.1,338.37 L1602.1,338.42 L1604.1,338.48 L1606.1,338.53 L1608.1,338.59 L1610.1,338.64 L1612.1,338.7 L1614.1,338.76 L1616.1,338.81 L1618.1,338.87 L1620.1,338.93 L1622.1,338.99 L1624.1,339.06 L1626.1,339.12 L1628.1,339.18 L1628.6,339.2" fill="none" stroke="#00CBCC" stroke-width="3" stroke-linejoin="round" stroke-linecap="round"/>
<line x1="1067.1" y1="10.55" x2="1067.1" y2="531.9" stroke="#000" stroke-width="3.9"/>
<line x1="1707" y1="10.55" x2="1707" y2="531.9" stroke="#000" stroke-width="3.9"/>
<line x1="1065.15" y1="12.5" x2="1708.95" y2="12.5" stroke="#000" stroke-width="3.9"/>
<line x1="1065.15" y1="529.95" x2="1708.95" y2="529.95" stroke="#000" stroke-width="3.9"/>
<line x1="1092.3" y1="529.95" x2="1092.3" y2="519.8" stroke="#000" stroke-width="2.5"/>
<line x1="1188.35" y1="529.95" x2="1188.35" y2="525" stroke="#000" stroke-width="2.5"/>
<line x1="1284.4" y1="529.95" x2="1284.4" y2="519.8" stroke="#000" stroke-width="2.5"/>
<line x1="1380.45" y1="529.95" x2="1380.45" y2="525" stroke="#000" stroke-width="2.5"/>
<line x1="1476.5" y1="529.95" x2="1476.5" y2="519.8" stroke="#000" stroke-width="2.5"/>
<line x1="1572.55" y1="529.95" x2="1572.55" y2="525" stroke="#000" stroke-width="2.5"/>
<line x1="1668.6" y1="529.95" x2="1668.6" y2="519.8" stroke="#000" stroke-width="2.5"/>
<text transform="translate(1092.3,568) scale(1,1.04)" font-size="34.4" text-anchor="middle" fill="#000">-2.10</text>
<text transform="translate(1284.4,568) scale(1,1.04)" font-size="34.4" text-anchor="middle" fill="#000">-1.95</text>
<text transform="translate(1476.5,568) scale(1,1.04)" font-size="34.4" text-anchor="middle" fill="#000">-1.80</text>
<text transform="translate(1668.6,568) scale(1,1.04)" font-size="34.4" text-anchor="middle" fill="#000">-1.65</text>
<line x1="1067.1" y1="507.9" x2="1077.25" y2="507.9" stroke="#000" stroke-width="2.5"/>
<line x1="1067.1" y1="425.3" x2="1072.05" y2="425.3" stroke="#000" stroke-width="2.5"/>
<line x1="1067.1" y1="342.7" x2="1077.25" y2="342.7" stroke="#000" stroke-width="2.5"/>
<line x1="1067.1" y1="260.1" x2="1072.05" y2="260.1" stroke="#000" stroke-width="2.5"/>
<line x1="1067.1" y1="177.5" x2="1077.25" y2="177.5" stroke="#000" stroke-width="2.5"/>
<line x1="1067.1" y1="94.9" x2="1072.05" y2="94.9" stroke="#000" stroke-width="2.5"/>
<text transform="translate(1056,23.5) scale(1,1.04)" font-size="34.4" text-anchor="end" fill="#000">0.6</text>
<text transform="translate(1056,188.7) scale(1,1.04)" font-size="34.4" text-anchor="end" fill="#000">0.3</text>
<text transform="translate(1056,353.9) scale(1,1.04)" font-size="34.4" text-anchor="end" fill="#000">0.0</text>
<text transform="translate(1056,519.1) scale(1,1.04)" font-size="34.4" text-anchor="end" fill="#000">-0.3</text>
<text transform="translate(1387.1,624) scale(1,1.0)" font-size="44.4" text-anchor="middle" fill="#000"><tspan font-style="italic">E</tspan>/V vs Ag/AgCl</text>
<text transform="translate(967.4,259.7) rotate(-90)" font-size="44.4" text-anchor="middle" fill="#000"><tspan font-style="italic">j</tspan>/A cm<tspan dx="2" dy="-18.65" font-size="29.3">-2</tspan></text>
<text transform="translate(1100.5,82.8) scale(1,1.0)" font-size="58" text-anchor="start" fill="#000">b</text>
<line x1="1485.4" y1="56.6" x2="1546.8" y2="56.6" stroke="#515151" stroke-width="2.6"/>
<text transform="translate(1546.2,66.3) scale(1,1.04)" font-size="27.4" text-anchor="start" fill="#000">0.06 V s<tspan dy="-10.69" font-size="18.36">-1</tspan></text>
<line x1="1485.4" y1="93.33" x2="1546.8" y2="93.33" stroke="#F14040" stroke-width="2.6"/>
<text transform="translate(1546.2,103.03) scale(1,1.04)" font-size="27.4" text-anchor="start" fill="#000">0.10 V s<tspan dy="-10.69" font-size="18.36">-1</tspan></text>
<line x1="1485.4" y1="130.06" x2="1546.8" y2="130.06" stroke="#1A6FDF" stroke-width="2.6"/>
<text transform="translate(1546.2,139.76) scale(1,1.04)" font-size="27.4" text-anchor="start" fill="#000">0.14 V s<tspan dy="-10.69" font-size="18.36">-1</tspan></text>
<line x1="1485.4" y1="166.79" x2="1546.8" y2="166.79" stroke="#37AD6B" stroke-width="2.6"/>
<text transform="translate(1546.2,176.49) scale(1,1.04)" font-size="27.4" text-anchor="start" fill="#000">0.18 V s<tspan dy="-10.69" font-size="18.36">-1</tspan></text>
<line x1="1485.4" y1="203.52" x2="1546.8" y2="203.52" stroke="#B177DE" stroke-width="2.6"/>
<text transform="translate(1546.2,213.22) scale(1,1.04)" font-size="27.4" text-anchor="start" fill="#000">0.22 V s<tspan dy="-10.69" font-size="18.36">-1</tspan></text>
<line x1="1485.4" y1="240.25" x2="1546.8" y2="240.25" stroke="#CC9900" stroke-width="2.6"/>
<text transform="translate(1546.2,249.95) scale(1,1.04)" font-size="27.4" text-anchor="start" fill="#000">0.26 V s<tspan dy="-10.69" font-size="18.36">-1</tspan></text>
<line x1="1485.4" y1="276.98" x2="1546.8" y2="276.98" stroke="#00CBCC" stroke-width="2.6"/>
<text transform="translate(1546.2,286.68) scale(1,1.04)" font-size="27.4" text-anchor="start" fill="#000">0.30 V s<tspan dy="-10.69" font-size="18.36">-1</tspan></text>
<line x1="172.5" y1="895.4" x2="670" y2="899.8" stroke="#0000FF" stroke-width="2.4"/>
<rect x="167.32" y="883.5" width="11" height="11" fill="#0000FF"/>
<rect x="325.1" y="888.6" width="11" height="11" fill="#0000FF"/>
<rect x="429.03" y="888.6" width="11" height="11" fill="#0000FF"/>
<rect x="506.65" y="893.3" width="11" height="11" fill="#0000FF"/>
<rect x="568.63" y="893.3" width="11" height="11" fill="#0000FF"/>
<rect x="620.23" y="898.8" width="11" height="11" fill="#0000FF"/>
<rect x="664.43" y="898.8" width="11" height="11" fill="#0000FF"/>
<rect x="372.84" y="948.1" width="11.2" height="11.2" fill="#000"/>
<rect x="448.9" y="1018.6" width="11.2" height="11.2" fill="#000"/>
<rect x="510.72" y="1069.9" width="11.2" height="11.2" fill="#000"/>
<rect x="564.18" y="1106.2" width="11.2" height="11.2" fill="#000"/>
<rect x="611.96" y="1144.4" width="11.2" height="11.2" fill="#000"/>
<rect x="655.57" y="1172.9" width="11.2" height="11.2" fill="#000"/>
<rect x="695.92" y="1202.3" width="11.2" height="11.2" fill="#000"/>
<line x1="117.7" y1="751.4" x2="700.3" y2="1208.8" stroke="#FF0000" stroke-width="2.4"/>
<line x1="117.05" y1="750.95" x2="117.05" y2="1268.75" stroke="#000" stroke-width="3.9"/>
<line x1="115.1" y1="1266.8" x2="757.3" y2="1266.8" stroke="#000" stroke-width="3.9"/>
<line x1="115.1" y1="749" x2="759.25" y2="749" stroke="#0000FF" stroke-width="3.9"/>
<line x1="757.3" y1="747.05" x2="757.3" y2="1268.75" stroke="#0000FF" stroke-width="3.9"/>
<line x1="197.08" y1="1266.8" x2="197.08" y2="1261.85" stroke="#000" stroke-width="2.5"/>
<line x1="277.11" y1="1266.8" x2="277.11" y2="1256.65" stroke="#000" stroke-width="2.5"/>
<line x1="357.15" y1="1266.8" x2="357.15" y2="1261.85" stroke="#000" stroke-width="2.5"/>
<line x1="437.18" y1="1266.8" x2="437.18" y2="1256.65" stroke="#000" stroke-width="2.5"/>
<line x1="517.21" y1="1266.8" x2="517.21" y2="1261.85" stroke="#000" stroke-width="2.5"/>
<line x1="597.24" y1="1266.8" x2="597.24" y2="1256.65" stroke="#000" stroke-width="2.5"/>
<line x1="677.28" y1="1266.8" x2="677.28" y2="1261.85" stroke="#000" stroke-width="2.5"/>
<line x1="117.05" y1="813.73" x2="122" y2="813.73" stroke="#000" stroke-width="2.5"/>
<line x1="117.05" y1="878.45" x2="127.2" y2="878.45" stroke="#000" stroke-width="2.5"/>
<line x1="117.05" y1="943.18" x2="122" y2="943.18" stroke="#000" stroke-width="2.5"/>
<line x1="117.05" y1="1007.9" x2="127.2" y2="1007.9" stroke="#000" stroke-width="2.5"/>
<line x1="117.05" y1="1072.62" x2="122" y2="1072.62" stroke="#000" stroke-width="2.5"/>
<line x1="117.05" y1="1137.35" x2="127.2" y2="1137.35" stroke="#000" stroke-width="2.5"/>
<line x1="117.05" y1="1202.08" x2="122" y2="1202.08" stroke="#000" stroke-width="2.5"/>
<line x1="152.8" y1="749" x2="152.8" y2="759.15" stroke="#0000FF" stroke-width="2.5"/>
<line x1="241.7" y1="749" x2="241.7" y2="753.95" stroke="#0000FF" stroke-width="2.5"/>
<line x1="330.6" y1="749" x2="330.6" y2="759.15" stroke="#0000FF" stroke-width="2.5"/>
<line x1="419.5" y1="749" x2="419.5" y2="753.95" stroke="#0000FF" stroke-width="2.5"/>
<line x1="508.4" y1="749" x2="508.4" y2="759.15" stroke="#0000FF" stroke-width="2.5"/>
<line x1="597.3" y1="749" x2="597.3" y2="753.95" stroke="#0000FF" stroke-width="2.5"/>
<line x1="686.2" y1="749" x2="686.2" y2="759.15" stroke="#0000FF" stroke-width="2.5"/>
<line x1="757.3" y1="798.8" x2="747.15" y2="798.8" stroke="#0000FF" stroke-width="2.5"/>
<line x1="757.3" y1="852.9" x2="752.35" y2="852.9" stroke="#0000FF" stroke-width="2.5"/>
<line x1="757.3" y1="907" x2="747.15" y2="907" stroke="#0000FF" stroke-width="2.5"/>
<line x1="757.3" y1="961.1" x2="752.35" y2="961.1" stroke="#0000FF" stroke-width="2.5"/>
<line x1="757.3" y1="1015.2" x2="747.15" y2="1015.2" stroke="#0000FF" stroke-width="2.5"/>
<line x1="757.3" y1="1069.3" x2="752.35" y2="1069.3" stroke="#0000FF" stroke-width="2.5"/>
<line x1="757.3" y1="1123.4" x2="747.15" y2="1123.4" stroke="#0000FF" stroke-width="2.5"/>
<line x1="757.3" y1="1177.5" x2="752.35" y2="1177.5" stroke="#0000FF" stroke-width="2.5"/>
<line x1="757.3" y1="1231.6" x2="747.15" y2="1231.6" stroke="#0000FF" stroke-width="2.5"/>
<text transform="translate(117.05,1304.5) scale(1,1.04)" font-size="34.4" text-anchor="middle" fill="#000">0.00</text>
<text transform="translate(277.11,1304.5) scale(1,1.04)" font-size="34.4" text-anchor="middle" fill="#000">0.15</text>
<text transform="translate(437.18,1304.5) scale(1,1.04)" font-size="34.4" text-anchor="middle" fill="#000">0.30</text>
<text transform="translate(597.25,1304.5) scale(1,1.04)" font-size="34.4" text-anchor="middle" fill="#000">0.45</text>
<text transform="translate(757.31,1304.5) scale(1,1.04)" font-size="34.4" text-anchor="middle" fill="#000">0.60</text>
<text transform="translate(106,760) scale(1,1.04)" font-size="34.4" text-anchor="end" fill="#000">0.0</text>
<text transform="translate(106,889.45) scale(1,1.04)" font-size="34.4" text-anchor="end" fill="#000">-0.1</text>
<text transform="translate(106,1018.9) scale(1,1.04)" font-size="34.4" text-anchor="end" fill="#000">-0.2</text>
<text transform="translate(106,1148.35) scale(1,1.04)" font-size="34.4" text-anchor="end" fill="#000">-0.3</text>
<text transform="translate(106,1277.8) scale(1,1.04)" font-size="34.4" text-anchor="end" fill="#000">-0.4</text>
<text transform="translate(152.8,730.6) scale(1,1.04)" font-size="34.4" text-anchor="middle" fill="#0000FF">-1.25</text>
<text transform="translate(330.6,730.6) scale(1,1.04)" font-size="34.4" text-anchor="middle" fill="#0000FF">-1.00</text>
<text transform="translate(508.4,730.6) scale(1,1.04)" font-size="34.4" text-anchor="middle" fill="#0000FF">-0.75</text>
<text transform="translate(686.2,730.6) scale(1,1.04)" font-size="34.4" text-anchor="middle" fill="#0000FF">-0.50</text>
<text transform="translate(768.5,809.8) scale(1,1.04)" font-size="34.4" text-anchor="start" fill="#0000FF">-1.95</text>
<text transform="translate(768.5,918) scale(1,1.04)" font-size="34.4" text-anchor="start" fill="#0000FF">-2.10</text>
<text transform="translate(768.5,1026.2) scale(1,1.04)" font-size="34.4" text-anchor="start" fill="#0000FF">-2.25</text>
<text transform="translate(768.5,1134.4) scale(1,1.04)" font-size="34.4" text-anchor="start" fill="#0000FF">-2.40</text>
<text transform="translate(768.5,1242.6) scale(1,1.04)" font-size="34.4" text-anchor="start" fill="#0000FF">-2.55</text>
<text transform="translate(437.6,695) scale(1,1.0)" font-size="44.4" text-anchor="middle" fill="#0000FF">log(<tspan font-style="italic">v</tspan>/V s<tspan dy="-19.76" font-size="27.97">-1</tspan><tspan dy="19.76">)</tspan></text>
<text transform="translate(437.1,1355) scale(1,1.0)" font-size="44.4" text-anchor="middle" fill="#000"><tspan font-style="italic">v</tspan><tspan dy="-19.09" font-size="29.75">1/2</tspan><tspan dy="19.09">/(V s</tspan><tspan dy="-19.09" font-size="27.53">-1</tspan><tspan dy="19.09">)</tspan><tspan dy="-19.09" font-size="29.75">1/2</tspan></text>
<text transform="translate(37.2,1008.1) rotate(-90)" font-size="44.4" text-anchor="middle" fill="#000"><tspan font-style="italic">j</tspan><tspan dy="8.88" font-size="29.3">pc</tspan><tspan dy="-8.88">/A cm</tspan><tspan dx="2" dy="-18.65" font-size="29.3">-2</tspan></text>
<text transform="translate(873.5,1008.5) rotate(-90)" font-size="44.4" text-anchor="middle" fill="#0000FF"><tspan font-style="italic">E</tspan><tspan dy="8.88" font-size="29.3">pc</tspan><tspan dy="-8.88">/V vs Ag/AgCl</tspan></text>
<text transform="translate(187.5,798.8) scale(1,1.0)" font-size="58" text-anchor="start" fill="#000">c</text>
<line x1="1113" y1="886.7" x2="1609.5" y2="907.1" stroke="#0000FF" stroke-width="2.4"/>
<rect x="1107.32" y="881.8" width="11" height="11" fill="#0000FF"/>
<rect x="1265.1" y="887.1" width="11" height="11" fill="#0000FF"/>
<rect x="1369.03" y="891.8" width="11" height="11" fill="#0000FF"/>
<rect x="1446.65" y="891.6" width="11" height="11" fill="#0000FF"/>
<rect x="1508.63" y="896.9" width="11" height="11" fill="#0000FF"/>
<rect x="1560.23" y="896.9" width="11" height="11" fill="#0000FF"/>
<rect x="1604.43" y="902.2" width="11" height="11" fill="#0000FF"/>
<rect x="1313.03" y="952.1" width="11.2" height="11.2" fill="#000"/>
<rect x="1389.14" y="1016.6" width="11.2" height="11.2" fill="#000"/>
<rect x="1451" y="1064.2" width="11.2" height="11.2" fill="#000"/>
<rect x="1504.49" y="1099.9" width="11.2" height="11.2" fill="#000"/>
<rect x="1552.3" y="1132.7" width="11.2" height="11.2" fill="#000"/>
<rect x="1595.92" y="1152.7" width="11.2" height="11.2" fill="#000"/>
<rect x="1636.3" y="1174.1" width="11.2" height="11.2" fill="#000"/>
<line x1="1058" y1="758" x2="1645.2" y2="1215.5" stroke="#FF0000" stroke-width="2.4"/>
<line x1="1057.1" y1="758.55" x2="1057.1" y2="1275.75" stroke="#000" stroke-width="3.9"/>
<line x1="1055.15" y1="1273.8" x2="1697.7" y2="1273.8" stroke="#000" stroke-width="3.9"/>
<line x1="1055.15" y1="756.6" x2="1699.65" y2="756.6" stroke="#0000FF" stroke-width="3.9"/>
<line x1="1697.7" y1="754.65" x2="1697.7" y2="1275.75" stroke="#0000FF" stroke-width="3.9"/>
<line x1="1163.87" y1="1273.8" x2="1163.87" y2="1268.85" stroke="#000" stroke-width="2.5"/>
<line x1="1270.64" y1="1273.8" x2="1270.64" y2="1263.65" stroke="#000" stroke-width="2.5"/>
<line x1="1377.41" y1="1273.8" x2="1377.41" y2="1268.85" stroke="#000" stroke-width="2.5"/>
<line x1="1484.18" y1="1273.8" x2="1484.18" y2="1263.65" stroke="#000" stroke-width="2.5"/>
<line x1="1590.95" y1="1273.8" x2="1590.95" y2="1268.85" stroke="#000" stroke-width="2.5"/>
<line x1="1057.1" y1="834.8" x2="1062.05" y2="834.8" stroke="#000" stroke-width="2.5"/>
<line x1="1057.1" y1="913" x2="1067.25" y2="913" stroke="#000" stroke-width="2.5"/>
<line x1="1057.1" y1="991.2" x2="1062.05" y2="991.2" stroke="#000" stroke-width="2.5"/>
<line x1="1057.1" y1="1069.4" x2="1067.25" y2="1069.4" stroke="#000" stroke-width="2.5"/>
<line x1="1057.1" y1="1147.6" x2="1062.05" y2="1147.6" stroke="#000" stroke-width="2.5"/>
<line x1="1057.1" y1="1225.8" x2="1067.25" y2="1225.8" stroke="#000" stroke-width="2.5"/>
<line x1="1092.8" y1="756.6" x2="1092.8" y2="766.75" stroke="#0000FF" stroke-width="2.5"/>
<line x1="1181.7" y1="756.6" x2="1181.7" y2="761.55" stroke="#0000FF" stroke-width="2.5"/>
<line x1="1270.6" y1="756.6" x2="1270.6" y2="766.75" stroke="#0000FF" stroke-width="2.5"/>
<line x1="1359.5" y1="756.6" x2="1359.5" y2="761.55" stroke="#0000FF" stroke-width="2.5"/>
<line x1="1448.4" y1="756.6" x2="1448.4" y2="766.75" stroke="#0000FF" stroke-width="2.5"/>
<line x1="1537.3" y1="756.6" x2="1537.3" y2="761.55" stroke="#0000FF" stroke-width="2.5"/>
<line x1="1626.2" y1="756.6" x2="1626.2" y2="766.75" stroke="#0000FF" stroke-width="2.5"/>
<line x1="1697.7" y1="830.59" x2="1692.75" y2="830.59" stroke="#0000FF" stroke-width="2.5"/>
<line x1="1697.7" y1="904.57" x2="1687.55" y2="904.57" stroke="#0000FF" stroke-width="2.5"/>
<line x1="1697.7" y1="978.56" x2="1692.75" y2="978.56" stroke="#0000FF" stroke-width="2.5"/>
<line x1="1697.7" y1="1052.54" x2="1687.55" y2="1052.54" stroke="#0000FF" stroke-width="2.5"/>
<line x1="1697.7" y1="1126.52" x2="1692.75" y2="1126.52" stroke="#0000FF" stroke-width="2.5"/>
<line x1="1697.7" y1="1200.51" x2="1687.55" y2="1200.51" stroke="#0000FF" stroke-width="2.5"/>
<text transform="translate(1057.1,1310.8) scale(1,1.04)" font-size="34.4" text-anchor="middle" fill="#000">0.0</text>
<text transform="translate(1270.64,1310.8) scale(1,1.04)" font-size="34.4" text-anchor="middle" fill="#000">0.2</text>
<text transform="translate(1484.18,1310.8) scale(1,1.04)" font-size="34.4" text-anchor="middle" fill="#000">0.4</text>
<text transform="translate(1697.72,1310.8) scale(1,1.04)" font-size="34.4" text-anchor="middle" fill="#000">0.6</text>
<text transform="translate(1046.5,767.6) scale(1,1.04)" font-size="34.4" text-anchor="end" fill="#000">0.0</text>
<text transform="translate(1046.5,924) scale(1,1.04)" font-size="34.4" text-anchor="end" fill="#000">-0.1</text>
<text transform="translate(1046.5,1080.4) scale(1,1.04)" font-size="34.4" text-anchor="end" fill="#000">-0.2</text>
<text transform="translate(1046.5,1236.8) scale(1,1.04)" font-size="34.4" text-anchor="end" fill="#000">-0.3</text>
<text transform="translate(1092.8,738.5) scale(1,1.04)" font-size="34.4" text-anchor="middle" fill="#0000FF">-1.25</text>
<text transform="translate(1270.6,738.5) scale(1,1.04)" font-size="34.4" text-anchor="middle" fill="#0000FF">-1.00</text>
<text transform="translate(1448.4,738.5) scale(1,1.04)" font-size="34.4" text-anchor="middle" fill="#0000FF">-0.75</text>
<text transform="translate(1626.2,738.5) scale(1,1.04)" font-size="34.4" text-anchor="middle" fill="#0000FF">-0.50</text>
<text transform="translate(1708.5,767.6) scale(1,1.04)" font-size="34.4" text-anchor="start" fill="#0000FF">-1.8</text>
<text transform="translate(1708.5,915.57) scale(1,1.04)" font-size="34.4" text-anchor="start" fill="#0000FF">-2.0</text>
<text transform="translate(1708.5,1063.54) scale(1,1.04)" font-size="34.4" text-anchor="start" fill="#0000FF">-2.2</text>
<text transform="translate(1708.5,1211.51) scale(1,1.04)" font-size="34.4" text-anchor="start" fill="#0000FF">-2.4</text>
<text transform="translate(1378.2,697) scale(1,1.0)" font-size="44.4" text-anchor="middle" fill="#0000FF">log(<tspan font-style="italic">v</tspan>/V s<tspan dy="-19.76" font-size="27.97">-1</tspan><tspan dy="19.76">)</tspan></text>
<text transform="translate(1377.2,1362) scale(1,1.0)" font-size="44.4" text-anchor="middle" fill="#000"><tspan font-style="italic">v</tspan><tspan dy="-19.09" font-size="29.75">1/2</tspan><tspan dy="19.09">/(V s</tspan><tspan dy="-19.09" font-size="27.53">-1</tspan><tspan dy="19.09">)</tspan><tspan dy="-19.09" font-size="29.75">1/2</tspan></text>
<text transform="translate(979.7,1017.1) rotate(-90)" font-size="44.4" text-anchor="middle" fill="#000"><tspan font-style="italic">j</tspan><tspan dy="8.88" font-size="29.3">pc</tspan><tspan dy="-8.88">/A cm</tspan><tspan dx="2" dy="-18.65" font-size="29.3">-2</tspan></text>
<text transform="translate(1803.5,1015) rotate(-90)" font-size="44.4" text-anchor="middle" fill="#0000FF"><tspan font-style="italic">E</tspan><tspan dy="8.88" font-size="29.3">pc</tspan><tspan dy="-8.88">/V vs Ag/AgCl</tspan></text>
<text transform="translate(1127,808) scale(1,1.0)" font-size="58" text-anchor="start" fill="#000">d</text>
</svg>
</body></html>
